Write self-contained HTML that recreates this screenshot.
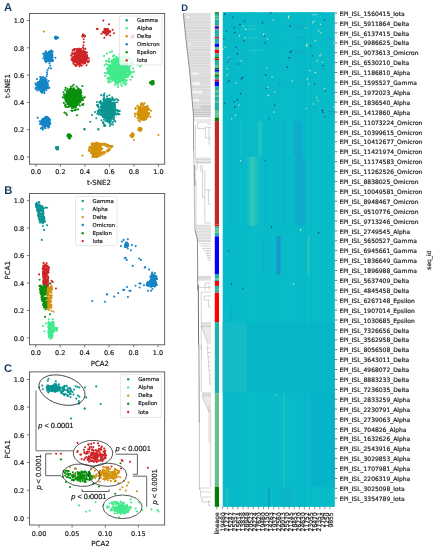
<!DOCTYPE html>
<html><head><meta charset="utf-8"><title>Figure</title>
<style>
html,body{margin:0;padding:0;background:#fff;}
text{text-rendering:geometricPrecision;}
.tk,.al,.lg,.rl,.pv{stroke:#1a1a1a;stroke-width:0.18px;}
body{width:436px;height:550px;overflow:hidden;position:relative;}
svg{position:absolute;left:0;top:0;}
.tk{font-family:"DejaVu Sans","Liberation Sans",sans-serif;font-size:6.5px;fill:#1a1a1a;}
.al{font-family:"DejaVu Sans","Liberation Sans",sans-serif;font-size:7px;fill:#1a1a1a;}
.lg{font-family:"DejaVu Sans","Liberation Sans",sans-serif;font-size:5.35px;fill:#1a1a1a;}
.rl{font-family:"DejaVu Sans","Liberation Sans",sans-serif;font-size:6px;fill:#1a1a1a;}
.pv{font-family:"Liberation Sans",Arial,sans-serif;font-size:7.4px;fill:#222;}
.pl{font-family:"Liberation Sans",Arial,sans-serif;font-size:11.2px;font-weight:bold;fill:#1c3a56;}
</style></head>
<body>
<svg width="436" height="550" viewBox="0 0 436 550">
<ellipse cx="56.4" cy="37.7" rx="1.4" ry="1.1" fill="#1585c6" transform="rotate(0.0 56.4 37.7)"/><ellipse cx="48.6" cy="56.5" rx="3.4" ry="3.9" fill="#1585c6" transform="rotate(0.0 48.6 56.5)"/><ellipse cx="42.3" cy="84.8" rx="4.5" ry="5" fill="#1585c6" transform="rotate(0.0 42.3 84.8)"/><ellipse cx="45.6" cy="122.2" rx="3.6" ry="4.1" fill="#1585c6" transform="rotate(0.0 45.6 122.2)"/><ellipse cx="80.2" cy="57.4" rx="6.2" ry="6.4" fill="#cf2527" transform="rotate(0.0 80.2 57.4)"/><ellipse cx="83.4" cy="35.6" rx="1.3" ry="0.8" fill="#cf2527" transform="rotate(0.0 83.4 35.6)"/><ellipse cx="106.5" cy="31.6" rx="2.4" ry="2.4" fill="#cf2527" transform="rotate(0.0 106.5 31.6)"/><ellipse cx="118.8" cy="70.4" rx="9.3" ry="10.2" fill="#43ea8c" transform="rotate(0.0 118.8 70.4)"/><ellipse cx="73.5" cy="97.4" rx="7.1" ry="8" fill="#0b900e" transform="rotate(0.0 73.5 97.4)"/><ellipse cx="152" cy="82.9" rx="1.9" ry="1.4" fill="#0b900e" transform="rotate(-35 152 82.9)"/><ellipse cx="69.2" cy="136.2" rx="1.5" ry="1.7" fill="#0b900e" transform="rotate(0.0 69.2 136.2)"/><ellipse cx="108" cy="109.6" rx="6.5" ry="9" fill="#0c9592" transform="rotate(0.0 108 109.6)"/><ellipse cx="57.2" cy="148.2" rx="1.3" ry="1.3" fill="#0c9592" transform="rotate(0.0 57.2 148.2)"/><ellipse cx="143" cy="113" rx="4.8" ry="5.8" fill="#d4920c" transform="rotate(0.0 143 113)"/><ellipse cx="139.9" cy="129.4" rx="1.4" ry="1.1" fill="#d4920c" transform="rotate(0.0 139.9 129.4)"/><ellipse cx="132.2" cy="135.4" rx="1.8" ry="1.5" fill="#d4920c" transform="rotate(0.0 132.2 135.4)"/><ellipse cx="96" cy="150" rx="4.6" ry="5.8" fill="#d4920c" transform="rotate(0.0 96 150)"/><g fill="#d4920c"><circle cx="43.8" cy="31.6" r="1.05"/><circle cx="148.1" cy="113.1" r="1.05"/><circle cx="137.3" cy="113.3" r="1.05"/><circle cx="143.9" cy="111.9" r="1.05"/><circle cx="140" cy="113" r="1.05"/><circle cx="141.6" cy="113.7" r="1.05"/><circle cx="140.5" cy="116.5" r="1.05"/><circle cx="147.1" cy="113.1" r="1.05"/><circle cx="144.2" cy="111.9" r="1.05"/><circle cx="146.9" cy="111.3" r="1.05"/><circle cx="144.4" cy="119.9" r="1.05"/><circle cx="139.1" cy="113.8" r="1.05"/><circle cx="139" cy="117.7" r="1.05"/><circle cx="144.9" cy="115.4" r="1.05"/><circle cx="142.7" cy="114.8" r="1.05"/><circle cx="145.3" cy="108.8" r="1.05"/><circle cx="138.5" cy="109" r="1.05"/><circle cx="139.8" cy="113.1" r="1.05"/><circle cx="138.8" cy="112" r="1.05"/><circle cx="142.1" cy="116.3" r="1.05"/><circle cx="139.8" cy="117.8" r="1.05"/><circle cx="146" cy="119.2" r="1.05"/><circle cx="143.3" cy="116.7" r="1.05"/><circle cx="145.7" cy="116.1" r="1.05"/><circle cx="139.6" cy="117.3" r="1.05"/><circle cx="145.4" cy="110.8" r="1.05"/><circle cx="144.2" cy="109.3" r="1.05"/><circle cx="141.2" cy="114.4" r="1.05"/><circle cx="145.9" cy="110.3" r="1.05"/><circle cx="142.7" cy="111.9" r="1.05"/><circle cx="142.1" cy="109.8" r="1.05"/><circle cx="138.3" cy="114.8" r="1.05"/><circle cx="145.1" cy="117.6" r="1.05"/><circle cx="144.2" cy="110.5" r="1.05"/><circle cx="140.5" cy="113.6" r="1.05"/><circle cx="145.6" cy="116.9" r="1.05"/><circle cx="138.4" cy="114.6" r="1.05"/><circle cx="146.2" cy="108.3" r="1.05"/><circle cx="140.8" cy="117.3" r="1.05"/><circle cx="140.5" cy="107.1" r="1.05"/><circle cx="141.3" cy="108.3" r="1.05"/><circle cx="146.7" cy="118" r="1.05"/><circle cx="142.3" cy="117.5" r="1.05"/><circle cx="145" cy="110.8" r="1.05"/><circle cx="145.5" cy="111.2" r="1.05"/><circle cx="146.7" cy="115.7" r="1.05"/><circle cx="144.1" cy="108.6" r="1.05"/><circle cx="145.1" cy="109.2" r="1.05"/><circle cx="143.8" cy="110.8" r="1.05"/><circle cx="142.6" cy="115.5" r="1.05"/><circle cx="142.7" cy="108.1" r="1.05"/><circle cx="141.4" cy="110.1" r="1.05"/><circle cx="142.4" cy="105.9" r="1.05"/><circle cx="146" cy="114.9" r="1.05"/><circle cx="146.8" cy="108.1" r="1.05"/><circle cx="145" cy="110.5" r="1.05"/><circle cx="141.4" cy="112.2" r="1.05"/><circle cx="138.9" cy="115.3" r="1.05"/><circle cx="142.8" cy="117.7" r="1.05"/><circle cx="141.8" cy="114.6" r="1.05"/><circle cx="147.8" cy="115.7" r="1.05"/><circle cx="149" cy="113.1" r="1.05"/><circle cx="147.8" cy="108.7" r="1.05"/><circle cx="143.1" cy="112.7" r="1.05"/><circle cx="145.5" cy="115.7" r="1.05"/><circle cx="143.6" cy="114.6" r="1.05"/><circle cx="148" cy="109.6" r="1.05"/><circle cx="143.3" cy="109.4" r="1.05"/><circle cx="146.3" cy="107.8" r="1.05"/><circle cx="142" cy="115.3" r="1.05"/><circle cx="145.5" cy="116.5" r="1.05"/><circle cx="143.8" cy="111.3" r="1.05"/><circle cx="139.8" cy="114.8" r="1.05"/><circle cx="144.8" cy="111.2" r="1.05"/><circle cx="141.1" cy="109.6" r="1.05"/><circle cx="139.7" cy="107.8" r="1.05"/><circle cx="145.5" cy="107.1" r="1.05"/><circle cx="142.2" cy="116.6" r="1.05"/><circle cx="145.2" cy="115.5" r="1.05"/><circle cx="146.9" cy="117.3" r="1.05"/><circle cx="145.5" cy="113.9" r="1.05"/><circle cx="144.3" cy="106.9" r="1.05"/><circle cx="146.7" cy="112.3" r="1.05"/><circle cx="148.2" cy="114.8" r="1.05"/><circle cx="141.8" cy="119.2" r="1.05"/><circle cx="144.1" cy="113.2" r="1.05"/><circle cx="139" cy="109.6" r="1.05"/><circle cx="139" cy="111" r="1.05"/><circle cx="141.2" cy="111.5" r="1.05"/><circle cx="146.3" cy="114.7" r="1.05"/><circle cx="140.1" cy="111.9" r="1.05"/><circle cx="144.7" cy="117.3" r="1.05"/><circle cx="140.4" cy="115" r="1.05"/><circle cx="148.2" cy="109.9" r="1.05"/><circle cx="147" cy="114.4" r="1.05"/><circle cx="143.3" cy="117.2" r="1.05"/><circle cx="144.7" cy="113.4" r="1.05"/><circle cx="145.1" cy="113.5" r="1.05"/><circle cx="142" cy="111.4" r="1.05"/><circle cx="147.1" cy="108.8" r="1.05"/><circle cx="142.4" cy="118.9" r="1.05"/><circle cx="145" cy="112.3" r="1.05"/><circle cx="139.2" cy="111.2" r="1.05"/><circle cx="141.8" cy="116.6" r="1.05"/><circle cx="147.1" cy="116" r="1.05"/><circle cx="144.3" cy="117.4" r="1.05"/><circle cx="146.2" cy="111.1" r="1.05"/><circle cx="140.7" cy="119.4" r="1.05"/><circle cx="139.1" cy="110.3" r="1.05"/><circle cx="143.8" cy="118.7" r="1.05"/><circle cx="139.8" cy="116.7" r="1.05"/><circle cx="141.6" cy="114.2" r="1.05"/><circle cx="146.6" cy="108.8" r="1.05"/><circle cx="146.2" cy="112" r="1.05"/><circle cx="142.6" cy="115.6" r="1.05"/><circle cx="141.8" cy="116.9" r="1.05"/><circle cx="144.2" cy="116.4" r="1.05"/><circle cx="141.5" cy="119.4" r="1.05"/><circle cx="137.9" cy="115.2" r="1.05"/><circle cx="145.5" cy="114" r="1.05"/><circle cx="144.3" cy="112.5" r="1.05"/><circle cx="146.9" cy="115.2" r="1.05"/><circle cx="142.3" cy="116.1" r="1.05"/><circle cx="139.4" cy="109.5" r="1.05"/><circle cx="144.7" cy="117.9" r="1.05"/><circle cx="137.7" cy="114.9" r="1.05"/><circle cx="145.6" cy="114.4" r="1.05"/><circle cx="142" cy="112.5" r="1.05"/><circle cx="146.3" cy="107.2" r="1.05"/><circle cx="140.5" cy="118.6" r="1.05"/><circle cx="143" cy="120" r="1.05"/><circle cx="143.1" cy="113.5" r="1.05"/><circle cx="146.7" cy="115" r="1.05"/><circle cx="148.8" cy="114.7" r="1.05"/><circle cx="139.9" cy="109" r="1.05"/><circle cx="140.3" cy="109.7" r="1.05"/><circle cx="146.8" cy="109" r="1.05"/><circle cx="140.1" cy="114.6" r="1.05"/><circle cx="145.1" cy="116.2" r="1.05"/><circle cx="142" cy="114.6" r="1.05"/><circle cx="145.7" cy="111.3" r="1.05"/><circle cx="141.5" cy="112.5" r="1.05"/><circle cx="138.4" cy="111.1" r="1.05"/><circle cx="148.2" cy="116.4" r="1.05"/><circle cx="144.6" cy="116.2" r="1.05"/><circle cx="142.7" cy="108.8" r="1.05"/><circle cx="145.1" cy="110.5" r="1.05"/><circle cx="141" cy="118.5" r="1.05"/><circle cx="146.6" cy="107.8" r="1.05"/><circle cx="142" cy="118.1" r="1.05"/><circle cx="138.8" cy="116.1" r="1.05"/><circle cx="143.8" cy="119.5" r="1.05"/><circle cx="142.4" cy="110.1" r="1.05"/><circle cx="141.6" cy="116.8" r="1.05"/><circle cx="146.7" cy="110.9" r="1.05"/><circle cx="138.7" cy="108.4" r="1.05"/><circle cx="138.4" cy="117.2" r="1.05"/><circle cx="142.8" cy="113.8" r="1.05"/><circle cx="147" cy="116.6" r="1.05"/><circle cx="139" cy="117.5" r="1.05"/><circle cx="138.1" cy="111.8" r="1.05"/><circle cx="138.5" cy="120.2" r="1.05"/><circle cx="140.8" cy="105.1" r="1.05"/><circle cx="134.9" cy="113.6" r="1.05"/><circle cx="149.2" cy="109.4" r="1.05"/><circle cx="150.4" cy="117" r="1.05"/><circle cx="135" cy="116.3" r="1.05"/><circle cx="143.6" cy="104.7" r="1.05"/><circle cx="147.3" cy="105.8" r="1.05"/><circle cx="141.1" cy="103.4" r="1.05"/><circle cx="135.7" cy="108.1" r="1.05"/><circle cx="137.4" cy="118" r="1.05"/><circle cx="138.5" cy="106.5" r="1.05"/><circle cx="141.1" cy="104.5" r="1.05"/><circle cx="142.6" cy="103.3" r="1.05"/><circle cx="135.4" cy="108.9" r="1.05"/><circle cx="144.6" cy="103.4" r="1.05"/><circle cx="149" cy="113.9" r="1.05"/><circle cx="138.5" cy="106.9" r="1.05"/><circle cx="147.9" cy="107" r="1.05"/><circle cx="142.7" cy="105.1" r="1.05"/><circle cx="137.3" cy="105.8" r="1.05"/><circle cx="147.5" cy="106.7" r="1.05"/><circle cx="135.7" cy="114" r="1.05"/><circle cx="139" cy="120.2" r="1.05"/><circle cx="151" cy="110.8" r="1.05"/><circle cx="140" cy="121.5" r="1.05"/><circle cx="141" cy="129.1" r="1.05"/><circle cx="140.9" cy="128.2" r="1.05"/><circle cx="140.3" cy="129.1" r="1.05"/><circle cx="141.7" cy="128.7" r="1.05"/><circle cx="140" cy="130.7" r="1.05"/><circle cx="141.2" cy="130.1" r="1.05"/><circle cx="139.5" cy="128.1" r="1.05"/><circle cx="140.6" cy="128.7" r="1.05"/><circle cx="141.2" cy="130.4" r="1.05"/><circle cx="140.9" cy="129.5" r="1.05"/><circle cx="140" cy="130.8" r="1.05"/><circle cx="138.2" cy="129.9" r="1.05"/><circle cx="139" cy="128.1" r="1.05"/><circle cx="140.3" cy="127.9" r="1.05"/><circle cx="139.7" cy="130.3" r="1.05"/><circle cx="138.8" cy="128.5" r="1.05"/><circle cx="132.6" cy="133.5" r="1.05"/><circle cx="131.9" cy="136.1" r="1.05"/><circle cx="132.1" cy="133.6" r="1.05"/><circle cx="132.1" cy="135.9" r="1.05"/><circle cx="133.4" cy="135.6" r="1.05"/><circle cx="132" cy="136.4" r="1.05"/><circle cx="133.2" cy="135.7" r="1.05"/><circle cx="131.8" cy="135.9" r="1.05"/><circle cx="132.6" cy="136.8" r="1.05"/><circle cx="133.5" cy="133.7" r="1.05"/><circle cx="131.5" cy="135.8" r="1.05"/><circle cx="132" cy="137.2" r="1.05"/><circle cx="130.6" cy="136.3" r="1.05"/><circle cx="132" cy="133.6" r="1.05"/><circle cx="132.7" cy="134.9" r="1.05"/><circle cx="132.1" cy="135.8" r="1.05"/><circle cx="130.3" cy="135.2" r="1.05"/><circle cx="132.2" cy="135.9" r="1.05"/><circle cx="131.2" cy="135.6" r="1.05"/><circle cx="132.7" cy="136.7" r="1.05"/><circle cx="133.6" cy="135" r="1.05"/><circle cx="131.8" cy="134.1" r="1.05"/><circle cx="133.9" cy="140.1" r="1.05"/><circle cx="158.5" cy="135" r="1.05"/><circle cx="82.5" cy="155.6" r="1.05"/><circle cx="94.2" cy="151.5" r="1.05"/><circle cx="98" cy="155.8" r="1.05"/><circle cx="93.2" cy="151.7" r="1.05"/><circle cx="101.4" cy="149.5" r="1.05"/><circle cx="95.7" cy="154.7" r="1.05"/><circle cx="93.8" cy="148.8" r="1.05"/><circle cx="93.2" cy="151.7" r="1.05"/><circle cx="96.7" cy="147.9" r="1.05"/><circle cx="98.8" cy="149.8" r="1.05"/><circle cx="95.2" cy="151.7" r="1.05"/><circle cx="100.5" cy="146.6" r="1.05"/><circle cx="99.8" cy="152.2" r="1.05"/><circle cx="92.5" cy="153.6" r="1.05"/><circle cx="93.1" cy="156" r="1.05"/><circle cx="97" cy="156.4" r="1.05"/><circle cx="95.5" cy="155.8" r="1.05"/><circle cx="92.2" cy="152.3" r="1.05"/><circle cx="91.5" cy="149.2" r="1.05"/><circle cx="97.3" cy="150.7" r="1.05"/><circle cx="98.9" cy="149.3" r="1.05"/><circle cx="94.2" cy="152.8" r="1.05"/><circle cx="92.5" cy="144.3" r="1.05"/><circle cx="93.3" cy="152.3" r="1.05"/><circle cx="95.4" cy="151" r="1.05"/><circle cx="97.1" cy="150.8" r="1.05"/><circle cx="93.4" cy="156.4" r="1.05"/><circle cx="98.7" cy="154.1" r="1.05"/><circle cx="96.3" cy="151.3" r="1.05"/><circle cx="97.1" cy="147.8" r="1.05"/><circle cx="99.5" cy="154.9" r="1.05"/><circle cx="96.1" cy="153.2" r="1.05"/><circle cx="98.4" cy="148.9" r="1.05"/><circle cx="97.6" cy="146.5" r="1.05"/><circle cx="93" cy="148.4" r="1.05"/><circle cx="93" cy="155.9" r="1.05"/><circle cx="98" cy="148.4" r="1.05"/><circle cx="95.7" cy="147.3" r="1.05"/><circle cx="95.5" cy="151.8" r="1.05"/><circle cx="93" cy="145.1" r="1.05"/><circle cx="95.9" cy="143.7" r="1.05"/><circle cx="94.1" cy="151.9" r="1.05"/><circle cx="99.8" cy="150.1" r="1.05"/><circle cx="99.5" cy="148" r="1.05"/><circle cx="91.9" cy="145.4" r="1.05"/><circle cx="99.2" cy="145.3" r="1.05"/><circle cx="93.7" cy="148.1" r="1.05"/><circle cx="96" cy="145.3" r="1.05"/><circle cx="95.3" cy="146.7" r="1.05"/><circle cx="98.2" cy="148.9" r="1.05"/><circle cx="97.4" cy="143.4" r="1.05"/><circle cx="99.1" cy="155.5" r="1.05"/><circle cx="93.2" cy="145.6" r="1.05"/><circle cx="95.9" cy="154.1" r="1.05"/><circle cx="96.4" cy="154.8" r="1.05"/><circle cx="93" cy="145.1" r="1.05"/><circle cx="95.1" cy="145.9" r="1.05"/><circle cx="93.4" cy="155.4" r="1.05"/><circle cx="98.7" cy="149.4" r="1.05"/><circle cx="93.4" cy="152" r="1.05"/><circle cx="96.7" cy="149.9" r="1.05"/><circle cx="100" cy="146.1" r="1.05"/><circle cx="93.6" cy="155.2" r="1.05"/><circle cx="92.8" cy="154.2" r="1.05"/><circle cx="91.1" cy="153.1" r="1.05"/><circle cx="91" cy="151.7" r="1.05"/><circle cx="92.9" cy="148" r="1.05"/><circle cx="98.5" cy="149.3" r="1.05"/><circle cx="100.8" cy="146.1" r="1.05"/><circle cx="98.6" cy="145.4" r="1.05"/><circle cx="92" cy="145.2" r="1.05"/><circle cx="91.2" cy="152.7" r="1.05"/><circle cx="96.8" cy="143.4" r="1.05"/><circle cx="91.6" cy="152.1" r="1.05"/><circle cx="97.3" cy="151.1" r="1.05"/><circle cx="99.9" cy="153.9" r="1.05"/><circle cx="92.6" cy="155.4" r="1.05"/><circle cx="98.1" cy="151.4" r="1.05"/><circle cx="97.9" cy="146" r="1.05"/><circle cx="96.9" cy="156.3" r="1.05"/><circle cx="96.6" cy="157.1" r="1.05"/><circle cx="95.2" cy="156.6" r="1.05"/><circle cx="90.4" cy="150.9" r="1.05"/><circle cx="94.4" cy="156.6" r="1.05"/><circle cx="94.7" cy="154.6" r="1.05"/><circle cx="93.1" cy="146" r="1.05"/><circle cx="93.7" cy="144.7" r="1.05"/><circle cx="95.9" cy="150.7" r="1.05"/><circle cx="95.3" cy="144.5" r="1.05"/><circle cx="92.2" cy="148" r="1.05"/><circle cx="98.8" cy="148.3" r="1.05"/><circle cx="98" cy="148.5" r="1.05"/><circle cx="94.1" cy="143.4" r="1.05"/><circle cx="98.9" cy="155.2" r="1.05"/><circle cx="95.8" cy="151.7" r="1.05"/><circle cx="91.6" cy="152.5" r="1.05"/><circle cx="94.8" cy="156.9" r="1.05"/><circle cx="99" cy="150.1" r="1.05"/><circle cx="94.1" cy="153.7" r="1.05"/><circle cx="95.7" cy="151" r="1.05"/><circle cx="96.7" cy="153.6" r="1.05"/><circle cx="94.3" cy="146.1" r="1.05"/><circle cx="95.3" cy="145.3" r="1.05"/><circle cx="94.8" cy="152.4" r="1.05"/><circle cx="96.7" cy="156.8" r="1.05"/><circle cx="92.9" cy="151.1" r="1.05"/><circle cx="97.1" cy="156.6" r="1.05"/><circle cx="94.6" cy="144.2" r="1.05"/><circle cx="97" cy="146.7" r="1.05"/><circle cx="95.8" cy="148.1" r="1.05"/><circle cx="94.3" cy="146.5" r="1.05"/><circle cx="94.5" cy="147.1" r="1.05"/><circle cx="93.1" cy="154.7" r="1.05"/><circle cx="99.1" cy="148.4" r="1.05"/><circle cx="97" cy="152.2" r="1.05"/><circle cx="93.4" cy="144" r="1.05"/><circle cx="99.4" cy="150.4" r="1.05"/><circle cx="98.8" cy="156.1" r="1.05"/><circle cx="97" cy="151.4" r="1.05"/><circle cx="96.7" cy="142.8" r="1.05"/><circle cx="96.3" cy="147.6" r="1.05"/><circle cx="92.5" cy="152.8" r="1.05"/><circle cx="100" cy="146.3" r="1.05"/><circle cx="99.6" cy="151.8" r="1.05"/><circle cx="96.8" cy="144.8" r="1.05"/><circle cx="93.2" cy="143.9" r="1.05"/><circle cx="101.3" cy="149.1" r="1.05"/><circle cx="93.1" cy="148.3" r="1.05"/><circle cx="97.3" cy="152.5" r="1.05"/><circle cx="92.8" cy="145.1" r="1.05"/><circle cx="99.5" cy="144.7" r="1.05"/><circle cx="95.2" cy="154" r="1.05"/><circle cx="97.4" cy="155" r="1.05"/><circle cx="100.8" cy="147.9" r="1.05"/><circle cx="93.9" cy="151.1" r="1.05"/><circle cx="99" cy="144.3" r="1.05"/><circle cx="96.4" cy="146.1" r="1.05"/><circle cx="92.6" cy="153.5" r="1.05"/><circle cx="98.5" cy="148.2" r="1.05"/><circle cx="94.8" cy="150.9" r="1.05"/><circle cx="98.9" cy="150.1" r="1.05"/><circle cx="97.7" cy="144.5" r="1.05"/><circle cx="92.3" cy="150.7" r="1.05"/><circle cx="95.5" cy="156.3" r="1.05"/><circle cx="94.5" cy="150.1" r="1.05"/><circle cx="92" cy="144.9" r="1.05"/><circle cx="101.2" cy="153.2" r="1.05"/><circle cx="98.6" cy="152.3" r="1.05"/><circle cx="101.7" cy="149" r="1.05"/><circle cx="98" cy="155.6" r="1.05"/><circle cx="93.2" cy="147" r="1.05"/><circle cx="97" cy="144.4" r="1.05"/><circle cx="96.6" cy="155" r="1.05"/><circle cx="94.8" cy="144.5" r="1.05"/><circle cx="91.2" cy="148.4" r="1.05"/><circle cx="96.8" cy="151.1" r="1.05"/><circle cx="100.5" cy="151.2" r="1.05"/><circle cx="91.1" cy="152.6" r="1.05"/><circle cx="97.9" cy="149.6" r="1.05"/><circle cx="93.3" cy="153.2" r="1.05"/><circle cx="90.7" cy="148" r="1.05"/><circle cx="93.4" cy="147.7" r="1.05"/><circle cx="94.3" cy="146.5" r="1.05"/><circle cx="94.3" cy="149.2" r="1.05"/><circle cx="92.3" cy="148.1" r="1.05"/><circle cx="93.3" cy="145.7" r="1.05"/><circle cx="91.5" cy="147.3" r="1.05"/><circle cx="99.4" cy="154.6" r="1.05"/><circle cx="92.6" cy="145.8" r="1.05"/><circle cx="94.6" cy="151.2" r="1.05"/><circle cx="100.7" cy="146.9" r="1.05"/><circle cx="102.3" cy="148.8" r="1.05"/><circle cx="101.1" cy="144.4" r="1.05"/><circle cx="89.5" cy="147.4" r="1.05"/><circle cx="98.3" cy="143.3" r="1.05"/><circle cx="100.2" cy="155.8" r="1.05"/><circle cx="89.6" cy="148.3" r="1.05"/><circle cx="89.7" cy="146.7" r="1.05"/><circle cx="97.9" cy="143" r="1.05"/><circle cx="92.4" cy="157.2" r="1.05"/><circle cx="96.2" cy="142.8" r="1.05"/><circle cx="91.8" cy="144.7" r="1.05"/><circle cx="89" cy="149.8" r="1.05"/><circle cx="102" cy="153.8" r="1.05"/><circle cx="89.1" cy="150.9" r="1.05"/><circle cx="99.7" cy="144.4" r="1.05"/><circle cx="91.8" cy="143.4" r="1.05"/><circle cx="102.7" cy="144.5" r="1.05"/><circle cx="102" cy="143.7" r="1.05"/><circle cx="112.4" cy="146.1" r="1.05"/><circle cx="105.6" cy="143.7" r="1.05"/><circle cx="108.1" cy="145.5" r="1.05"/><circle cx="107.8" cy="144.9" r="1.05"/><circle cx="107.2" cy="146.7" r="1.05"/><circle cx="105.4" cy="145.8" r="1.05"/><circle cx="111.2" cy="147.6" r="1.05"/><circle cx="100.9" cy="143.7" r="1.05"/><circle cx="106.7" cy="144.9" r="1.05"/><circle cx="111.1" cy="146.4" r="1.05"/><circle cx="103.6" cy="144.3" r="1.05"/><circle cx="106.7" cy="145.8" r="1.05"/><circle cx="111.7" cy="146.9" r="1.05"/><circle cx="110.5" cy="146" r="1.05"/><circle cx="99.8" cy="144" r="1.05"/><circle cx="104" cy="143.5" r="1.05"/><circle cx="105.4" cy="144.7" r="1.05"/><circle cx="107.6" cy="145.8" r="1.05"/><circle cx="109.5" cy="145.9" r="1.05"/><circle cx="111.1" cy="146.7" r="1.05"/><circle cx="103.3" cy="144.7" r="1.05"/><circle cx="103.5" cy="144" r="1.05"/><circle cx="108.2" cy="145.6" r="1.05"/><circle cx="102.1" cy="144.3" r="1.05"/><circle cx="107.3" cy="144.7" r="1.05"/><circle cx="105.4" cy="144.8" r="1.05"/><circle cx="107.7" cy="145.6" r="1.05"/><circle cx="109.3" cy="146.6" r="1.05"/><circle cx="107.4" cy="151.3" r="1.05"/><circle cx="102.2" cy="153.3" r="1.05"/><circle cx="108.7" cy="149.6" r="1.05"/><circle cx="104.7" cy="152.1" r="1.05"/><circle cx="107.3" cy="151.5" r="1.05"/><circle cx="102.4" cy="154.7" r="1.05"/><circle cx="101.9" cy="153.1" r="1.05"/><circle cx="109.8" cy="149.9" r="1.05"/><circle cx="104.3" cy="152.9" r="1.05"/><circle cx="102.2" cy="153.8" r="1.05"/><circle cx="104.8" cy="152.4" r="1.05"/><circle cx="101.9" cy="153.1" r="1.05"/><circle cx="102.3" cy="153.6" r="1.05"/><circle cx="104.4" cy="153.5" r="1.05"/><circle cx="108.3" cy="150.9" r="1.05"/><circle cx="107.5" cy="150.1" r="1.05"/><circle cx="104.2" cy="152.5" r="1.05"/><circle cx="103.9" cy="152.1" r="1.05"/><circle cx="107.1" cy="151.1" r="1.05"/><circle cx="102.8" cy="152.9" r="1.05"/><circle cx="102.5" cy="152.4" r="1.05"/><circle cx="109" cy="148.9" r="1.05"/></g><g fill="#1585c6"><circle cx="55.3" cy="36.8" r="1.05"/><circle cx="56.5" cy="37" r="1.05"/><circle cx="55.9" cy="38.9" r="1.05"/><circle cx="57.9" cy="37.7" r="1.05"/><circle cx="56.7" cy="36.8" r="1.05"/><circle cx="56.1" cy="38.4" r="1.05"/><circle cx="56.4" cy="38.6" r="1.05"/><circle cx="55.1" cy="37.7" r="1.05"/><circle cx="57.9" cy="37.7" r="1.05"/><circle cx="55.2" cy="36.7" r="1.05"/><circle cx="56.5" cy="38.2" r="1.05"/><circle cx="56.1" cy="37.5" r="1.05"/><circle cx="57.6" cy="37.9" r="1.05"/><circle cx="54.8" cy="38" r="1.05"/><circle cx="46.5" cy="54" r="1.05"/><circle cx="46.5" cy="56.5" r="1.05"/><circle cx="50.5" cy="56.7" r="1.05"/><circle cx="47.9" cy="54.4" r="1.05"/><circle cx="48.4" cy="56.7" r="1.05"/><circle cx="49.4" cy="54.8" r="1.05"/><circle cx="48.2" cy="61.1" r="1.05"/><circle cx="44.6" cy="56.2" r="1.05"/><circle cx="46.2" cy="53.3" r="1.05"/><circle cx="51.3" cy="58.5" r="1.05"/><circle cx="44.6" cy="56.3" r="1.05"/><circle cx="46.5" cy="59.4" r="1.05"/><circle cx="51.1" cy="57.6" r="1.05"/><circle cx="47.9" cy="58.2" r="1.05"/><circle cx="49.7" cy="53.7" r="1.05"/><circle cx="51.9" cy="56" r="1.05"/><circle cx="45.9" cy="54.1" r="1.05"/><circle cx="47.9" cy="54.8" r="1.05"/><circle cx="46.6" cy="57.4" r="1.05"/><circle cx="47.5" cy="57.4" r="1.05"/><circle cx="50.6" cy="56" r="1.05"/><circle cx="47.5" cy="54.1" r="1.05"/><circle cx="51.1" cy="53.7" r="1.05"/><circle cx="51.3" cy="59.8" r="1.05"/><circle cx="52.4" cy="54.9" r="1.05"/><circle cx="47.1" cy="55.7" r="1.05"/><circle cx="50.1" cy="60.9" r="1.05"/><circle cx="46.9" cy="55.8" r="1.05"/><circle cx="51.2" cy="53.9" r="1.05"/><circle cx="46.2" cy="55.2" r="1.05"/><circle cx="46.8" cy="57.8" r="1.05"/><circle cx="52.5" cy="57.6" r="1.05"/><circle cx="45.5" cy="57.2" r="1.05"/><circle cx="47" cy="60.3" r="1.05"/><circle cx="51.2" cy="57" r="1.05"/><circle cx="50.1" cy="56.8" r="1.05"/><circle cx="52" cy="55.7" r="1.05"/><circle cx="45.8" cy="58" r="1.05"/><circle cx="50.4" cy="54.4" r="1.05"/><circle cx="45.6" cy="54.3" r="1.05"/><circle cx="46.7" cy="59.3" r="1.05"/><circle cx="49" cy="51.8" r="1.05"/><circle cx="51" cy="60.3" r="1.05"/><circle cx="52.3" cy="56.6" r="1.05"/><circle cx="49.2" cy="54.8" r="1.05"/><circle cx="45.2" cy="58.7" r="1.05"/><circle cx="52" cy="56.8" r="1.05"/><circle cx="49.4" cy="53.1" r="1.05"/><circle cx="48.3" cy="54.2" r="1.05"/><circle cx="49.4" cy="59.3" r="1.05"/><circle cx="49.7" cy="59.1" r="1.05"/><circle cx="51.7" cy="55.3" r="1.05"/><circle cx="47.4" cy="58.7" r="1.05"/><circle cx="51.3" cy="55.5" r="1.05"/><circle cx="51.7" cy="56.1" r="1.05"/><circle cx="44.6" cy="55.9" r="1.05"/><circle cx="48.5" cy="52.8" r="1.05"/><circle cx="45" cy="58.5" r="1.05"/><circle cx="45.1" cy="59" r="1.05"/><circle cx="51.2" cy="57.8" r="1.05"/><circle cx="44.4" cy="55.9" r="1.05"/><circle cx="48.6" cy="60.9" r="1.05"/><circle cx="47" cy="52.8" r="1.05"/><circle cx="45.7" cy="53" r="1.05"/><circle cx="47.3" cy="59.2" r="1.05"/><circle cx="48.9" cy="57.6" r="1.05"/><circle cx="49.6" cy="61.1" r="1.05"/><circle cx="49.4" cy="55.1" r="1.05"/><circle cx="46.2" cy="54.4" r="1.05"/><circle cx="45.7" cy="54.3" r="1.05"/><circle cx="47.1" cy="61" r="1.05"/><circle cx="45.3" cy="57.3" r="1.05"/><circle cx="47.4" cy="54.9" r="1.05"/><circle cx="51.2" cy="57.7" r="1.05"/><circle cx="48.9" cy="52.1" r="1.05"/><circle cx="48.4" cy="54.9" r="1.05"/><circle cx="51.9" cy="54.2" r="1.05"/><circle cx="50.8" cy="54" r="1.05"/><circle cx="49.4" cy="56" r="1.05"/><circle cx="49.2" cy="56.6" r="1.05"/><circle cx="48.6" cy="58.9" r="1.05"/><circle cx="49.8" cy="59.9" r="1.05"/><circle cx="51.8" cy="57.4" r="1.05"/><circle cx="50.4" cy="60" r="1.05"/><circle cx="51" cy="56.9" r="1.05"/><circle cx="51.5" cy="55.1" r="1.05"/><circle cx="49.9" cy="52.8" r="1.05"/><circle cx="47.2" cy="55.1" r="1.05"/><circle cx="47.8" cy="56.1" r="1.05"/><circle cx="49.9" cy="51.9" r="1.05"/><circle cx="51.3" cy="52.5" r="1.05"/><circle cx="46" cy="61.2" r="1.05"/><circle cx="52.7" cy="60.5" r="1.05"/><circle cx="50" cy="51.2" r="1.05"/><circle cx="52.3" cy="51.5" r="1.05"/><circle cx="52.5" cy="61.2" r="1.05"/><circle cx="52" cy="52.9" r="1.05"/><circle cx="43.7" cy="53.7" r="1.05"/><circle cx="45.1" cy="53.3" r="1.05"/><circle cx="45.7" cy="51.2" r="1.05"/><circle cx="51.2" cy="50.6" r="1.05"/><circle cx="46" cy="62.1" r="1.05"/><circle cx="52.6" cy="51.5" r="1.05"/><circle cx="50.9" cy="60.7" r="1.05"/><circle cx="45.9" cy="52.2" r="1.05"/><circle cx="43.1" cy="53.8" r="1.05"/><circle cx="45.1" cy="60.2" r="1.05"/><circle cx="43.3" cy="58.2" r="1.05"/><circle cx="52.6" cy="59.9" r="1.05"/><circle cx="52.3" cy="61.2" r="1.05"/><circle cx="51" cy="51.5" r="1.05"/><circle cx="44.9" cy="60.8" r="1.05"/><circle cx="49.6" cy="61.8" r="1.05"/><circle cx="46.1" cy="61.6" r="1.05"/><circle cx="55.4" cy="57.7" r="1.05"/><circle cx="49.5" cy="63.5" r="1.05"/><circle cx="50.2" cy="65.8" r="1.05"/><circle cx="48.8" cy="68" r="1.05"/><circle cx="47.6" cy="70" r="1.05"/><circle cx="46.9" cy="72.2" r="1.05"/><circle cx="47.2" cy="74.3" r="1.05"/><circle cx="46.6" cy="76.2" r="1.05"/><circle cx="51" cy="68.5" r="1.05"/><circle cx="46.5" cy="87.5" r="1.05"/><circle cx="39.6" cy="83.2" r="1.05"/><circle cx="46.6" cy="87.4" r="1.05"/><circle cx="43.7" cy="86.5" r="1.05"/><circle cx="43.4" cy="86.1" r="1.05"/><circle cx="44.7" cy="83" r="1.05"/><circle cx="40.5" cy="90.2" r="1.05"/><circle cx="40.5" cy="82.9" r="1.05"/><circle cx="37.5" cy="87.2" r="1.05"/><circle cx="39" cy="88.5" r="1.05"/><circle cx="46.2" cy="87.9" r="1.05"/><circle cx="43.1" cy="79.2" r="1.05"/><circle cx="40.7" cy="81.4" r="1.05"/><circle cx="46" cy="86.6" r="1.05"/><circle cx="42.4" cy="82.1" r="1.05"/><circle cx="41.9" cy="89.4" r="1.05"/><circle cx="42.2" cy="78.8" r="1.05"/><circle cx="44" cy="86.7" r="1.05"/><circle cx="43.7" cy="80" r="1.05"/><circle cx="41.3" cy="78.6" r="1.05"/><circle cx="47.1" cy="82.6" r="1.05"/><circle cx="42.9" cy="80.9" r="1.05"/><circle cx="40.8" cy="82.7" r="1.05"/><circle cx="42.6" cy="79.3" r="1.05"/><circle cx="41.6" cy="80.7" r="1.05"/><circle cx="39.7" cy="87.6" r="1.05"/><circle cx="47.3" cy="86" r="1.05"/><circle cx="38.9" cy="83.8" r="1.05"/><circle cx="37.8" cy="83.2" r="1.05"/><circle cx="38.5" cy="88.7" r="1.05"/><circle cx="45.3" cy="82.9" r="1.05"/><circle cx="45.5" cy="89" r="1.05"/><circle cx="44.5" cy="84.7" r="1.05"/><circle cx="41.1" cy="79.2" r="1.05"/><circle cx="44" cy="83.7" r="1.05"/><circle cx="47" cy="88.2" r="1.05"/><circle cx="44" cy="86.6" r="1.05"/><circle cx="39" cy="82.9" r="1.05"/><circle cx="42.3" cy="82" r="1.05"/><circle cx="44.5" cy="83.3" r="1.05"/><circle cx="42.5" cy="83.2" r="1.05"/><circle cx="41.3" cy="85" r="1.05"/><circle cx="41.1" cy="88" r="1.05"/><circle cx="41.6" cy="80.6" r="1.05"/><circle cx="47.5" cy="87" r="1.05"/><circle cx="46.4" cy="80.9" r="1.05"/><circle cx="42.4" cy="88.8" r="1.05"/><circle cx="42.6" cy="87" r="1.05"/><circle cx="46.2" cy="85.7" r="1.05"/><circle cx="44" cy="86.6" r="1.05"/><circle cx="44.8" cy="81.4" r="1.05"/><circle cx="44.2" cy="89.5" r="1.05"/><circle cx="41.9" cy="89.4" r="1.05"/><circle cx="41.5" cy="89.2" r="1.05"/><circle cx="39.5" cy="81.5" r="1.05"/><circle cx="38.4" cy="88.2" r="1.05"/><circle cx="44" cy="82.9" r="1.05"/><circle cx="43.5" cy="86.4" r="1.05"/><circle cx="47.7" cy="84" r="1.05"/><circle cx="43" cy="91" r="1.05"/><circle cx="43.3" cy="89.1" r="1.05"/><circle cx="36.9" cy="84.9" r="1.05"/><circle cx="45.3" cy="85.7" r="1.05"/><circle cx="41.1" cy="83.8" r="1.05"/><circle cx="42.6" cy="89.1" r="1.05"/><circle cx="45.9" cy="81.1" r="1.05"/><circle cx="44.6" cy="80" r="1.05"/><circle cx="40.9" cy="79.2" r="1.05"/><circle cx="40.3" cy="79.9" r="1.05"/><circle cx="41.6" cy="87.2" r="1.05"/><circle cx="42.4" cy="82.2" r="1.05"/><circle cx="46.1" cy="82.4" r="1.05"/><circle cx="39.7" cy="90.2" r="1.05"/><circle cx="44.6" cy="88.5" r="1.05"/><circle cx="46.9" cy="88.2" r="1.05"/><circle cx="37.8" cy="82.2" r="1.05"/><circle cx="41.3" cy="90.3" r="1.05"/><circle cx="41" cy="80" r="1.05"/><circle cx="45.8" cy="83.5" r="1.05"/><circle cx="38.3" cy="87.5" r="1.05"/><circle cx="44" cy="81.7" r="1.05"/><circle cx="41.1" cy="82.3" r="1.05"/><circle cx="37.6" cy="83" r="1.05"/><circle cx="46.7" cy="86.9" r="1.05"/><circle cx="47.8" cy="85.4" r="1.05"/><circle cx="38.8" cy="85.6" r="1.05"/><circle cx="41.6" cy="80.3" r="1.05"/><circle cx="42.1" cy="83" r="1.05"/><circle cx="38.4" cy="83" r="1.05"/><circle cx="43.3" cy="84.3" r="1.05"/><circle cx="38" cy="86.3" r="1.05"/><circle cx="40.9" cy="84.3" r="1.05"/><circle cx="40.1" cy="83.2" r="1.05"/><circle cx="44.1" cy="90.4" r="1.05"/><circle cx="43.5" cy="88.8" r="1.05"/><circle cx="42.3" cy="79.5" r="1.05"/><circle cx="37.6" cy="82.9" r="1.05"/><circle cx="38" cy="85.9" r="1.05"/><circle cx="44.2" cy="80.1" r="1.05"/><circle cx="40.1" cy="81.7" r="1.05"/><circle cx="39" cy="83.4" r="1.05"/><circle cx="42.2" cy="80.9" r="1.05"/><circle cx="37.5" cy="85.9" r="1.05"/><circle cx="39" cy="84.7" r="1.05"/><circle cx="43.9" cy="81.4" r="1.05"/><circle cx="45.1" cy="80.2" r="1.05"/><circle cx="37.8" cy="86.5" r="1.05"/><circle cx="45.7" cy="85.6" r="1.05"/><circle cx="45" cy="81.1" r="1.05"/><circle cx="38" cy="83" r="1.05"/><circle cx="40.4" cy="80.5" r="1.05"/><circle cx="40.2" cy="86.1" r="1.05"/><circle cx="41.5" cy="88.1" r="1.05"/><circle cx="37.2" cy="87.5" r="1.05"/><circle cx="40.1" cy="88.2" r="1.05"/><circle cx="39.3" cy="88.3" r="1.05"/><circle cx="47.3" cy="82.9" r="1.05"/><circle cx="40.2" cy="87.1" r="1.05"/><circle cx="45.2" cy="81.9" r="1.05"/><circle cx="41.7" cy="83.2" r="1.05"/><circle cx="46.5" cy="79.5" r="1.05"/><circle cx="36.3" cy="85" r="1.05"/><circle cx="35.8" cy="88.8" r="1.05"/><circle cx="45.4" cy="78.2" r="1.05"/><circle cx="43" cy="77.4" r="1.05"/><circle cx="37.5" cy="90.3" r="1.05"/><circle cx="44.2" cy="91.6" r="1.05"/><circle cx="40.3" cy="76.9" r="1.05"/><circle cx="49.1" cy="87.6" r="1.05"/><circle cx="45" cy="78" r="1.05"/><circle cx="48.9" cy="87.9" r="1.05"/><circle cx="42.5" cy="92.7" r="1.05"/><circle cx="37.3" cy="90.3" r="1.05"/><circle cx="42" cy="92.3" r="1.05"/><circle cx="35.4" cy="83.6" r="1.05"/><circle cx="44.5" cy="93.1" r="1.05"/><circle cx="40.8" cy="91.7" r="1.05"/><circle cx="42.1" cy="91.3" r="1.05"/><circle cx="35.8" cy="88.6" r="1.05"/><circle cx="40.8" cy="78.2" r="1.05"/><circle cx="46.4" cy="90.2" r="1.05"/><circle cx="43.1" cy="77.3" r="1.05"/><circle cx="48.6" cy="81.1" r="1.05"/><circle cx="37" cy="79.1" r="1.05"/><circle cx="42.3" cy="77.6" r="1.05"/><circle cx="42" cy="92.2" r="1.05"/><circle cx="36.4" cy="85.2" r="1.05"/><circle cx="35.7" cy="87.7" r="1.05"/><circle cx="46.7" cy="123.7" r="1.05"/><circle cx="46.7" cy="124.7" r="1.05"/><circle cx="46.3" cy="122" r="1.05"/><circle cx="46.4" cy="124.1" r="1.05"/><circle cx="45" cy="122.3" r="1.05"/><circle cx="43.8" cy="122.7" r="1.05"/><circle cx="45.1" cy="126.8" r="1.05"/><circle cx="47.1" cy="125.9" r="1.05"/><circle cx="43.1" cy="124.1" r="1.05"/><circle cx="46.4" cy="120.3" r="1.05"/><circle cx="49.5" cy="119.9" r="1.05"/><circle cx="45.1" cy="121.2" r="1.05"/><circle cx="43.8" cy="118.8" r="1.05"/><circle cx="45.9" cy="119.8" r="1.05"/><circle cx="49.7" cy="120.8" r="1.05"/><circle cx="47.5" cy="124.1" r="1.05"/><circle cx="49.7" cy="123.2" r="1.05"/><circle cx="49.5" cy="119.6" r="1.05"/><circle cx="42.7" cy="119.5" r="1.05"/><circle cx="44.1" cy="118.7" r="1.05"/><circle cx="49" cy="121" r="1.05"/><circle cx="43.9" cy="125.4" r="1.05"/><circle cx="49.5" cy="122.7" r="1.05"/><circle cx="44.6" cy="119" r="1.05"/><circle cx="48" cy="118.6" r="1.05"/><circle cx="44.9" cy="123.4" r="1.05"/><circle cx="46.9" cy="123.8" r="1.05"/><circle cx="44.6" cy="125.5" r="1.05"/><circle cx="47.8" cy="121" r="1.05"/><circle cx="48.6" cy="119.6" r="1.05"/><circle cx="47.4" cy="119.6" r="1.05"/><circle cx="49.7" cy="122.3" r="1.05"/><circle cx="45.6" cy="124.2" r="1.05"/><circle cx="46.8" cy="118.1" r="1.05"/><circle cx="46.2" cy="124.8" r="1.05"/><circle cx="47.8" cy="121.2" r="1.05"/><circle cx="45.1" cy="120.4" r="1.05"/><circle cx="46.2" cy="120.6" r="1.05"/><circle cx="44.7" cy="122.1" r="1.05"/><circle cx="41.6" cy="120.7" r="1.05"/><circle cx="47.7" cy="123.6" r="1.05"/><circle cx="45.9" cy="118.2" r="1.05"/><circle cx="44.2" cy="126" r="1.05"/><circle cx="41.5" cy="123.6" r="1.05"/><circle cx="44.5" cy="126.6" r="1.05"/><circle cx="43" cy="118.8" r="1.05"/><circle cx="42.8" cy="125.3" r="1.05"/><circle cx="44.7" cy="119.1" r="1.05"/><circle cx="50.1" cy="123" r="1.05"/><circle cx="45.1" cy="119.9" r="1.05"/><circle cx="45.3" cy="119.5" r="1.05"/><circle cx="41.4" cy="123.1" r="1.05"/><circle cx="43.3" cy="123.1" r="1.05"/><circle cx="45.2" cy="123.6" r="1.05"/><circle cx="46.1" cy="124.9" r="1.05"/><circle cx="46.1" cy="123.4" r="1.05"/><circle cx="43.5" cy="122.7" r="1.05"/><circle cx="45.3" cy="117.2" r="1.05"/><circle cx="45.1" cy="126.1" r="1.05"/><circle cx="44.3" cy="122.1" r="1.05"/><circle cx="48.7" cy="125.7" r="1.05"/><circle cx="41.5" cy="123" r="1.05"/><circle cx="48.8" cy="123.8" r="1.05"/><circle cx="48.4" cy="118.6" r="1.05"/><circle cx="48.9" cy="122.3" r="1.05"/><circle cx="42.9" cy="125.5" r="1.05"/><circle cx="47.7" cy="123.4" r="1.05"/><circle cx="46.8" cy="118.9" r="1.05"/><circle cx="41.3" cy="123.7" r="1.05"/><circle cx="45.2" cy="123.2" r="1.05"/><circle cx="44.2" cy="123.5" r="1.05"/><circle cx="48.6" cy="124.1" r="1.05"/><circle cx="49" cy="121.1" r="1.05"/><circle cx="44" cy="119.8" r="1.05"/><circle cx="42" cy="120.3" r="1.05"/><circle cx="42.1" cy="119.7" r="1.05"/><circle cx="43.7" cy="121.5" r="1.05"/><circle cx="42.8" cy="120.4" r="1.05"/><circle cx="47.4" cy="125.7" r="1.05"/><circle cx="46.3" cy="120.5" r="1.05"/><circle cx="41.8" cy="121" r="1.05"/><circle cx="43.6" cy="123.7" r="1.05"/><circle cx="43.2" cy="125" r="1.05"/><circle cx="44.3" cy="118.6" r="1.05"/><circle cx="48.9" cy="125.1" r="1.05"/><circle cx="46.9" cy="121.4" r="1.05"/><circle cx="45.6" cy="124.4" r="1.05"/><circle cx="48.2" cy="118.2" r="1.05"/><circle cx="48.2" cy="123" r="1.05"/><circle cx="46.7" cy="125.5" r="1.05"/><circle cx="49.8" cy="119.7" r="1.05"/><circle cx="48.2" cy="127.7" r="1.05"/><circle cx="39.7" cy="121.2" r="1.05"/><circle cx="41.1" cy="124.3" r="1.05"/><circle cx="41.7" cy="128" r="1.05"/><circle cx="45.6" cy="116.8" r="1.05"/><circle cx="47.4" cy="116.7" r="1.05"/><circle cx="46.5" cy="117.1" r="1.05"/><circle cx="49" cy="118.2" r="1.05"/><circle cx="40" cy="124" r="1.05"/><circle cx="40.7" cy="121.9" r="1.05"/><circle cx="48.9" cy="126.6" r="1.05"/><circle cx="50.3" cy="124" r="1.05"/><circle cx="49.3" cy="126.7" r="1.05"/><circle cx="42.1" cy="127.2" r="1.05"/><circle cx="44.7" cy="127.4" r="1.05"/><circle cx="42.7" cy="128.1" r="1.05"/><circle cx="45.4" cy="128.2" r="1.05"/><circle cx="37.7" cy="117.7" r="1.05"/><circle cx="41" cy="128.5" r="1.05"/><circle cx="43" cy="129.6" r="1.05"/></g><g fill="#cf2527"><circle cx="80.3" cy="52.6" r="1.05"/><circle cx="85.5" cy="52.7" r="1.05"/><circle cx="77.9" cy="63.4" r="1.05"/><circle cx="80.1" cy="60.2" r="1.05"/><circle cx="75" cy="59.6" r="1.05"/><circle cx="82.8" cy="56.3" r="1.05"/><circle cx="79" cy="52.4" r="1.05"/><circle cx="85.1" cy="62.8" r="1.05"/><circle cx="79.3" cy="54.9" r="1.05"/><circle cx="82.1" cy="56.1" r="1.05"/><circle cx="83.7" cy="59.8" r="1.05"/><circle cx="81.4" cy="56.9" r="1.05"/><circle cx="85.2" cy="54.5" r="1.05"/><circle cx="85.2" cy="59.7" r="1.05"/><circle cx="74.9" cy="58.8" r="1.05"/><circle cx="79.7" cy="51.2" r="1.05"/><circle cx="83.1" cy="57.3" r="1.05"/><circle cx="82" cy="53" r="1.05"/><circle cx="81.6" cy="50.5" r="1.05"/><circle cx="84" cy="57.2" r="1.05"/><circle cx="73.4" cy="59.5" r="1.05"/><circle cx="84.4" cy="55.9" r="1.05"/><circle cx="84.5" cy="55.6" r="1.05"/><circle cx="75.7" cy="62" r="1.05"/><circle cx="75.4" cy="58.3" r="1.05"/><circle cx="76.6" cy="60.6" r="1.05"/><circle cx="81.4" cy="58.8" r="1.05"/><circle cx="80.3" cy="51.8" r="1.05"/><circle cx="77.1" cy="51.5" r="1.05"/><circle cx="80.6" cy="61" r="1.05"/><circle cx="79.5" cy="61.5" r="1.05"/><circle cx="80.5" cy="52.8" r="1.05"/><circle cx="77.6" cy="62.8" r="1.05"/><circle cx="81.1" cy="59.7" r="1.05"/><circle cx="78.1" cy="51.2" r="1.05"/><circle cx="78.5" cy="63.1" r="1.05"/><circle cx="84.7" cy="58.4" r="1.05"/><circle cx="77" cy="55.6" r="1.05"/><circle cx="76.9" cy="62.2" r="1.05"/><circle cx="77.8" cy="55.8" r="1.05"/><circle cx="79.6" cy="55.4" r="1.05"/><circle cx="83.4" cy="56.8" r="1.05"/><circle cx="80.1" cy="60.8" r="1.05"/><circle cx="84.1" cy="57.2" r="1.05"/><circle cx="74.5" cy="52.8" r="1.05"/><circle cx="81.6" cy="56.9" r="1.05"/><circle cx="74.6" cy="56.6" r="1.05"/><circle cx="79" cy="53.2" r="1.05"/><circle cx="80" cy="57.8" r="1.05"/><circle cx="85.5" cy="58.6" r="1.05"/><circle cx="83.1" cy="58.9" r="1.05"/><circle cx="79.2" cy="59.1" r="1.05"/><circle cx="87.1" cy="58.8" r="1.05"/><circle cx="77.2" cy="58.7" r="1.05"/><circle cx="80" cy="56.7" r="1.05"/><circle cx="80.4" cy="64.7" r="1.05"/><circle cx="84.9" cy="53.8" r="1.05"/><circle cx="83.6" cy="59.7" r="1.05"/><circle cx="83.6" cy="58" r="1.05"/><circle cx="82.8" cy="57.8" r="1.05"/><circle cx="78.7" cy="55.6" r="1.05"/><circle cx="84.1" cy="63.3" r="1.05"/><circle cx="78" cy="61.1" r="1.05"/><circle cx="85.8" cy="60.9" r="1.05"/><circle cx="77.8" cy="52.4" r="1.05"/><circle cx="78.5" cy="55.8" r="1.05"/><circle cx="79.8" cy="63.1" r="1.05"/><circle cx="86.5" cy="55.4" r="1.05"/><circle cx="76.9" cy="53.2" r="1.05"/><circle cx="87.1" cy="58.1" r="1.05"/><circle cx="82.6" cy="58.5" r="1.05"/><circle cx="77.9" cy="51.1" r="1.05"/><circle cx="81.3" cy="52.5" r="1.05"/><circle cx="80.8" cy="58.7" r="1.05"/><circle cx="84.5" cy="51.4" r="1.05"/><circle cx="80.5" cy="64.4" r="1.05"/><circle cx="76.9" cy="59.8" r="1.05"/><circle cx="79.5" cy="57.4" r="1.05"/><circle cx="77.1" cy="58.6" r="1.05"/><circle cx="79" cy="52.2" r="1.05"/><circle cx="84.9" cy="52.2" r="1.05"/><circle cx="78.6" cy="61" r="1.05"/><circle cx="85" cy="55.4" r="1.05"/><circle cx="81.5" cy="58.3" r="1.05"/><circle cx="85.7" cy="57.1" r="1.05"/><circle cx="85.1" cy="59.2" r="1.05"/><circle cx="75.4" cy="57.3" r="1.05"/><circle cx="87" cy="55.2" r="1.05"/><circle cx="82.2" cy="59.5" r="1.05"/><circle cx="74.6" cy="61.2" r="1.05"/><circle cx="75.8" cy="52.9" r="1.05"/><circle cx="77.2" cy="55.8" r="1.05"/><circle cx="80.6" cy="56.6" r="1.05"/><circle cx="79.2" cy="54.3" r="1.05"/><circle cx="73.1" cy="58.7" r="1.05"/><circle cx="78.5" cy="57" r="1.05"/><circle cx="74.9" cy="60" r="1.05"/><circle cx="83.6" cy="58.7" r="1.05"/><circle cx="85.5" cy="58" r="1.05"/><circle cx="76.4" cy="61" r="1.05"/><circle cx="78.5" cy="63.2" r="1.05"/><circle cx="83.4" cy="63.7" r="1.05"/><circle cx="85.2" cy="56.1" r="1.05"/><circle cx="73.6" cy="58.9" r="1.05"/><circle cx="78.6" cy="63.9" r="1.05"/><circle cx="78.8" cy="63.6" r="1.05"/><circle cx="77.3" cy="62.4" r="1.05"/><circle cx="81.7" cy="56.6" r="1.05"/><circle cx="82.1" cy="52.2" r="1.05"/><circle cx="77.1" cy="60.5" r="1.05"/><circle cx="83.6" cy="59" r="1.05"/><circle cx="78.6" cy="55.8" r="1.05"/><circle cx="76.7" cy="51" r="1.05"/><circle cx="87" cy="56.5" r="1.05"/><circle cx="81.3" cy="54.4" r="1.05"/><circle cx="83.4" cy="56.8" r="1.05"/><circle cx="84.9" cy="52.2" r="1.05"/><circle cx="76.4" cy="53.6" r="1.05"/><circle cx="81.8" cy="62.5" r="1.05"/><circle cx="79.5" cy="60" r="1.05"/><circle cx="84.7" cy="62.2" r="1.05"/><circle cx="82.6" cy="56.1" r="1.05"/><circle cx="83.9" cy="57.7" r="1.05"/><circle cx="82.3" cy="59.8" r="1.05"/><circle cx="76.1" cy="55" r="1.05"/><circle cx="77.2" cy="58.9" r="1.05"/><circle cx="78.2" cy="53.9" r="1.05"/><circle cx="76.2" cy="60.4" r="1.05"/><circle cx="83.2" cy="55.3" r="1.05"/><circle cx="79.4" cy="53.3" r="1.05"/><circle cx="83.8" cy="54.5" r="1.05"/><circle cx="73.4" cy="57.2" r="1.05"/><circle cx="79.2" cy="55.4" r="1.05"/><circle cx="84.9" cy="63.1" r="1.05"/><circle cx="84.1" cy="58.1" r="1.05"/><circle cx="81.1" cy="57.2" r="1.05"/><circle cx="82" cy="60.3" r="1.05"/><circle cx="84.5" cy="60.1" r="1.05"/><circle cx="76.8" cy="55.1" r="1.05"/><circle cx="85.3" cy="61.7" r="1.05"/><circle cx="82" cy="52.1" r="1.05"/><circle cx="83.7" cy="61.6" r="1.05"/><circle cx="76.9" cy="53.8" r="1.05"/><circle cx="83.2" cy="53.9" r="1.05"/><circle cx="77.7" cy="57.2" r="1.05"/><circle cx="74.3" cy="54.8" r="1.05"/><circle cx="79.8" cy="53.6" r="1.05"/><circle cx="86.4" cy="57.1" r="1.05"/><circle cx="76" cy="59.6" r="1.05"/><circle cx="80.8" cy="54.3" r="1.05"/><circle cx="76.2" cy="52.5" r="1.05"/><circle cx="73.4" cy="56.7" r="1.05"/><circle cx="75.3" cy="58.4" r="1.05"/><circle cx="78.7" cy="64.4" r="1.05"/><circle cx="77.7" cy="63.1" r="1.05"/><circle cx="74.3" cy="61.3" r="1.05"/><circle cx="81.4" cy="57" r="1.05"/><circle cx="85.9" cy="57.2" r="1.05"/><circle cx="84.8" cy="59.8" r="1.05"/><circle cx="85.3" cy="59.1" r="1.05"/><circle cx="81.9" cy="61.6" r="1.05"/><circle cx="78.3" cy="62.9" r="1.05"/><circle cx="83.3" cy="50.9" r="1.05"/><circle cx="77.6" cy="62.4" r="1.05"/><circle cx="84.7" cy="57.6" r="1.05"/><circle cx="82.6" cy="56.8" r="1.05"/><circle cx="84.2" cy="53" r="1.05"/><circle cx="78.4" cy="63.8" r="1.05"/><circle cx="78.5" cy="64.3" r="1.05"/><circle cx="82.4" cy="58.7" r="1.05"/><circle cx="80.2" cy="52.4" r="1.05"/><circle cx="83.3" cy="61.7" r="1.05"/><circle cx="78.6" cy="62.7" r="1.05"/><circle cx="79.9" cy="50.5" r="1.05"/><circle cx="85.4" cy="59.5" r="1.05"/><circle cx="85.1" cy="56.9" r="1.05"/><circle cx="80.5" cy="55.1" r="1.05"/><circle cx="84.1" cy="53.3" r="1.05"/><circle cx="85.1" cy="53.1" r="1.05"/><circle cx="81.4" cy="56.1" r="1.05"/><circle cx="79.5" cy="54.1" r="1.05"/><circle cx="79.8" cy="61.7" r="1.05"/><circle cx="75.3" cy="54.2" r="1.05"/><circle cx="80.9" cy="57" r="1.05"/><circle cx="81.7" cy="61.6" r="1.05"/><circle cx="82.4" cy="52.3" r="1.05"/><circle cx="73.9" cy="56.9" r="1.05"/><circle cx="78" cy="54.1" r="1.05"/><circle cx="84.4" cy="60.1" r="1.05"/><circle cx="84.3" cy="53.4" r="1.05"/><circle cx="84.8" cy="59" r="1.05"/><circle cx="76" cy="61.2" r="1.05"/><circle cx="74.1" cy="53.6" r="1.05"/><circle cx="77.7" cy="61.5" r="1.05"/><circle cx="75" cy="52.8" r="1.05"/><circle cx="78.8" cy="52.4" r="1.05"/><circle cx="82.2" cy="52.6" r="1.05"/><circle cx="84" cy="56.5" r="1.05"/><circle cx="84.8" cy="62.3" r="1.05"/><circle cx="78.2" cy="64" r="1.05"/><circle cx="76.2" cy="54" r="1.05"/><circle cx="85.7" cy="60.9" r="1.05"/><circle cx="86.8" cy="60.4" r="1.05"/><circle cx="83.1" cy="54.5" r="1.05"/><circle cx="85" cy="62.5" r="1.05"/><circle cx="77.6" cy="57.7" r="1.05"/><circle cx="76.6" cy="57.4" r="1.05"/><circle cx="75.3" cy="60.7" r="1.05"/><circle cx="85.8" cy="54" r="1.05"/><circle cx="82.9" cy="61.8" r="1.05"/><circle cx="72.9" cy="57.8" r="1.05"/><circle cx="84.7" cy="60.2" r="1.05"/><circle cx="84.2" cy="55" r="1.05"/><circle cx="79.8" cy="63" r="1.05"/><circle cx="77.2" cy="63.9" r="1.05"/><circle cx="83.1" cy="59.1" r="1.05"/><circle cx="85.5" cy="60.6" r="1.05"/><circle cx="78.3" cy="64.3" r="1.05"/><circle cx="85.7" cy="52.9" r="1.05"/><circle cx="80.2" cy="57.6" r="1.05"/><circle cx="74.8" cy="62.2" r="1.05"/><circle cx="80.4" cy="55.6" r="1.05"/><circle cx="78.1" cy="50.5" r="1.05"/><circle cx="86.3" cy="56.1" r="1.05"/><circle cx="84.6" cy="52.2" r="1.05"/><circle cx="78.8" cy="59.2" r="1.05"/><circle cx="79.8" cy="54.7" r="1.05"/><circle cx="74.8" cy="62.4" r="1.05"/><circle cx="75.3" cy="55.4" r="1.05"/><circle cx="83.9" cy="56.1" r="1.05"/><circle cx="87.2" cy="57.4" r="1.05"/><circle cx="77.5" cy="60.6" r="1.05"/><circle cx="85.1" cy="62.5" r="1.05"/><circle cx="80.5" cy="58.1" r="1.05"/><circle cx="84.6" cy="53.7" r="1.05"/><circle cx="77.3" cy="51.7" r="1.05"/><circle cx="82.3" cy="58" r="1.05"/><circle cx="78.6" cy="57.4" r="1.05"/><circle cx="73.9" cy="57.2" r="1.05"/><circle cx="77.1" cy="52.5" r="1.05"/><circle cx="83.6" cy="58.4" r="1.05"/><circle cx="82.2" cy="55.8" r="1.05"/><circle cx="78.6" cy="57.1" r="1.05"/><circle cx="83" cy="56.2" r="1.05"/><circle cx="75.6" cy="60.4" r="1.05"/><circle cx="78.8" cy="50.3" r="1.05"/><circle cx="79.8" cy="53" r="1.05"/><circle cx="85.7" cy="60.3" r="1.05"/><circle cx="81.1" cy="57.2" r="1.05"/><circle cx="80.7" cy="54.3" r="1.05"/><circle cx="71.7" cy="59.6" r="1.05"/><circle cx="72.6" cy="50.6" r="1.05"/><circle cx="77" cy="49.4" r="1.05"/><circle cx="78.3" cy="48.8" r="1.05"/><circle cx="73.1" cy="61.8" r="1.05"/><circle cx="72.1" cy="57.7" r="1.05"/><circle cx="80.6" cy="65.3" r="1.05"/><circle cx="72.7" cy="60.5" r="1.05"/><circle cx="85.2" cy="48.9" r="1.05"/><circle cx="75.2" cy="65.1" r="1.05"/><circle cx="87" cy="52.5" r="1.05"/><circle cx="72.2" cy="54.4" r="1.05"/><circle cx="74.4" cy="49.1" r="1.05"/><circle cx="86.6" cy="65.2" r="1.05"/><circle cx="75.4" cy="49" r="1.05"/><circle cx="73.8" cy="49.9" r="1.05"/><circle cx="75.9" cy="65.8" r="1.05"/><circle cx="79.4" cy="66.3" r="1.05"/><circle cx="76.9" cy="50.1" r="1.05"/><circle cx="89" cy="61.1" r="1.05"/><circle cx="83.5" cy="48.6" r="1.05"/><circle cx="76.2" cy="65.8" r="1.05"/><circle cx="88.1" cy="62.1" r="1.05"/><circle cx="72.2" cy="53.1" r="1.05"/><circle cx="72.7" cy="60.1" r="1.05"/><circle cx="78.9" cy="48.7" r="1.05"/><circle cx="80" cy="48.9" r="1.05"/><circle cx="87.7" cy="62.1" r="1.05"/><circle cx="73.1" cy="50.3" r="1.05"/><circle cx="85.9" cy="52.4" r="1.05"/><circle cx="81.3" cy="49.2" r="1.05"/><circle cx="77.5" cy="49.3" r="1.05"/><circle cx="76.4" cy="65.4" r="1.05"/><circle cx="71.1" cy="55.6" r="1.05"/><circle cx="74.3" cy="50.2" r="1.05"/><circle cx="73.4" cy="63.7" r="1.05"/><circle cx="75.1" cy="65" r="1.05"/><circle cx="71.6" cy="59.7" r="1.05"/><circle cx="88.8" cy="58.4" r="1.05"/><circle cx="81.8" cy="65.8" r="1.05"/><circle cx="84.8" cy="36" r="1.05"/><circle cx="84.3" cy="35.2" r="1.05"/><circle cx="84.6" cy="36.2" r="1.05"/><circle cx="84.7" cy="36.4" r="1.05"/><circle cx="84.2" cy="36.1" r="1.05"/><circle cx="82.7" cy="35.6" r="1.05"/><circle cx="83" cy="36.2" r="1.05"/><circle cx="83" cy="34.4" r="1.05"/><circle cx="82.3" cy="36.4" r="1.05"/><circle cx="84.3" cy="36.3" r="1.05"/><circle cx="83.6" cy="39.2" r="1.05"/><circle cx="83.8" cy="42.2" r="1.05"/><circle cx="83.5" cy="45.2" r="1.05"/><circle cx="83" cy="47.6" r="1.05"/><circle cx="105.1" cy="32.2" r="1.05"/><circle cx="107.6" cy="29.4" r="1.05"/><circle cx="107.5" cy="32.7" r="1.05"/><circle cx="107.7" cy="29.1" r="1.05"/><circle cx="104.5" cy="29.9" r="1.05"/><circle cx="108.9" cy="31.4" r="1.05"/><circle cx="105.7" cy="30.6" r="1.05"/><circle cx="105" cy="33.2" r="1.05"/><circle cx="107.9" cy="30.9" r="1.05"/><circle cx="106.2" cy="31.9" r="1.05"/><circle cx="105.9" cy="29.8" r="1.05"/><circle cx="106.9" cy="30.3" r="1.05"/><circle cx="105.3" cy="29.7" r="1.05"/><circle cx="105.3" cy="31.9" r="1.05"/><circle cx="104.5" cy="33" r="1.05"/><circle cx="106.8" cy="32.4" r="1.05"/><circle cx="105.2" cy="31.9" r="1.05"/><circle cx="107.3" cy="29.2" r="1.05"/><circle cx="108.9" cy="30.7" r="1.05"/><circle cx="105.8" cy="30.6" r="1.05"/><circle cx="107.6" cy="29.5" r="1.05"/><circle cx="106.5" cy="29.3" r="1.05"/><circle cx="107.2" cy="30.3" r="1.05"/><circle cx="105.6" cy="29.8" r="1.05"/><circle cx="105.7" cy="33" r="1.05"/><circle cx="107.6" cy="33.2" r="1.05"/><circle cx="105.3" cy="32.9" r="1.05"/><circle cx="107.9" cy="29.7" r="1.05"/><circle cx="105.3" cy="29.1" r="1.05"/><circle cx="106.9" cy="33.6" r="1.05"/><circle cx="108" cy="32.6" r="1.05"/><circle cx="107.3" cy="31.3" r="1.05"/><circle cx="106.6" cy="29" r="1.05"/><circle cx="104" cy="31.5" r="1.05"/><circle cx="104.9" cy="32.2" r="1.05"/><circle cx="105.3" cy="31.6" r="1.05"/><circle cx="106" cy="33" r="1.05"/><circle cx="108.1" cy="31.5" r="1.05"/><circle cx="106.9" cy="34.3" r="1.05"/><circle cx="108.3" cy="33.7" r="1.05"/><circle cx="107.9" cy="29.8" r="1.05"/><circle cx="105.4" cy="32.1" r="1.05"/><circle cx="107.2" cy="32.2" r="1.05"/><circle cx="105.5" cy="33.1" r="1.05"/><circle cx="108.3" cy="30.7" r="1.05"/><circle cx="108.9" cy="31.5" r="1.05"/><circle cx="107.8" cy="33.3" r="1.05"/><circle cx="106.8" cy="32.1" r="1.05"/><circle cx="108" cy="31" r="1.05"/><circle cx="106.8" cy="32.4" r="1.05"/><circle cx="104.6" cy="28.9" r="1.05"/><circle cx="110.1" cy="31.9" r="1.05"/><circle cx="106.3" cy="35.3" r="1.05"/><circle cx="103.1" cy="31.8" r="1.05"/><circle cx="103.1" cy="32.5" r="1.05"/><circle cx="110.2" cy="31.4" r="1.05"/><circle cx="103.3" cy="20.6" r="1.05"/><circle cx="96.9" cy="28.9" r="1.05"/><circle cx="97.8" cy="29" r="1.05"/><circle cx="109" cy="24.3" r="1.05"/><circle cx="112.7" cy="29.8" r="1.05"/><circle cx="114" cy="33.3" r="1.05"/><circle cx="104.4" cy="37.7" r="1.05"/><circle cx="110.2" cy="35.5" r="1.05"/><circle cx="101.5" cy="33.8" r="1.05"/><circle cx="132" cy="35.6" r="1.05"/><circle cx="133.2" cy="37" r="1.05"/><circle cx="131.6" cy="37.4" r="1.05"/><circle cx="133.6" cy="35.4" r="1.05"/></g><g fill="#43ea8c"><circle cx="125.8" cy="74" r="1.05"/><circle cx="119.1" cy="74.2" r="1.05"/><circle cx="120.7" cy="76" r="1.05"/><circle cx="128" cy="67.8" r="1.05"/><circle cx="124.3" cy="62.4" r="1.05"/><circle cx="116" cy="77.3" r="1.05"/><circle cx="113.3" cy="72.8" r="1.05"/><circle cx="110.3" cy="75.4" r="1.05"/><circle cx="123.9" cy="73.3" r="1.05"/><circle cx="109.8" cy="71.7" r="1.05"/><circle cx="113.1" cy="62.3" r="1.05"/><circle cx="122.5" cy="73.5" r="1.05"/><circle cx="116.7" cy="76.3" r="1.05"/><circle cx="119.2" cy="58.4" r="1.05"/><circle cx="118" cy="68.4" r="1.05"/><circle cx="115.9" cy="80.7" r="1.05"/><circle cx="126.3" cy="66.2" r="1.05"/><circle cx="115" cy="76.2" r="1.05"/><circle cx="112" cy="62.1" r="1.05"/><circle cx="116.2" cy="74.8" r="1.05"/><circle cx="122.9" cy="70.5" r="1.05"/><circle cx="124" cy="62.8" r="1.05"/><circle cx="121.7" cy="70.2" r="1.05"/><circle cx="112.3" cy="78.4" r="1.05"/><circle cx="117.3" cy="67.8" r="1.05"/><circle cx="111.6" cy="76" r="1.05"/><circle cx="116" cy="62.9" r="1.05"/><circle cx="122.9" cy="81.3" r="1.05"/><circle cx="109.7" cy="72.5" r="1.05"/><circle cx="115.7" cy="69.7" r="1.05"/><circle cx="119" cy="73.4" r="1.05"/><circle cx="120.6" cy="75.4" r="1.05"/><circle cx="113.4" cy="73.9" r="1.05"/><circle cx="112.3" cy="78.6" r="1.05"/><circle cx="122.3" cy="70.9" r="1.05"/><circle cx="121.7" cy="62.2" r="1.05"/><circle cx="113.5" cy="72.7" r="1.05"/><circle cx="113.8" cy="68.9" r="1.05"/><circle cx="125.1" cy="61.9" r="1.05"/><circle cx="118" cy="72.1" r="1.05"/><circle cx="123.4" cy="66.1" r="1.05"/><circle cx="113.2" cy="61.1" r="1.05"/><circle cx="121.9" cy="59.8" r="1.05"/><circle cx="108.7" cy="71.2" r="1.05"/><circle cx="113.3" cy="71.9" r="1.05"/><circle cx="112.5" cy="71.2" r="1.05"/><circle cx="119.9" cy="59.5" r="1.05"/><circle cx="121.6" cy="74.2" r="1.05"/><circle cx="113.2" cy="75.9" r="1.05"/><circle cx="129.1" cy="67.2" r="1.05"/><circle cx="128" cy="68.3" r="1.05"/><circle cx="116.3" cy="64.8" r="1.05"/><circle cx="118.4" cy="70.8" r="1.05"/><circle cx="121.7" cy="64.9" r="1.05"/><circle cx="124.2" cy="73.6" r="1.05"/><circle cx="114.6" cy="79.6" r="1.05"/><circle cx="124.1" cy="70.6" r="1.05"/><circle cx="126.9" cy="63.7" r="1.05"/><circle cx="113.1" cy="63.9" r="1.05"/><circle cx="120.6" cy="81.5" r="1.05"/><circle cx="119.3" cy="61.8" r="1.05"/><circle cx="121.5" cy="75.1" r="1.05"/><circle cx="114.2" cy="75.1" r="1.05"/><circle cx="125.3" cy="73.3" r="1.05"/><circle cx="113.2" cy="72.4" r="1.05"/><circle cx="114.1" cy="75" r="1.05"/><circle cx="112.6" cy="77" r="1.05"/><circle cx="113.9" cy="70.5" r="1.05"/><circle cx="121" cy="62.1" r="1.05"/><circle cx="109.8" cy="73" r="1.05"/><circle cx="118.9" cy="59.3" r="1.05"/><circle cx="122.2" cy="61.3" r="1.05"/><circle cx="118" cy="65.7" r="1.05"/><circle cx="117.1" cy="64.7" r="1.05"/><circle cx="118.6" cy="74.6" r="1.05"/><circle cx="117.6" cy="71.4" r="1.05"/><circle cx="113.6" cy="61.7" r="1.05"/><circle cx="119.4" cy="66.1" r="1.05"/><circle cx="112.4" cy="61.9" r="1.05"/><circle cx="123.5" cy="71.6" r="1.05"/><circle cx="118" cy="78.5" r="1.05"/><circle cx="122.6" cy="78.2" r="1.05"/><circle cx="113.8" cy="78.5" r="1.05"/><circle cx="109.9" cy="68.5" r="1.05"/><circle cx="119" cy="80.5" r="1.05"/><circle cx="117.9" cy="60.3" r="1.05"/><circle cx="128.5" cy="75.3" r="1.05"/><circle cx="113.7" cy="67.5" r="1.05"/><circle cx="111.6" cy="73.9" r="1.05"/><circle cx="113.4" cy="69.7" r="1.05"/><circle cx="118.2" cy="77.6" r="1.05"/><circle cx="120.2" cy="62.6" r="1.05"/><circle cx="126" cy="72.3" r="1.05"/><circle cx="119.2" cy="71.7" r="1.05"/><circle cx="124.7" cy="69.5" r="1.05"/><circle cx="112.4" cy="68.7" r="1.05"/><circle cx="128.7" cy="74.2" r="1.05"/><circle cx="123.2" cy="68.4" r="1.05"/><circle cx="112.9" cy="74" r="1.05"/><circle cx="123.2" cy="78.9" r="1.05"/><circle cx="120.7" cy="60.2" r="1.05"/><circle cx="118.1" cy="69" r="1.05"/><circle cx="119.8" cy="78.9" r="1.05"/><circle cx="116.8" cy="63.3" r="1.05"/><circle cx="109.2" cy="73.8" r="1.05"/><circle cx="124.4" cy="71.3" r="1.05"/><circle cx="116.1" cy="82" r="1.05"/><circle cx="119.1" cy="73" r="1.05"/><circle cx="111.1" cy="75.2" r="1.05"/><circle cx="124.5" cy="79.4" r="1.05"/><circle cx="121.8" cy="79.9" r="1.05"/><circle cx="124.2" cy="80" r="1.05"/><circle cx="121.6" cy="80.2" r="1.05"/><circle cx="121.7" cy="65.3" r="1.05"/><circle cx="125.8" cy="75.5" r="1.05"/><circle cx="111.2" cy="70.5" r="1.05"/><circle cx="120.3" cy="62.4" r="1.05"/><circle cx="111.1" cy="70.6" r="1.05"/><circle cx="112.1" cy="72.6" r="1.05"/><circle cx="122" cy="75.9" r="1.05"/><circle cx="118.3" cy="76.4" r="1.05"/><circle cx="119.6" cy="66.4" r="1.05"/><circle cx="121" cy="78.8" r="1.05"/><circle cx="116.7" cy="75.8" r="1.05"/><circle cx="113.3" cy="76.5" r="1.05"/><circle cx="113.8" cy="59.9" r="1.05"/><circle cx="123.1" cy="64.1" r="1.05"/><circle cx="112" cy="72.7" r="1.05"/><circle cx="119.5" cy="82.1" r="1.05"/><circle cx="123.3" cy="72.7" r="1.05"/><circle cx="114.4" cy="62.6" r="1.05"/><circle cx="116.9" cy="81.8" r="1.05"/><circle cx="111.6" cy="75.4" r="1.05"/><circle cx="127.5" cy="76.5" r="1.05"/><circle cx="124.3" cy="74.9" r="1.05"/><circle cx="126.8" cy="62.7" r="1.05"/><circle cx="127" cy="64.2" r="1.05"/><circle cx="119" cy="72.5" r="1.05"/><circle cx="116.2" cy="71.3" r="1.05"/><circle cx="119.8" cy="70.1" r="1.05"/><circle cx="116.5" cy="75.2" r="1.05"/><circle cx="126.5" cy="71.1" r="1.05"/><circle cx="128.1" cy="75.6" r="1.05"/><circle cx="116.2" cy="63.7" r="1.05"/><circle cx="124.1" cy="61.4" r="1.05"/><circle cx="114.1" cy="80.2" r="1.05"/><circle cx="126.6" cy="66.3" r="1.05"/><circle cx="112.6" cy="79.5" r="1.05"/><circle cx="124.9" cy="67.9" r="1.05"/><circle cx="127.6" cy="76.2" r="1.05"/><circle cx="116.1" cy="65.4" r="1.05"/><circle cx="113.2" cy="67.7" r="1.05"/><circle cx="124.4" cy="67" r="1.05"/><circle cx="119.6" cy="72.8" r="1.05"/><circle cx="112.8" cy="80.4" r="1.05"/><circle cx="120.3" cy="78.4" r="1.05"/><circle cx="119.7" cy="70.2" r="1.05"/><circle cx="116" cy="80.8" r="1.05"/><circle cx="127.5" cy="76.9" r="1.05"/><circle cx="120.9" cy="66.5" r="1.05"/><circle cx="111.9" cy="65.5" r="1.05"/><circle cx="116.7" cy="64.2" r="1.05"/><circle cx="114.8" cy="74.3" r="1.05"/><circle cx="117.6" cy="75.3" r="1.05"/><circle cx="127.3" cy="64" r="1.05"/><circle cx="113" cy="78.1" r="1.05"/><circle cx="113" cy="70.8" r="1.05"/><circle cx="112.5" cy="80" r="1.05"/><circle cx="114.3" cy="78.1" r="1.05"/><circle cx="124.4" cy="68.2" r="1.05"/><circle cx="120.1" cy="66.6" r="1.05"/><circle cx="117.8" cy="59.7" r="1.05"/><circle cx="124.5" cy="60.3" r="1.05"/><circle cx="116.2" cy="58.9" r="1.05"/><circle cx="117.4" cy="78.9" r="1.05"/><circle cx="119.5" cy="73.8" r="1.05"/><circle cx="110.1" cy="74.2" r="1.05"/><circle cx="119.1" cy="68.9" r="1.05"/><circle cx="123.9" cy="68.3" r="1.05"/><circle cx="116.2" cy="81" r="1.05"/><circle cx="126.2" cy="64" r="1.05"/><circle cx="115.1" cy="77.5" r="1.05"/><circle cx="122.1" cy="64.2" r="1.05"/><circle cx="122.1" cy="60.4" r="1.05"/><circle cx="108.6" cy="72.6" r="1.05"/><circle cx="111.7" cy="77.3" r="1.05"/><circle cx="114.8" cy="65.1" r="1.05"/><circle cx="110.4" cy="68.5" r="1.05"/><circle cx="115.2" cy="69.5" r="1.05"/><circle cx="129.6" cy="69.8" r="1.05"/><circle cx="129.2" cy="73.1" r="1.05"/><circle cx="115" cy="69.6" r="1.05"/><circle cx="121.9" cy="63.3" r="1.05"/><circle cx="116.5" cy="59.8" r="1.05"/><circle cx="116.4" cy="69.8" r="1.05"/><circle cx="122.8" cy="61.4" r="1.05"/><circle cx="123.6" cy="67.1" r="1.05"/><circle cx="121.1" cy="59.5" r="1.05"/><circle cx="114.5" cy="76.5" r="1.05"/><circle cx="118.4" cy="71.2" r="1.05"/><circle cx="119.5" cy="77.3" r="1.05"/><circle cx="126.3" cy="77" r="1.05"/><circle cx="111.4" cy="74.4" r="1.05"/><circle cx="117.4" cy="77.4" r="1.05"/><circle cx="119" cy="62.2" r="1.05"/><circle cx="112.9" cy="66" r="1.05"/><circle cx="109" cy="66.4" r="1.05"/><circle cx="117.9" cy="79" r="1.05"/><circle cx="117.6" cy="67.1" r="1.05"/><circle cx="126.3" cy="68.4" r="1.05"/><circle cx="119.1" cy="80.9" r="1.05"/><circle cx="122.3" cy="61.7" r="1.05"/><circle cx="121.6" cy="68.6" r="1.05"/><circle cx="109.5" cy="68.6" r="1.05"/><circle cx="126.4" cy="65.6" r="1.05"/><circle cx="113.3" cy="65.9" r="1.05"/><circle cx="111.4" cy="66.5" r="1.05"/><circle cx="127.1" cy="64.3" r="1.05"/><circle cx="118" cy="58.9" r="1.05"/><circle cx="127.6" cy="74.7" r="1.05"/><circle cx="109.5" cy="72.8" r="1.05"/><circle cx="116.6" cy="78.3" r="1.05"/><circle cx="119.7" cy="68.4" r="1.05"/><circle cx="116.8" cy="78.5" r="1.05"/><circle cx="122.2" cy="65.4" r="1.05"/><circle cx="121.2" cy="65.1" r="1.05"/><circle cx="116.1" cy="78.8" r="1.05"/><circle cx="112.9" cy="61.1" r="1.05"/><circle cx="122.8" cy="66.3" r="1.05"/><circle cx="118.6" cy="60.8" r="1.05"/><circle cx="111.5" cy="77.3" r="1.05"/><circle cx="124.9" cy="65.4" r="1.05"/><circle cx="122.2" cy="68.2" r="1.05"/><circle cx="123.6" cy="79.5" r="1.05"/><circle cx="115.9" cy="79" r="1.05"/><circle cx="114.6" cy="70.5" r="1.05"/><circle cx="119.1" cy="60.1" r="1.05"/><circle cx="122.2" cy="75.2" r="1.05"/><circle cx="122.1" cy="59.5" r="1.05"/><circle cx="124.1" cy="64.2" r="1.05"/><circle cx="113.9" cy="76.3" r="1.05"/><circle cx="122.3" cy="78" r="1.05"/><circle cx="119.3" cy="75.2" r="1.05"/><circle cx="116.8" cy="72.5" r="1.05"/><circle cx="109.8" cy="72.3" r="1.05"/><circle cx="112.5" cy="60.8" r="1.05"/><circle cx="125.4" cy="64.1" r="1.05"/><circle cx="124.7" cy="65.6" r="1.05"/><circle cx="120.6" cy="64.3" r="1.05"/><circle cx="108.1" cy="68.4" r="1.05"/><circle cx="112.4" cy="65.4" r="1.05"/><circle cx="120.2" cy="63.9" r="1.05"/><circle cx="119.5" cy="69" r="1.05"/><circle cx="119.1" cy="75.4" r="1.05"/><circle cx="118.3" cy="82.1" r="1.05"/><circle cx="124.7" cy="71.4" r="1.05"/><circle cx="110.6" cy="65.9" r="1.05"/><circle cx="119.8" cy="63.1" r="1.05"/><circle cx="120.7" cy="81.3" r="1.05"/><circle cx="120.8" cy="72.5" r="1.05"/><circle cx="119.7" cy="78.8" r="1.05"/><circle cx="127.6" cy="66.8" r="1.05"/><circle cx="111.5" cy="67" r="1.05"/><circle cx="115.8" cy="61.5" r="1.05"/><circle cx="117.1" cy="73.5" r="1.05"/><circle cx="121.8" cy="80.5" r="1.05"/><circle cx="112.3" cy="62.4" r="1.05"/><circle cx="128.8" cy="73.5" r="1.05"/><circle cx="111" cy="78.2" r="1.05"/><circle cx="112.1" cy="65.4" r="1.05"/><circle cx="122.4" cy="61.8" r="1.05"/><circle cx="116.8" cy="66.2" r="1.05"/><circle cx="113.6" cy="66" r="1.05"/><circle cx="122.4" cy="72.4" r="1.05"/><circle cx="113.2" cy="71.2" r="1.05"/><circle cx="119.2" cy="66.2" r="1.05"/><circle cx="129.7" cy="71.4" r="1.05"/><circle cx="115.8" cy="78.3" r="1.05"/><circle cx="120" cy="75.7" r="1.05"/><circle cx="110.8" cy="76.5" r="1.05"/><circle cx="128.6" cy="73.1" r="1.05"/><circle cx="127" cy="69.9" r="1.05"/><circle cx="115.4" cy="74.9" r="1.05"/><circle cx="121.4" cy="76.6" r="1.05"/><circle cx="119.2" cy="69.9" r="1.05"/><circle cx="120.8" cy="60.8" r="1.05"/><circle cx="121.7" cy="70.8" r="1.05"/><circle cx="118" cy="60.6" r="1.05"/><circle cx="114.8" cy="80.7" r="1.05"/><circle cx="120.6" cy="78" r="1.05"/><circle cx="125.4" cy="76.8" r="1.05"/><circle cx="122.8" cy="73" r="1.05"/><circle cx="119.6" cy="62" r="1.05"/><circle cx="113.8" cy="61.7" r="1.05"/><circle cx="115" cy="67.1" r="1.05"/><circle cx="117.6" cy="66.5" r="1.05"/><circle cx="117.9" cy="78.4" r="1.05"/><circle cx="121.5" cy="73" r="1.05"/><circle cx="113.3" cy="62" r="1.05"/><circle cx="114.1" cy="75.8" r="1.05"/><circle cx="120.9" cy="78.8" r="1.05"/><circle cx="109.5" cy="64.8" r="1.05"/><circle cx="128.9" cy="73.3" r="1.05"/><circle cx="125.3" cy="70" r="1.05"/><circle cx="117.3" cy="59.6" r="1.05"/><circle cx="115.4" cy="65.2" r="1.05"/><circle cx="111.4" cy="62.6" r="1.05"/><circle cx="124.8" cy="75.6" r="1.05"/><circle cx="128.8" cy="72" r="1.05"/><circle cx="119.2" cy="67.9" r="1.05"/><circle cx="118.6" cy="60.4" r="1.05"/><circle cx="124.4" cy="76.6" r="1.05"/><circle cx="116.4" cy="63.9" r="1.05"/><circle cx="107.9" cy="70.1" r="1.05"/><circle cx="113.7" cy="64" r="1.05"/><circle cx="122.3" cy="72.1" r="1.05"/><circle cx="124.4" cy="62.1" r="1.05"/><circle cx="123.1" cy="62.5" r="1.05"/><circle cx="111.7" cy="66.4" r="1.05"/><circle cx="118.2" cy="63.5" r="1.05"/><circle cx="111.3" cy="70.6" r="1.05"/><circle cx="116.1" cy="65.7" r="1.05"/><circle cx="122" cy="71" r="1.05"/><circle cx="123.2" cy="80.4" r="1.05"/><circle cx="116.8" cy="60.2" r="1.05"/><circle cx="115.5" cy="71.7" r="1.05"/><circle cx="108.8" cy="72.8" r="1.05"/><circle cx="110.1" cy="69.9" r="1.05"/><circle cx="115.8" cy="73.7" r="1.05"/><circle cx="113.4" cy="64.4" r="1.05"/><circle cx="115.6" cy="75.4" r="1.05"/><circle cx="116.7" cy="64" r="1.05"/><circle cx="113.8" cy="67.6" r="1.05"/><circle cx="118.9" cy="63.1" r="1.05"/><circle cx="108.3" cy="72" r="1.05"/><circle cx="116.9" cy="60.3" r="1.05"/><circle cx="113.4" cy="79.7" r="1.05"/><circle cx="110.6" cy="78.2" r="1.05"/><circle cx="125.9" cy="64.5" r="1.05"/><circle cx="122.8" cy="62.7" r="1.05"/><circle cx="118.4" cy="66.2" r="1.05"/><circle cx="128.6" cy="69.6" r="1.05"/><circle cx="122.2" cy="75" r="1.05"/><circle cx="110.2" cy="65.6" r="1.05"/><circle cx="125.2" cy="79.9" r="1.05"/><circle cx="112.6" cy="80.3" r="1.05"/><circle cx="118.9" cy="62" r="1.05"/><circle cx="116.6" cy="73.2" r="1.05"/><circle cx="126.2" cy="75.4" r="1.05"/><circle cx="120.3" cy="59.1" r="1.05"/><circle cx="111.8" cy="79.1" r="1.05"/><circle cx="115.7" cy="81.5" r="1.05"/><circle cx="122.6" cy="68.1" r="1.05"/><circle cx="124.7" cy="62.7" r="1.05"/><circle cx="115.8" cy="59.9" r="1.05"/><circle cx="111.2" cy="68.4" r="1.05"/><circle cx="111.9" cy="78.7" r="1.05"/><circle cx="122.4" cy="67.6" r="1.05"/><circle cx="119.6" cy="64.2" r="1.05"/><circle cx="120.8" cy="75.3" r="1.05"/><circle cx="113.6" cy="67.6" r="1.05"/><circle cx="119" cy="74.2" r="1.05"/><circle cx="114.4" cy="79.8" r="1.05"/><circle cx="126.4" cy="71.5" r="1.05"/><circle cx="116.8" cy="68.8" r="1.05"/><circle cx="115.9" cy="81.4" r="1.05"/><circle cx="128.9" cy="70" r="1.05"/><circle cx="123.4" cy="79.6" r="1.05"/><circle cx="114.5" cy="71.9" r="1.05"/><circle cx="108.3" cy="71.8" r="1.05"/><circle cx="123.7" cy="65.2" r="1.05"/><circle cx="128.4" cy="74.8" r="1.05"/><circle cx="126.6" cy="69.7" r="1.05"/><circle cx="120.1" cy="79.1" r="1.05"/><circle cx="116.3" cy="62.5" r="1.05"/><circle cx="115.5" cy="75.2" r="1.05"/><circle cx="118.1" cy="73" r="1.05"/><circle cx="118.5" cy="82.1" r="1.05"/><circle cx="128.2" cy="70.9" r="1.05"/><circle cx="120.5" cy="63" r="1.05"/><circle cx="114.5" cy="67.2" r="1.05"/><circle cx="114.2" cy="61.6" r="1.05"/><circle cx="118.1" cy="62" r="1.05"/><circle cx="128.9" cy="68.3" r="1.05"/><circle cx="110.6" cy="66" r="1.05"/><circle cx="117.1" cy="81.9" r="1.05"/><circle cx="112.4" cy="61.4" r="1.05"/><circle cx="116.2" cy="81.9" r="1.05"/><circle cx="125.1" cy="75.8" r="1.05"/><circle cx="122.5" cy="73.7" r="1.05"/><circle cx="119.1" cy="67.3" r="1.05"/><circle cx="115.2" cy="73.9" r="1.05"/><circle cx="120.7" cy="67.6" r="1.05"/><circle cx="113.5" cy="79.9" r="1.05"/><circle cx="115.2" cy="61.1" r="1.05"/><circle cx="120.5" cy="70.3" r="1.05"/><circle cx="114" cy="61.5" r="1.05"/><circle cx="118.7" cy="60.3" r="1.05"/><circle cx="121.7" cy="71.9" r="1.05"/><circle cx="120" cy="61.1" r="1.05"/><circle cx="118.7" cy="71.6" r="1.05"/><circle cx="115.6" cy="69.6" r="1.05"/><circle cx="118.7" cy="63.4" r="1.05"/><circle cx="120" cy="66.9" r="1.05"/><circle cx="115.3" cy="70.5" r="1.05"/><circle cx="120.4" cy="61.6" r="1.05"/><circle cx="119.8" cy="82.1" r="1.05"/><circle cx="116.2" cy="64.1" r="1.05"/><circle cx="123" cy="64.6" r="1.05"/><circle cx="124.4" cy="68.1" r="1.05"/><circle cx="121.5" cy="70.1" r="1.05"/><circle cx="118.2" cy="64" r="1.05"/><circle cx="111" cy="74.8" r="1.05"/><circle cx="123.8" cy="72" r="1.05"/><circle cx="126.3" cy="76.7" r="1.05"/><circle cx="120.2" cy="78.7" r="1.05"/><circle cx="116.3" cy="75.5" r="1.05"/><circle cx="126" cy="67" r="1.05"/><circle cx="113.4" cy="62.2" r="1.05"/><circle cx="121.2" cy="64.8" r="1.05"/><circle cx="125.4" cy="74.3" r="1.05"/><circle cx="119.6" cy="71.9" r="1.05"/><circle cx="126.4" cy="65.8" r="1.05"/><circle cx="115.3" cy="72.7" r="1.05"/><circle cx="119.4" cy="61.7" r="1.05"/><circle cx="123.8" cy="81" r="1.05"/><circle cx="128.9" cy="66.9" r="1.05"/><circle cx="122.5" cy="62.6" r="1.05"/><circle cx="116" cy="79.6" r="1.05"/><circle cx="123.8" cy="78.1" r="1.05"/><circle cx="128.9" cy="75.3" r="1.05"/><circle cx="116.1" cy="57.1" r="1.05"/><circle cx="114.1" cy="55.5" r="1.05"/><circle cx="125.8" cy="57.5" r="1.05"/><circle cx="126.7" cy="58" r="1.05"/><circle cx="132.2" cy="63.2" r="1.05"/><circle cx="130.5" cy="74" r="1.05"/><circle cx="109.5" cy="78.9" r="1.05"/><circle cx="125.4" cy="84.9" r="1.05"/><circle cx="130.5" cy="72.4" r="1.05"/><circle cx="119.6" cy="57.4" r="1.05"/><circle cx="118" cy="87" r="1.05"/><circle cx="119.8" cy="56.3" r="1.05"/><circle cx="126.8" cy="80.4" r="1.05"/><circle cx="133.2" cy="68.5" r="1.05"/><circle cx="131.6" cy="76.9" r="1.05"/><circle cx="108.7" cy="81.3" r="1.05"/><circle cx="115.5" cy="82.5" r="1.05"/><circle cx="131" cy="72.1" r="1.05"/><circle cx="128.3" cy="57.9" r="1.05"/><circle cx="113" cy="56.2" r="1.05"/><circle cx="123.1" cy="83.3" r="1.05"/><circle cx="131.2" cy="60.5" r="1.05"/><circle cx="105.3" cy="75.9" r="1.05"/><circle cx="132.9" cy="63.6" r="1.05"/><circle cx="114.9" cy="84.9" r="1.05"/><circle cx="108.7" cy="79.5" r="1.05"/><circle cx="106.9" cy="73.6" r="1.05"/><circle cx="133.1" cy="72.3" r="1.05"/><circle cx="113.9" cy="55.3" r="1.05"/><circle cx="125.7" cy="81.2" r="1.05"/><circle cx="106.4" cy="61" r="1.05"/><circle cx="107.1" cy="72.7" r="1.05"/><circle cx="106.2" cy="61.1" r="1.05"/><circle cx="128.9" cy="58.4" r="1.05"/><circle cx="108.5" cy="77.5" r="1.05"/><circle cx="128.7" cy="58.9" r="1.05"/><circle cx="126.4" cy="59.2" r="1.05"/><circle cx="116.1" cy="83.2" r="1.05"/><circle cx="129.1" cy="58.5" r="1.05"/><circle cx="108.8" cy="82.4" r="1.05"/><circle cx="109.3" cy="80" r="1.05"/><circle cx="107.9" cy="65.1" r="1.05"/><circle cx="117.5" cy="83.6" r="1.05"/><circle cx="118" cy="84.8" r="1.05"/><circle cx="130.5" cy="79.7" r="1.05"/><circle cx="124.7" cy="83" r="1.05"/><circle cx="111.5" cy="60.6" r="1.05"/><circle cx="107.5" cy="78.3" r="1.05"/><circle cx="104.6" cy="65.3" r="1.05"/><circle cx="121.3" cy="58.1" r="1.05"/><circle cx="125.5" cy="57.7" r="1.05"/><circle cx="113.7" cy="58.9" r="1.05"/><circle cx="104.9" cy="73.1" r="1.05"/><circle cx="123.1" cy="55.2" r="1.05"/><circle cx="121.8" cy="86.1" r="1.05"/><circle cx="106.1" cy="64.1" r="1.05"/><circle cx="126.4" cy="59.2" r="1.05"/><circle cx="131.8" cy="62.5" r="1.05"/><circle cx="123.3" cy="57.5" r="1.05"/><circle cx="107.2" cy="68.1" r="1.05"/><circle cx="119.7" cy="54.2" r="1.05"/><circle cx="126.4" cy="83.6" r="1.05"/><circle cx="115" cy="59" r="1.05"/><circle cx="130.2" cy="63.3" r="1.05"/><circle cx="117.5" cy="82.5" r="1.05"/><circle cx="121.3" cy="57.1" r="1.05"/><circle cx="107" cy="69.3" r="1.05"/><circle cx="108.8" cy="61.7" r="1.05"/><circle cx="123.7" cy="56.2" r="1.05"/><circle cx="116.7" cy="57.4" r="1.05"/><circle cx="132.5" cy="76.7" r="1.05"/><circle cx="131.5" cy="64.5" r="1.05"/><circle cx="131.2" cy="63.1" r="1.05"/><circle cx="108.7" cy="61.8" r="1.05"/><circle cx="110.7" cy="81.7" r="1.05"/><circle cx="121" cy="84.2" r="1.05"/><circle cx="107.7" cy="69.8" r="1.05"/><circle cx="109.2" cy="78.7" r="1.05"/><circle cx="109.1" cy="58.5" r="1.05"/><circle cx="108.3" cy="60.4" r="1.05"/><circle cx="109.6" cy="61.7" r="1.05"/><circle cx="108.3" cy="81.7" r="1.05"/><circle cx="129.9" cy="66.1" r="1.05"/><circle cx="134" cy="71.5" r="1.05"/><circle cx="139.9" cy="66.5" r="1.05"/><circle cx="137.5" cy="64.8" r="1.05"/><circle cx="141" cy="65.3" r="1.05"/><circle cx="104" cy="56" r="1.05"/><circle cx="107" cy="53.5" r="1.05"/><circle cx="110" cy="52.2" r="1.05"/><circle cx="112" cy="51.5" r="1.05"/></g><g fill="#0b900e"><circle cx="77.7" cy="91.7" r="1.05"/><circle cx="76.1" cy="90.8" r="1.05"/><circle cx="76.9" cy="94.8" r="1.05"/><circle cx="67" cy="100" r="1.05"/><circle cx="75" cy="105.2" r="1.05"/><circle cx="73" cy="105.3" r="1.05"/><circle cx="75.3" cy="91.6" r="1.05"/><circle cx="80.2" cy="96.9" r="1.05"/><circle cx="73.5" cy="96.1" r="1.05"/><circle cx="78.9" cy="102.6" r="1.05"/><circle cx="79.7" cy="94.8" r="1.05"/><circle cx="75.2" cy="96.2" r="1.05"/><circle cx="79.6" cy="91.9" r="1.05"/><circle cx="69.7" cy="92.9" r="1.05"/><circle cx="72.3" cy="92.9" r="1.05"/><circle cx="70" cy="90.6" r="1.05"/><circle cx="69.4" cy="96.2" r="1.05"/><circle cx="77.2" cy="97.5" r="1.05"/><circle cx="75.4" cy="93.7" r="1.05"/><circle cx="77.2" cy="99.5" r="1.05"/><circle cx="67.1" cy="96.5" r="1.05"/><circle cx="79.1" cy="91.3" r="1.05"/><circle cx="81.2" cy="95.7" r="1.05"/><circle cx="70.5" cy="98.5" r="1.05"/><circle cx="77.4" cy="96.2" r="1.05"/><circle cx="70.4" cy="94" r="1.05"/><circle cx="75" cy="93.6" r="1.05"/><circle cx="70" cy="99.5" r="1.05"/><circle cx="77.7" cy="91.7" r="1.05"/><circle cx="70.3" cy="93.5" r="1.05"/><circle cx="77" cy="105.2" r="1.05"/><circle cx="74.2" cy="89.4" r="1.05"/><circle cx="79.8" cy="97.3" r="1.05"/><circle cx="76.3" cy="104" r="1.05"/><circle cx="72.1" cy="103.9" r="1.05"/><circle cx="67.4" cy="99.2" r="1.05"/><circle cx="80.2" cy="93.4" r="1.05"/><circle cx="67" cy="101.7" r="1.05"/><circle cx="78.2" cy="91" r="1.05"/><circle cx="65.9" cy="94.6" r="1.05"/><circle cx="70.8" cy="97.6" r="1.05"/><circle cx="72.6" cy="104.9" r="1.05"/><circle cx="69.5" cy="101.6" r="1.05"/><circle cx="70.5" cy="99.8" r="1.05"/><circle cx="75" cy="98.6" r="1.05"/><circle cx="71.3" cy="92.7" r="1.05"/><circle cx="65.7" cy="99.8" r="1.05"/><circle cx="68.2" cy="91.4" r="1.05"/><circle cx="74.1" cy="88.2" r="1.05"/><circle cx="78.3" cy="99.8" r="1.05"/><circle cx="78.9" cy="95.4" r="1.05"/><circle cx="76.9" cy="96.1" r="1.05"/><circle cx="80.9" cy="100.7" r="1.05"/><circle cx="68.4" cy="100.9" r="1.05"/><circle cx="77.1" cy="95.7" r="1.05"/><circle cx="78.7" cy="96.2" r="1.05"/><circle cx="73.6" cy="101.9" r="1.05"/><circle cx="67.8" cy="96.7" r="1.05"/><circle cx="74.9" cy="96" r="1.05"/><circle cx="76.7" cy="98.4" r="1.05"/><circle cx="67.7" cy="92.3" r="1.05"/><circle cx="67" cy="98.3" r="1.05"/><circle cx="72.8" cy="96.4" r="1.05"/><circle cx="73.7" cy="106.8" r="1.05"/><circle cx="69.5" cy="105.4" r="1.05"/><circle cx="69.5" cy="97.6" r="1.05"/><circle cx="77.4" cy="97.5" r="1.05"/><circle cx="71.1" cy="103" r="1.05"/><circle cx="67.6" cy="99.7" r="1.05"/><circle cx="72" cy="97.7" r="1.05"/><circle cx="72.6" cy="106.6" r="1.05"/><circle cx="80.6" cy="98.8" r="1.05"/><circle cx="66.5" cy="98.6" r="1.05"/><circle cx="71" cy="102.4" r="1.05"/><circle cx="65.5" cy="96.5" r="1.05"/><circle cx="72.3" cy="99.8" r="1.05"/><circle cx="81.2" cy="99.5" r="1.05"/><circle cx="72.4" cy="100.4" r="1.05"/><circle cx="67.2" cy="92.5" r="1.05"/><circle cx="70.8" cy="95.3" r="1.05"/><circle cx="69.9" cy="100.1" r="1.05"/><circle cx="81.7" cy="98.4" r="1.05"/><circle cx="70.5" cy="98.3" r="1.05"/><circle cx="79.8" cy="91.2" r="1.05"/><circle cx="75.2" cy="93.1" r="1.05"/><circle cx="75.7" cy="103.7" r="1.05"/><circle cx="66.7" cy="93" r="1.05"/><circle cx="81.3" cy="95.6" r="1.05"/><circle cx="70" cy="103.4" r="1.05"/><circle cx="77.8" cy="102.2" r="1.05"/><circle cx="76" cy="98.7" r="1.05"/><circle cx="76.8" cy="101" r="1.05"/><circle cx="70.9" cy="104.7" r="1.05"/><circle cx="76" cy="98.8" r="1.05"/><circle cx="69.7" cy="91" r="1.05"/><circle cx="71.7" cy="89.7" r="1.05"/><circle cx="70.3" cy="91.4" r="1.05"/><circle cx="73.4" cy="94.7" r="1.05"/><circle cx="75.2" cy="105.3" r="1.05"/><circle cx="75.7" cy="103.8" r="1.05"/><circle cx="73.1" cy="103.6" r="1.05"/><circle cx="76.9" cy="90.8" r="1.05"/><circle cx="69.4" cy="99.1" r="1.05"/><circle cx="75.8" cy="90.2" r="1.05"/><circle cx="66.2" cy="100.6" r="1.05"/><circle cx="70.6" cy="88.7" r="1.05"/><circle cx="69.4" cy="89.7" r="1.05"/><circle cx="66.8" cy="94.9" r="1.05"/><circle cx="74.9" cy="95" r="1.05"/><circle cx="67" cy="98.6" r="1.05"/><circle cx="80.5" cy="100.4" r="1.05"/><circle cx="71.8" cy="88.5" r="1.05"/><circle cx="69.5" cy="102" r="1.05"/><circle cx="78.1" cy="94.2" r="1.05"/><circle cx="76.3" cy="92.1" r="1.05"/><circle cx="71.2" cy="101.6" r="1.05"/><circle cx="74.8" cy="103.4" r="1.05"/><circle cx="77.5" cy="104.7" r="1.05"/><circle cx="76.1" cy="96.9" r="1.05"/><circle cx="74" cy="97.6" r="1.05"/><circle cx="75.6" cy="96.3" r="1.05"/><circle cx="71.5" cy="92.7" r="1.05"/><circle cx="74.8" cy="101.8" r="1.05"/><circle cx="73.1" cy="96.2" r="1.05"/><circle cx="77.7" cy="92.1" r="1.05"/><circle cx="73.8" cy="101.7" r="1.05"/><circle cx="69.7" cy="91.2" r="1.05"/><circle cx="71.5" cy="102.3" r="1.05"/><circle cx="65.7" cy="99.4" r="1.05"/><circle cx="66" cy="95.3" r="1.05"/><circle cx="69.5" cy="91.9" r="1.05"/><circle cx="66.6" cy="97.9" r="1.05"/><circle cx="66.4" cy="97.8" r="1.05"/><circle cx="75.5" cy="102.3" r="1.05"/><circle cx="77.2" cy="93.2" r="1.05"/><circle cx="78" cy="89.8" r="1.05"/><circle cx="71.1" cy="96" r="1.05"/><circle cx="73.8" cy="89.7" r="1.05"/><circle cx="71.5" cy="105.8" r="1.05"/><circle cx="71.5" cy="97.6" r="1.05"/><circle cx="77.2" cy="99.3" r="1.05"/><circle cx="67.7" cy="92" r="1.05"/><circle cx="74.5" cy="98.2" r="1.05"/><circle cx="69.6" cy="93.2" r="1.05"/><circle cx="66.4" cy="100.5" r="1.05"/><circle cx="80.7" cy="92.9" r="1.05"/><circle cx="73.6" cy="96.9" r="1.05"/><circle cx="77.3" cy="103.2" r="1.05"/><circle cx="75.8" cy="96.7" r="1.05"/><circle cx="68.2" cy="96.8" r="1.05"/><circle cx="69.9" cy="100.1" r="1.05"/><circle cx="73" cy="102" r="1.05"/><circle cx="78.5" cy="101.6" r="1.05"/><circle cx="66.8" cy="100" r="1.05"/><circle cx="68.3" cy="90.3" r="1.05"/><circle cx="69.3" cy="104.9" r="1.05"/><circle cx="68.4" cy="102.5" r="1.05"/><circle cx="75.3" cy="91.8" r="1.05"/><circle cx="67.2" cy="99.9" r="1.05"/><circle cx="78.2" cy="101.8" r="1.05"/><circle cx="76.8" cy="99.9" r="1.05"/><circle cx="67.6" cy="90.9" r="1.05"/><circle cx="77.8" cy="97.4" r="1.05"/><circle cx="77.2" cy="102.8" r="1.05"/><circle cx="68.7" cy="99.5" r="1.05"/><circle cx="74.3" cy="89.5" r="1.05"/><circle cx="67.4" cy="94.6" r="1.05"/><circle cx="67.5" cy="93.6" r="1.05"/><circle cx="80.8" cy="93.4" r="1.05"/><circle cx="81.2" cy="96.3" r="1.05"/><circle cx="78" cy="101.3" r="1.05"/><circle cx="74.4" cy="92.4" r="1.05"/><circle cx="72" cy="96" r="1.05"/><circle cx="75" cy="103.1" r="1.05"/><circle cx="78.4" cy="100" r="1.05"/><circle cx="74.5" cy="106.1" r="1.05"/><circle cx="71.3" cy="102.7" r="1.05"/><circle cx="75.5" cy="90.7" r="1.05"/><circle cx="77.2" cy="98.8" r="1.05"/><circle cx="70.6" cy="94.7" r="1.05"/><circle cx="73.6" cy="104.8" r="1.05"/><circle cx="69.1" cy="97.6" r="1.05"/><circle cx="67.3" cy="94.7" r="1.05"/><circle cx="77.8" cy="98.6" r="1.05"/><circle cx="70.7" cy="105.6" r="1.05"/><circle cx="78.2" cy="99.2" r="1.05"/><circle cx="75.9" cy="104.8" r="1.05"/><circle cx="74.3" cy="95.3" r="1.05"/><circle cx="78.1" cy="91.5" r="1.05"/><circle cx="75.2" cy="106.2" r="1.05"/><circle cx="71.5" cy="105.4" r="1.05"/><circle cx="78.6" cy="100.3" r="1.05"/><circle cx="65.6" cy="97.1" r="1.05"/><circle cx="76.7" cy="91.5" r="1.05"/><circle cx="78.7" cy="99.4" r="1.05"/><circle cx="67.6" cy="104" r="1.05"/><circle cx="71.2" cy="92" r="1.05"/><circle cx="68.6" cy="103.6" r="1.05"/><circle cx="79.8" cy="102.2" r="1.05"/><circle cx="70.9" cy="91.9" r="1.05"/><circle cx="72.2" cy="91.7" r="1.05"/><circle cx="76.9" cy="102.2" r="1.05"/><circle cx="75.9" cy="98.3" r="1.05"/><circle cx="66.4" cy="100.6" r="1.05"/><circle cx="75.2" cy="103.8" r="1.05"/><circle cx="81.1" cy="96.3" r="1.05"/><circle cx="79.1" cy="92.9" r="1.05"/><circle cx="68.1" cy="93.6" r="1.05"/><circle cx="68.9" cy="93.6" r="1.05"/><circle cx="70.9" cy="100.9" r="1.05"/><circle cx="78.2" cy="99.7" r="1.05"/><circle cx="74.3" cy="90.5" r="1.05"/><circle cx="77.4" cy="104.7" r="1.05"/><circle cx="81.3" cy="99.7" r="1.05"/><circle cx="69.9" cy="91.7" r="1.05"/><circle cx="67" cy="101.9" r="1.05"/><circle cx="74.6" cy="97.5" r="1.05"/><circle cx="69" cy="96.7" r="1.05"/><circle cx="68.5" cy="101.4" r="1.05"/><circle cx="81.5" cy="99.9" r="1.05"/><circle cx="72.3" cy="94.7" r="1.05"/><circle cx="73.1" cy="90.6" r="1.05"/><circle cx="70.7" cy="90" r="1.05"/><circle cx="76.4" cy="97.2" r="1.05"/><circle cx="79.3" cy="97.2" r="1.05"/><circle cx="75.1" cy="102.9" r="1.05"/><circle cx="68.3" cy="104.1" r="1.05"/><circle cx="71.4" cy="97" r="1.05"/><circle cx="72.2" cy="90.9" r="1.05"/><circle cx="74.2" cy="95.5" r="1.05"/><circle cx="78.7" cy="90.7" r="1.05"/><circle cx="79.3" cy="97.7" r="1.05"/><circle cx="77.9" cy="102.1" r="1.05"/><circle cx="80.2" cy="102.1" r="1.05"/><circle cx="76.3" cy="104.4" r="1.05"/><circle cx="70.8" cy="93" r="1.05"/><circle cx="75.3" cy="106.2" r="1.05"/><circle cx="77.6" cy="98.6" r="1.05"/><circle cx="70.5" cy="103.8" r="1.05"/><circle cx="71.6" cy="99.7" r="1.05"/><circle cx="67" cy="94" r="1.05"/><circle cx="71.9" cy="91.1" r="1.05"/><circle cx="73.2" cy="98.3" r="1.05"/><circle cx="67" cy="95.9" r="1.05"/><circle cx="65.8" cy="100.7" r="1.05"/><circle cx="75.7" cy="105.5" r="1.05"/><circle cx="71.9" cy="88.7" r="1.05"/><circle cx="77.1" cy="95.3" r="1.05"/><circle cx="78.2" cy="94.6" r="1.05"/><circle cx="70" cy="89.1" r="1.05"/><circle cx="68.2" cy="93.4" r="1.05"/><circle cx="79.4" cy="100.5" r="1.05"/><circle cx="73.8" cy="103.2" r="1.05"/><circle cx="67.5" cy="103.8" r="1.05"/><circle cx="68.9" cy="91.3" r="1.05"/><circle cx="75.7" cy="102" r="1.05"/><circle cx="75.6" cy="95.1" r="1.05"/><circle cx="78.8" cy="95.6" r="1.05"/><circle cx="68.9" cy="101.7" r="1.05"/><circle cx="68.1" cy="99.7" r="1.05"/><circle cx="67.3" cy="101" r="1.05"/><circle cx="72.9" cy="101.2" r="1.05"/><circle cx="71.2" cy="98.5" r="1.05"/><circle cx="67.9" cy="99.5" r="1.05"/><circle cx="74.1" cy="94.4" r="1.05"/><circle cx="67.6" cy="102.4" r="1.05"/><circle cx="69.5" cy="104.7" r="1.05"/><circle cx="73.2" cy="95.5" r="1.05"/><circle cx="68" cy="102.8" r="1.05"/><circle cx="66.7" cy="96.1" r="1.05"/><circle cx="80.4" cy="96.9" r="1.05"/><circle cx="66.1" cy="94.9" r="1.05"/><circle cx="72.7" cy="97.8" r="1.05"/><circle cx="72.6" cy="104.6" r="1.05"/><circle cx="79.7" cy="95.1" r="1.05"/><circle cx="71.7" cy="106.6" r="1.05"/><circle cx="70.3" cy="100" r="1.05"/><circle cx="68.8" cy="95.6" r="1.05"/><circle cx="78.9" cy="102.5" r="1.05"/><circle cx="70.5" cy="88.8" r="1.05"/><circle cx="78.7" cy="104.2" r="1.05"/><circle cx="74.7" cy="92.9" r="1.05"/><circle cx="66.9" cy="98.4" r="1.05"/><circle cx="72.4" cy="100.2" r="1.05"/><circle cx="75.3" cy="94.1" r="1.05"/><circle cx="68" cy="97.8" r="1.05"/><circle cx="78.6" cy="93.4" r="1.05"/><circle cx="66.1" cy="101.6" r="1.05"/><circle cx="69.2" cy="103.8" r="1.05"/><circle cx="74.2" cy="105.5" r="1.05"/><circle cx="73.6" cy="84.7" r="1.05"/><circle cx="64.4" cy="98.4" r="1.05"/><circle cx="65.7" cy="87.8" r="1.05"/><circle cx="70.4" cy="106.2" r="1.05"/><circle cx="78.1" cy="109.4" r="1.05"/><circle cx="82.1" cy="97.8" r="1.05"/><circle cx="82.9" cy="104.9" r="1.05"/><circle cx="65.4" cy="105.5" r="1.05"/><circle cx="70.8" cy="86.7" r="1.05"/><circle cx="72.4" cy="86.2" r="1.05"/><circle cx="64.3" cy="94.6" r="1.05"/><circle cx="84" cy="97.5" r="1.05"/><circle cx="72.6" cy="107.8" r="1.05"/><circle cx="80.5" cy="89.9" r="1.05"/><circle cx="82" cy="104.5" r="1.05"/><circle cx="65.1" cy="95.1" r="1.05"/><circle cx="67.4" cy="107" r="1.05"/><circle cx="71.3" cy="110.5" r="1.05"/><circle cx="76.6" cy="86.5" r="1.05"/><circle cx="80.9" cy="92.6" r="1.05"/><circle cx="75.4" cy="110.2" r="1.05"/><circle cx="64.5" cy="96.8" r="1.05"/><circle cx="63.6" cy="92.2" r="1.05"/><circle cx="66.7" cy="91.6" r="1.05"/><circle cx="83.1" cy="99.9" r="1.05"/><circle cx="82.2" cy="98.4" r="1.05"/><circle cx="67.3" cy="88.7" r="1.05"/><circle cx="83.4" cy="104" r="1.05"/><circle cx="65.7" cy="106.9" r="1.05"/><circle cx="65.3" cy="89.9" r="1.05"/><circle cx="63.9" cy="102.9" r="1.05"/><circle cx="73.9" cy="107.8" r="1.05"/><circle cx="79.9" cy="90.2" r="1.05"/><circle cx="65.2" cy="105.5" r="1.05"/><circle cx="68.8" cy="106.9" r="1.05"/><circle cx="81.2" cy="91.9" r="1.05"/><circle cx="74.1" cy="110.3" r="1.05"/><circle cx="72" cy="108" r="1.05"/><circle cx="80.5" cy="90.2" r="1.05"/><circle cx="84.8" cy="97.2" r="1.05"/><circle cx="78.7" cy="88.9" r="1.05"/><circle cx="75.8" cy="109.5" r="1.05"/><circle cx="77.8" cy="88.3" r="1.05"/><circle cx="76" cy="107.4" r="1.05"/><circle cx="79.9" cy="105.8" r="1.05"/><circle cx="62.9" cy="97.2" r="1.05"/><circle cx="66" cy="113.4" r="1.05"/><circle cx="64.4" cy="112.6" r="1.05"/><circle cx="67" cy="115" r="1.05"/><circle cx="72.2" cy="110.9" r="1.05"/><circle cx="77" cy="115.2" r="1.05"/><circle cx="65.5" cy="104.5" r="1.05"/><circle cx="63.8" cy="94.8" r="1.05"/><circle cx="82.5" cy="86" r="1.05"/><circle cx="153" cy="82.6" r="1.05"/><circle cx="153.1" cy="82.9" r="1.05"/><circle cx="153.7" cy="83.7" r="1.05"/><circle cx="151.8" cy="83.7" r="1.05"/><circle cx="150.1" cy="82.3" r="1.05"/><circle cx="151.6" cy="81.5" r="1.05"/><circle cx="151.6" cy="84.2" r="1.05"/><circle cx="152.3" cy="84.6" r="1.05"/><circle cx="151.8" cy="81.6" r="1.05"/><circle cx="152.4" cy="81.3" r="1.05"/><circle cx="151.1" cy="82.5" r="1.05"/><circle cx="152.5" cy="83.6" r="1.05"/><circle cx="153" cy="81.2" r="1.05"/><circle cx="152.9" cy="81.1" r="1.05"/><circle cx="151.8" cy="81.7" r="1.05"/><circle cx="151.7" cy="82.2" r="1.05"/><circle cx="151.6" cy="82.8" r="1.05"/><circle cx="153.6" cy="81.3" r="1.05"/><circle cx="153.7" cy="83.4" r="1.05"/><circle cx="152" cy="82.5" r="1.05"/><circle cx="150.6" cy="83.3" r="1.05"/><circle cx="150" cy="82.9" r="1.05"/><circle cx="69" cy="135.1" r="1.05"/><circle cx="67.6" cy="135.6" r="1.05"/><circle cx="70" cy="136.3" r="1.05"/><circle cx="68.6" cy="137" r="1.05"/><circle cx="69.3" cy="138.2" r="1.05"/><circle cx="70.6" cy="135.8" r="1.05"/><circle cx="68" cy="134.5" r="1.05"/><circle cx="68.4" cy="134.5" r="1.05"/><circle cx="71.3" cy="136.2" r="1.05"/><circle cx="69.7" cy="137.1" r="1.05"/><circle cx="67.5" cy="136.1" r="1.05"/><circle cx="69.2" cy="134.9" r="1.05"/><circle cx="70.8" cy="135.6" r="1.05"/><circle cx="70" cy="134.8" r="1.05"/><circle cx="69.4" cy="136.3" r="1.05"/><circle cx="68.3" cy="135" r="1.05"/><circle cx="68" cy="136.7" r="1.05"/><circle cx="69.9" cy="137.7" r="1.05"/><circle cx="69.1" cy="138.5" r="1.05"/><circle cx="70.1" cy="138.3" r="1.05"/><circle cx="70.1" cy="135.1" r="1.05"/><circle cx="69.4" cy="134.4" r="1.05"/></g><g fill="#0c9592"><circle cx="101.3" cy="111.6" r="1.05"/><circle cx="109.7" cy="105.4" r="1.05"/><circle cx="109.1" cy="108.5" r="1.05"/><circle cx="113.3" cy="109.9" r="1.05"/><circle cx="106.4" cy="116.1" r="1.05"/><circle cx="102.8" cy="110.6" r="1.05"/><circle cx="114.1" cy="104" r="1.05"/><circle cx="105.7" cy="114.3" r="1.05"/><circle cx="106.1" cy="105.7" r="1.05"/><circle cx="102.8" cy="114.9" r="1.05"/><circle cx="114.7" cy="109.9" r="1.05"/><circle cx="107.5" cy="103" r="1.05"/><circle cx="108.1" cy="117.4" r="1.05"/><circle cx="106.1" cy="118.8" r="1.05"/><circle cx="104.5" cy="106.4" r="1.05"/><circle cx="110.1" cy="101.9" r="1.05"/><circle cx="111.3" cy="114.6" r="1.05"/><circle cx="100.6" cy="110.3" r="1.05"/><circle cx="105.8" cy="116" r="1.05"/><circle cx="112.9" cy="108.6" r="1.05"/><circle cx="109.1" cy="106.7" r="1.05"/><circle cx="105.4" cy="112.4" r="1.05"/><circle cx="112.2" cy="104.4" r="1.05"/><circle cx="108.5" cy="112.8" r="1.05"/><circle cx="105.9" cy="111.2" r="1.05"/><circle cx="101.5" cy="110.4" r="1.05"/><circle cx="106.8" cy="113.6" r="1.05"/><circle cx="106" cy="112.9" r="1.05"/><circle cx="109.3" cy="106.9" r="1.05"/><circle cx="107.8" cy="103.5" r="1.05"/><circle cx="107.1" cy="100.4" r="1.05"/><circle cx="112.4" cy="116.5" r="1.05"/><circle cx="113.4" cy="106.9" r="1.05"/><circle cx="105.4" cy="104.8" r="1.05"/><circle cx="111" cy="117.7" r="1.05"/><circle cx="109.5" cy="105.3" r="1.05"/><circle cx="111.4" cy="113.7" r="1.05"/><circle cx="104.8" cy="105" r="1.05"/><circle cx="114.6" cy="107.5" r="1.05"/><circle cx="113.1" cy="105.5" r="1.05"/><circle cx="108.3" cy="99.3" r="1.05"/><circle cx="113.6" cy="111.4" r="1.05"/><circle cx="110.6" cy="118.3" r="1.05"/><circle cx="108.7" cy="118.7" r="1.05"/><circle cx="105" cy="117" r="1.05"/><circle cx="104.9" cy="100.5" r="1.05"/><circle cx="111.5" cy="104.6" r="1.05"/><circle cx="106.8" cy="105.4" r="1.05"/><circle cx="113.2" cy="114.8" r="1.05"/><circle cx="113.5" cy="104.5" r="1.05"/><circle cx="102" cy="108.7" r="1.05"/><circle cx="107.3" cy="101.7" r="1.05"/><circle cx="103.4" cy="117" r="1.05"/><circle cx="103.1" cy="117" r="1.05"/><circle cx="110.1" cy="100.6" r="1.05"/><circle cx="111.8" cy="100.5" r="1.05"/><circle cx="113.4" cy="109.1" r="1.05"/><circle cx="103.3" cy="115.9" r="1.05"/><circle cx="113.9" cy="107.9" r="1.05"/><circle cx="109.5" cy="109.9" r="1.05"/><circle cx="101.4" cy="111.7" r="1.05"/><circle cx="111.5" cy="105.4" r="1.05"/><circle cx="102.6" cy="108.8" r="1.05"/><circle cx="108.2" cy="109.8" r="1.05"/><circle cx="102.7" cy="108.5" r="1.05"/><circle cx="110.1" cy="106.2" r="1.05"/><circle cx="110.4" cy="105.2" r="1.05"/><circle cx="101.8" cy="107.4" r="1.05"/><circle cx="112.5" cy="117.8" r="1.05"/><circle cx="115.2" cy="106.9" r="1.05"/><circle cx="114.1" cy="109.7" r="1.05"/><circle cx="104.6" cy="100.9" r="1.05"/><circle cx="108.8" cy="113.2" r="1.05"/><circle cx="109.4" cy="104.6" r="1.05"/><circle cx="110.1" cy="110.9" r="1.05"/><circle cx="104.6" cy="103.5" r="1.05"/><circle cx="107.9" cy="100.1" r="1.05"/><circle cx="115.3" cy="109.8" r="1.05"/><circle cx="113.3" cy="102.6" r="1.05"/><circle cx="108.6" cy="103.1" r="1.05"/><circle cx="108.1" cy="119.7" r="1.05"/><circle cx="103.3" cy="113.2" r="1.05"/><circle cx="106" cy="101.3" r="1.05"/><circle cx="105.9" cy="101.8" r="1.05"/><circle cx="101.4" cy="109.1" r="1.05"/><circle cx="104.9" cy="112.9" r="1.05"/><circle cx="113.9" cy="104.3" r="1.05"/><circle cx="107.4" cy="105.3" r="1.05"/><circle cx="115" cy="112.5" r="1.05"/><circle cx="111.7" cy="107.7" r="1.05"/><circle cx="107.3" cy="108.6" r="1.05"/><circle cx="103" cy="115.1" r="1.05"/><circle cx="103.6" cy="116.9" r="1.05"/><circle cx="110.4" cy="107.6" r="1.05"/><circle cx="106.2" cy="103.6" r="1.05"/><circle cx="110.1" cy="115.2" r="1.05"/><circle cx="100.9" cy="110.7" r="1.05"/><circle cx="108.1" cy="108.8" r="1.05"/><circle cx="115.1" cy="113.3" r="1.05"/><circle cx="102.4" cy="106.7" r="1.05"/><circle cx="103.8" cy="117.3" r="1.05"/><circle cx="102.5" cy="106.7" r="1.05"/><circle cx="108" cy="118.9" r="1.05"/><circle cx="108.6" cy="113.4" r="1.05"/><circle cx="102.3" cy="104" r="1.05"/><circle cx="106.9" cy="115.2" r="1.05"/><circle cx="111.5" cy="116.2" r="1.05"/><circle cx="108.4" cy="105.9" r="1.05"/><circle cx="102.6" cy="107.9" r="1.05"/><circle cx="112.3" cy="114.4" r="1.05"/><circle cx="107.5" cy="114.3" r="1.05"/><circle cx="110.3" cy="109.3" r="1.05"/><circle cx="104.7" cy="116.5" r="1.05"/><circle cx="107.2" cy="110.4" r="1.05"/><circle cx="110.5" cy="105.7" r="1.05"/><circle cx="101.8" cy="114.9" r="1.05"/><circle cx="115.1" cy="107.7" r="1.05"/><circle cx="102.4" cy="114.5" r="1.05"/><circle cx="110" cy="105.8" r="1.05"/><circle cx="110.4" cy="109" r="1.05"/><circle cx="106" cy="105.3" r="1.05"/><circle cx="108.6" cy="113.4" r="1.05"/><circle cx="110.5" cy="108.2" r="1.05"/><circle cx="110.6" cy="107.3" r="1.05"/><circle cx="106.3" cy="113.9" r="1.05"/><circle cx="110.3" cy="109.4" r="1.05"/><circle cx="110.7" cy="105.2" r="1.05"/><circle cx="114.3" cy="106.9" r="1.05"/><circle cx="107.5" cy="117.1" r="1.05"/><circle cx="110.6" cy="115.3" r="1.05"/><circle cx="114.2" cy="111" r="1.05"/><circle cx="104.7" cy="106.5" r="1.05"/><circle cx="115.3" cy="110.5" r="1.05"/><circle cx="111.1" cy="113.9" r="1.05"/><circle cx="112.6" cy="110.6" r="1.05"/><circle cx="103.5" cy="114.1" r="1.05"/><circle cx="106.3" cy="114.3" r="1.05"/><circle cx="108.9" cy="104.1" r="1.05"/><circle cx="105.4" cy="116.1" r="1.05"/><circle cx="107" cy="118.5" r="1.05"/><circle cx="111.7" cy="112.6" r="1.05"/><circle cx="104.6" cy="112.2" r="1.05"/><circle cx="110.4" cy="104.3" r="1.05"/><circle cx="103.4" cy="113.1" r="1.05"/><circle cx="109.7" cy="105.3" r="1.05"/><circle cx="111.5" cy="100.5" r="1.05"/><circle cx="107.7" cy="113.9" r="1.05"/><circle cx="109" cy="103.8" r="1.05"/><circle cx="108.3" cy="112.5" r="1.05"/><circle cx="102.4" cy="102.9" r="1.05"/><circle cx="112.3" cy="104.1" r="1.05"/><circle cx="101" cy="113.5" r="1.05"/><circle cx="104" cy="100.8" r="1.05"/><circle cx="105.6" cy="101.4" r="1.05"/><circle cx="107.2" cy="106" r="1.05"/><circle cx="108" cy="112.3" r="1.05"/><circle cx="114.9" cy="105.3" r="1.05"/><circle cx="105.6" cy="107" r="1.05"/><circle cx="111.6" cy="114.6" r="1.05"/><circle cx="105.4" cy="112.6" r="1.05"/><circle cx="113.2" cy="114.1" r="1.05"/><circle cx="108.5" cy="107" r="1.05"/><circle cx="106.5" cy="115" r="1.05"/><circle cx="102.3" cy="107.4" r="1.05"/><circle cx="102" cy="114.9" r="1.05"/><circle cx="104.8" cy="113.3" r="1.05"/><circle cx="108.7" cy="99.9" r="1.05"/><circle cx="110.2" cy="106.6" r="1.05"/><circle cx="109.7" cy="116.4" r="1.05"/><circle cx="113.9" cy="107.9" r="1.05"/><circle cx="104.9" cy="105.4" r="1.05"/><circle cx="111.2" cy="109.3" r="1.05"/><circle cx="102.2" cy="106.4" r="1.05"/><circle cx="110.5" cy="100.7" r="1.05"/><circle cx="105" cy="113.2" r="1.05"/><circle cx="113.6" cy="108.6" r="1.05"/><circle cx="107.4" cy="113.5" r="1.05"/><circle cx="110.3" cy="100.4" r="1.05"/><circle cx="103.7" cy="106.8" r="1.05"/><circle cx="104" cy="100.7" r="1.05"/><circle cx="102.1" cy="105.2" r="1.05"/><circle cx="112.9" cy="103.4" r="1.05"/><circle cx="104.8" cy="110" r="1.05"/><circle cx="105.7" cy="100.5" r="1.05"/><circle cx="110.9" cy="108.6" r="1.05"/><circle cx="112.6" cy="115.1" r="1.05"/><circle cx="109" cy="107" r="1.05"/><circle cx="105" cy="106" r="1.05"/><circle cx="112.6" cy="109.6" r="1.05"/><circle cx="113.9" cy="114.2" r="1.05"/><circle cx="106.5" cy="116.1" r="1.05"/><circle cx="111" cy="114.1" r="1.05"/><circle cx="110.6" cy="113.6" r="1.05"/><circle cx="104.3" cy="106.8" r="1.05"/><circle cx="104.4" cy="100.9" r="1.05"/><circle cx="106.9" cy="108.8" r="1.05"/><circle cx="111.3" cy="108.4" r="1.05"/><circle cx="104.9" cy="115.9" r="1.05"/><circle cx="104.7" cy="105.4" r="1.05"/><circle cx="102.4" cy="112.7" r="1.05"/><circle cx="104.1" cy="111.1" r="1.05"/><circle cx="104" cy="113.1" r="1.05"/><circle cx="106.5" cy="117.5" r="1.05"/><circle cx="103.1" cy="109.1" r="1.05"/><circle cx="106.3" cy="100.4" r="1.05"/><circle cx="105.4" cy="104.6" r="1.05"/><circle cx="110.3" cy="108.3" r="1.05"/><circle cx="109.7" cy="103.1" r="1.05"/><circle cx="102.4" cy="115.5" r="1.05"/><circle cx="103.8" cy="100.9" r="1.05"/><circle cx="109.9" cy="107.1" r="1.05"/><circle cx="101.3" cy="109.4" r="1.05"/><circle cx="112.9" cy="113.5" r="1.05"/><circle cx="111.7" cy="109.4" r="1.05"/><circle cx="111" cy="113.4" r="1.05"/><circle cx="105.7" cy="114.3" r="1.05"/><circle cx="101.7" cy="113.6" r="1.05"/><circle cx="102.2" cy="108.7" r="1.05"/><circle cx="109.5" cy="111.3" r="1.05"/><circle cx="112.3" cy="107.7" r="1.05"/><circle cx="112.2" cy="107.6" r="1.05"/><circle cx="104" cy="103" r="1.05"/><circle cx="109.7" cy="111.1" r="1.05"/><circle cx="105.5" cy="111" r="1.05"/><circle cx="107" cy="114.1" r="1.05"/><circle cx="106" cy="116.2" r="1.05"/><circle cx="106.3" cy="115.3" r="1.05"/><circle cx="101.7" cy="110.4" r="1.05"/><circle cx="115.3" cy="112.4" r="1.05"/><circle cx="101.4" cy="113.9" r="1.05"/><circle cx="109.8" cy="109.7" r="1.05"/><circle cx="113.9" cy="115.5" r="1.05"/><circle cx="102" cy="114.7" r="1.05"/><circle cx="107.2" cy="106.6" r="1.05"/><circle cx="105.2" cy="114.3" r="1.05"/><circle cx="101.7" cy="112.3" r="1.05"/><circle cx="114.3" cy="114.7" r="1.05"/><circle cx="103.5" cy="110.5" r="1.05"/><circle cx="106.7" cy="104.3" r="1.05"/><circle cx="106.9" cy="103" r="1.05"/><circle cx="104.7" cy="110.2" r="1.05"/><circle cx="110" cy="119" r="1.05"/><circle cx="103.6" cy="106.4" r="1.05"/><circle cx="109.1" cy="99.6" r="1.05"/><circle cx="112.1" cy="118.5" r="1.05"/><circle cx="113.9" cy="110.3" r="1.05"/><circle cx="107.7" cy="114.9" r="1.05"/><circle cx="102.1" cy="109.9" r="1.05"/><circle cx="102.1" cy="113.1" r="1.05"/><circle cx="111" cy="108.3" r="1.05"/><circle cx="108.5" cy="117.9" r="1.05"/><circle cx="104.4" cy="112.8" r="1.05"/><circle cx="101.7" cy="109.3" r="1.05"/><circle cx="114.2" cy="104" r="1.05"/><circle cx="109.9" cy="103.9" r="1.05"/><circle cx="112.8" cy="103.6" r="1.05"/><circle cx="111.4" cy="118.8" r="1.05"/><circle cx="108.1" cy="118.4" r="1.05"/><circle cx="105.5" cy="100.1" r="1.05"/><circle cx="104.2" cy="100.5" r="1.05"/><circle cx="109.4" cy="110.4" r="1.05"/><circle cx="109.9" cy="117.2" r="1.05"/><circle cx="106.1" cy="111" r="1.05"/><circle cx="109.7" cy="117.3" r="1.05"/><circle cx="102.6" cy="114.9" r="1.05"/><circle cx="101" cy="111.6" r="1.05"/><circle cx="108.3" cy="102.2" r="1.05"/><circle cx="105.8" cy="113.4" r="1.05"/><circle cx="106.8" cy="115.7" r="1.05"/><circle cx="105.9" cy="113" r="1.05"/><circle cx="105.5" cy="110.2" r="1.05"/><circle cx="111.8" cy="103.8" r="1.05"/><circle cx="111.6" cy="113" r="1.05"/><circle cx="107.9" cy="113.8" r="1.05"/><circle cx="104.8" cy="110.2" r="1.05"/><circle cx="111.7" cy="116.8" r="1.05"/><circle cx="102.4" cy="113.3" r="1.05"/><circle cx="102.7" cy="111" r="1.05"/><circle cx="106.2" cy="116" r="1.05"/><circle cx="103.6" cy="110.3" r="1.05"/><circle cx="109.7" cy="104.9" r="1.05"/><circle cx="108.8" cy="115.7" r="1.05"/><circle cx="109.5" cy="100.1" r="1.05"/><circle cx="103.8" cy="107.1" r="1.05"/><circle cx="103.9" cy="101.8" r="1.05"/><circle cx="108.3" cy="118.3" r="1.05"/><circle cx="106.8" cy="103.2" r="1.05"/><circle cx="111.6" cy="116.1" r="1.05"/><circle cx="109.1" cy="115.8" r="1.05"/><circle cx="100.8" cy="106.7" r="1.05"/><circle cx="109.2" cy="111.9" r="1.05"/><circle cx="100.8" cy="107.1" r="1.05"/><circle cx="113.8" cy="112" r="1.05"/><circle cx="113.6" cy="110.9" r="1.05"/><circle cx="112.5" cy="115.5" r="1.05"/><circle cx="104.1" cy="116.2" r="1.05"/><circle cx="107.9" cy="112.5" r="1.05"/><circle cx="109.7" cy="114.6" r="1.05"/><circle cx="109.7" cy="113.7" r="1.05"/><circle cx="103.2" cy="107.7" r="1.05"/><circle cx="110.4" cy="102.9" r="1.05"/><circle cx="101.8" cy="107.4" r="1.05"/><circle cx="111.5" cy="103.1" r="1.05"/><circle cx="113" cy="111.2" r="1.05"/><circle cx="113.8" cy="111.3" r="1.05"/><circle cx="113.1" cy="112.7" r="1.05"/><circle cx="112.1" cy="117.5" r="1.05"/><circle cx="113.1" cy="114.4" r="1.05"/><circle cx="106.9" cy="104.3" r="1.05"/><circle cx="104.4" cy="106.2" r="1.05"/><circle cx="107.8" cy="115" r="1.05"/><circle cx="114.2" cy="110.5" r="1.05"/><circle cx="111" cy="111.7" r="1.05"/><circle cx="113.8" cy="114.5" r="1.05"/><circle cx="102.9" cy="108.3" r="1.05"/><circle cx="102.1" cy="104.8" r="1.05"/><circle cx="104.1" cy="104.3" r="1.05"/><circle cx="105.9" cy="116.6" r="1.05"/><circle cx="113.7" cy="109" r="1.05"/><circle cx="100.9" cy="111" r="1.05"/><circle cx="109.8" cy="110.5" r="1.05"/><circle cx="109.8" cy="99.6" r="1.05"/><circle cx="109.1" cy="110.1" r="1.05"/><circle cx="113.8" cy="110.1" r="1.05"/><circle cx="111.7" cy="115.6" r="1.05"/><circle cx="107.5" cy="108.5" r="1.05"/><circle cx="110.6" cy="105.7" r="1.05"/><circle cx="103.7" cy="107.5" r="1.05"/><circle cx="105.3" cy="115.2" r="1.05"/><circle cx="113" cy="109.8" r="1.05"/><circle cx="107.6" cy="115.9" r="1.05"/><circle cx="110.3" cy="114.8" r="1.05"/><circle cx="105.6" cy="99.6" r="1.05"/><circle cx="110.3" cy="118.9" r="1.05"/><circle cx="106.2" cy="107.4" r="1.05"/><circle cx="115.1" cy="110.5" r="1.05"/><circle cx="108.2" cy="113" r="1.05"/><circle cx="104.4" cy="102.2" r="1.05"/><circle cx="112.2" cy="105" r="1.05"/><circle cx="106.4" cy="115.1" r="1.05"/><circle cx="109.7" cy="117.7" r="1.05"/><circle cx="110.1" cy="108.5" r="1.05"/><circle cx="104.6" cy="113.7" r="1.05"/><circle cx="113.1" cy="113.5" r="1.05"/><circle cx="112" cy="109" r="1.05"/><circle cx="107" cy="99.6" r="1.05"/><circle cx="107.1" cy="119.7" r="1.05"/><circle cx="107.9" cy="101.1" r="1.05"/><circle cx="109.4" cy="114.8" r="1.05"/><circle cx="113.8" cy="115.6" r="1.05"/><circle cx="108.8" cy="106.7" r="1.05"/><circle cx="104.6" cy="108.7" r="1.05"/><circle cx="108.6" cy="101.6" r="1.05"/><circle cx="114.1" cy="106.6" r="1.05"/><circle cx="111.7" cy="113.4" r="1.05"/><circle cx="101.6" cy="104.9" r="1.05"/><circle cx="105.7" cy="112.9" r="1.05"/><circle cx="107.2" cy="114.8" r="1.05"/><circle cx="110.5" cy="114.7" r="1.05"/><circle cx="108" cy="117.2" r="1.05"/><circle cx="113.8" cy="103.2" r="1.05"/><circle cx="111.1" cy="116.3" r="1.05"/><circle cx="106.6" cy="105.9" r="1.05"/><circle cx="104.7" cy="108.7" r="1.05"/><circle cx="105.2" cy="114.1" r="1.05"/><circle cx="109.5" cy="104.9" r="1.05"/><circle cx="102.4" cy="107.6" r="1.05"/><circle cx="104.5" cy="118.6" r="1.05"/><circle cx="105.9" cy="114.9" r="1.05"/><circle cx="106.1" cy="102.7" r="1.05"/><circle cx="107.5" cy="105.5" r="1.05"/><circle cx="111.9" cy="116.9" r="1.05"/><circle cx="102.6" cy="115.9" r="1.05"/><circle cx="108.4" cy="114.8" r="1.05"/><circle cx="111" cy="104.8" r="1.05"/><circle cx="110.8" cy="112.8" r="1.05"/><circle cx="108.5" cy="104.2" r="1.05"/><circle cx="101.5" cy="106.3" r="1.05"/><circle cx="102.9" cy="103.7" r="1.05"/><circle cx="112.1" cy="108.8" r="1.05"/><circle cx="115.4" cy="99.5" r="1.05"/><circle cx="110.5" cy="120.6" r="1.05"/><circle cx="104.1" cy="119.8" r="1.05"/><circle cx="109.4" cy="95.3" r="1.05"/><circle cx="119.5" cy="114.2" r="1.05"/><circle cx="99.9" cy="101.9" r="1.05"/><circle cx="114.3" cy="120.3" r="1.05"/><circle cx="117.1" cy="102.3" r="1.05"/><circle cx="97.7" cy="113.3" r="1.05"/><circle cx="97.9" cy="104.9" r="1.05"/><circle cx="110.6" cy="120.6" r="1.05"/><circle cx="119.7" cy="110.9" r="1.05"/><circle cx="116.9" cy="109.9" r="1.05"/><circle cx="99.3" cy="102.4" r="1.05"/><circle cx="115" cy="102.6" r="1.05"/><circle cx="114.3" cy="117.3" r="1.05"/><circle cx="99" cy="109.8" r="1.05"/><circle cx="97.4" cy="113.8" r="1.05"/><circle cx="103.3" cy="123.3" r="1.05"/><circle cx="118.2" cy="111.4" r="1.05"/><circle cx="118.2" cy="100.2" r="1.05"/><circle cx="96.8" cy="102" r="1.05"/><circle cx="108.8" cy="122.2" r="1.05"/><circle cx="98.4" cy="114.1" r="1.05"/><circle cx="112.1" cy="97.2" r="1.05"/><circle cx="118.6" cy="114.2" r="1.05"/><circle cx="110" cy="126" r="1.05"/><circle cx="110.1" cy="121.9" r="1.05"/><circle cx="113.9" cy="119.2" r="1.05"/><circle cx="100.8" cy="102.2" r="1.05"/><circle cx="118" cy="114" r="1.05"/><circle cx="107.2" cy="98.3" r="1.05"/><circle cx="100.9" cy="114.7" r="1.05"/><circle cx="117.4" cy="111" r="1.05"/><circle cx="105.3" cy="125.8" r="1.05"/><circle cx="118.8" cy="110.9" r="1.05"/><circle cx="107" cy="96.2" r="1.05"/><circle cx="99.2" cy="109.5" r="1.05"/><circle cx="107.9" cy="120.6" r="1.05"/><circle cx="114.4" cy="103.6" r="1.05"/><circle cx="115.3" cy="121.4" r="1.05"/><circle cx="98.2" cy="113.3" r="1.05"/><circle cx="105.7" cy="120.9" r="1.05"/><circle cx="110.5" cy="98.7" r="1.05"/><circle cx="104.8" cy="124.7" r="1.05"/><circle cx="104.3" cy="126" r="1.05"/><circle cx="112.6" cy="122.3" r="1.05"/><circle cx="98.2" cy="106.3" r="1.05"/><circle cx="109.2" cy="98.8" r="1.05"/><circle cx="97" cy="105" r="1.05"/><circle cx="117.8" cy="114.1" r="1.05"/><circle cx="99.1" cy="114.5" r="1.05"/><circle cx="97.6" cy="106.1" r="1.05"/><circle cx="104.5" cy="93.5" r="1.05"/><circle cx="101.1" cy="95" r="1.05"/><circle cx="103.4" cy="98.9" r="1.05"/><circle cx="112.8" cy="118.5" r="1.05"/><circle cx="107.1" cy="120.9" r="1.05"/><circle cx="103.5" cy="95.6" r="1.05"/><circle cx="100.8" cy="101" r="1.05"/><circle cx="99.3" cy="112.4" r="1.05"/><circle cx="114.7" cy="104.4" r="1.05"/><circle cx="103.5" cy="122.7" r="1.05"/><circle cx="113" cy="124.5" r="1.05"/><circle cx="98.6" cy="111.2" r="1.05"/><circle cx="116.3" cy="114.4" r="1.05"/><circle cx="100.4" cy="102.9" r="1.05"/><circle cx="118" cy="113.7" r="1.05"/><circle cx="104.1" cy="125.1" r="1.05"/><circle cx="104" cy="95.1" r="1.05"/><circle cx="116.9" cy="99.3" r="1.05"/><circle cx="103" cy="122.4" r="1.05"/><circle cx="107.5" cy="121.6" r="1.05"/><circle cx="110.2" cy="120.5" r="1.05"/><circle cx="108.6" cy="121.7" r="1.05"/><circle cx="103.9" cy="98.7" r="1.05"/><circle cx="117.3" cy="113.5" r="1.05"/><circle cx="111.3" cy="124.2" r="1.05"/><circle cx="109.8" cy="123.8" r="1.05"/><circle cx="112.5" cy="122" r="1.05"/><circle cx="114.1" cy="100.2" r="1.05"/><circle cx="98.4" cy="107.3" r="1.05"/><circle cx="115" cy="114.2" r="1.05"/><circle cx="113.1" cy="98.8" r="1.05"/><circle cx="104.2" cy="97.2" r="1.05"/><circle cx="112.5" cy="99.4" r="1.05"/><circle cx="97.7" cy="111.1" r="1.05"/><circle cx="110.1" cy="99.2" r="1.05"/><circle cx="101.5" cy="120.2" r="1.05"/><circle cx="101" cy="103.5" r="1.05"/><circle cx="90.2" cy="121.7" r="1.05"/><circle cx="84.2" cy="128.9" r="1.05"/><circle cx="98.5" cy="129.3" r="1.05"/><circle cx="95" cy="112" r="1.05"/><circle cx="96.3" cy="118.3" r="1.05"/><circle cx="98.3" cy="129.4" r="1.05"/><circle cx="84.7" cy="129.6" r="1.05"/><circle cx="92" cy="115" r="1.05"/><circle cx="55.9" cy="147.8" r="1.05"/><circle cx="57.1" cy="147.4" r="1.05"/><circle cx="56.4" cy="148.5" r="1.05"/><circle cx="56.5" cy="148.8" r="1.05"/><circle cx="57.4" cy="148.1" r="1.05"/><circle cx="57.5" cy="148.1" r="1.05"/><circle cx="57.8" cy="148.5" r="1.05"/><circle cx="56.9" cy="149.6" r="1.05"/><circle cx="58" cy="146.9" r="1.05"/><circle cx="57" cy="148.3" r="1.05"/><circle cx="56.1" cy="147.1" r="1.05"/><circle cx="58.3" cy="149.1" r="1.05"/></g>
<line x1="26.9" y1="157" x2="29.5" y2="157" stroke="#444" stroke-width="0.7"/><text x="24.2" y="159.7" class="tk" text-anchor="end">0.0</text><line x1="26.9" y1="129.7" x2="29.5" y2="129.7" stroke="#444" stroke-width="0.7"/><text x="24.2" y="132.4" class="tk" text-anchor="end">0.2</text><line x1="26.9" y1="102.4" x2="29.5" y2="102.4" stroke="#444" stroke-width="0.7"/><text x="24.2" y="105.1" class="tk" text-anchor="end">0.4</text><line x1="26.9" y1="75.1" x2="29.5" y2="75.1" stroke="#444" stroke-width="0.7"/><text x="24.2" y="77.8" class="tk" text-anchor="end">0.6</text><line x1="26.9" y1="47.8" x2="29.5" y2="47.8" stroke="#444" stroke-width="0.7"/><text x="24.2" y="50.5" class="tk" text-anchor="end">0.8</text><line x1="26.9" y1="20.5" x2="29.5" y2="20.5" stroke="#444" stroke-width="0.7"/><text x="24.2" y="23.2" class="tk" text-anchor="end">1.0</text><line x1="35.9" y1="164.2" x2="35.9" y2="166.8" stroke="#444" stroke-width="0.7"/><text x="35.9" y="174.3" class="tk" text-anchor="middle">0.0</text><line x1="60.4" y1="164.2" x2="60.4" y2="166.8" stroke="#444" stroke-width="0.7"/><text x="60.4" y="174.3" class="tk" text-anchor="middle">0.2</text><line x1="84.9" y1="164.2" x2="84.9" y2="166.8" stroke="#444" stroke-width="0.7"/><text x="84.9" y="174.3" class="tk" text-anchor="middle">0.4</text><line x1="109.4" y1="164.2" x2="109.4" y2="166.8" stroke="#444" stroke-width="0.7"/><text x="109.4" y="174.3" class="tk" text-anchor="middle">0.6</text><line x1="133.9" y1="164.2" x2="133.9" y2="166.8" stroke="#444" stroke-width="0.7"/><text x="133.9" y="174.3" class="tk" text-anchor="middle">0.8</text><line x1="158.4" y1="164.2" x2="158.4" y2="166.8" stroke="#444" stroke-width="0.7"/><text x="158.4" y="174.3" class="tk" text-anchor="middle">1.0</text><rect x="29.5" y="13.5" width="135.2" height="150.7" fill="none" stroke="#4a4a4a" stroke-width="0.85"/><text x="9.6" y="86" class="al" text-anchor="middle" transform="rotate(-90 9.6 86)">t-SNE1</text><text x="99" y="184.8" class="al" text-anchor="middle">t-SNE2</text>
<rect x="119.5" y="16" width="42.5" height="49" rx="1.5" fill="#fff" fill-opacity="0.8" stroke="#d8d8d8" stroke-width="0.6"/><circle cx="126.7" cy="20.2" r="1.2" fill="#0c9592"/><text x="137" y="21.7" class="lg">Gamma</text><circle cx="126.7" cy="28.3" r="1.2" fill="#43ea8c"/><text x="137" y="29.8" class="lg">Alpha</text><circle cx="126.7" cy="36.3" r="1.2" fill="#d4920c"/><text x="137" y="37.8" class="lg">Delta</text><circle cx="126.7" cy="44.3" r="1.2" fill="#1585c6"/><text x="137" y="45.8" class="lg">Omicron</text><circle cx="126.7" cy="52.3" r="1.2" fill="#0b900e"/><text x="137" y="53.8" class="lg">Epsilon</text><circle cx="126.7" cy="60.4" r="1.2" fill="#cf2527"/><text x="137" y="61.9" class="lg">Iota</text>
<ellipse cx="126.4" cy="245.1" rx="1.2" ry="1.6" fill="#1585c6" transform="rotate(0.0 126.4 245.1)"/><ellipse cx="153.3" cy="277.6" rx="2.5" ry="2.7" fill="#1585c6" transform="rotate(0.0 153.3 277.6)"/><ellipse cx="151.7" cy="284" rx="4.1" ry="2.5" fill="#1585c6" transform="rotate(0.0 151.7 284)"/><g fill="#0c9592"><circle cx="40.7" cy="217.3" r="1.05"/><circle cx="40.1" cy="206.1" r="1.05"/><circle cx="41.3" cy="206.3" r="1.05"/><circle cx="36.3" cy="207.3" r="1.05"/><circle cx="40.6" cy="222.5" r="1.05"/><circle cx="38.4" cy="215.2" r="1.05"/><circle cx="39.7" cy="222.2" r="1.05"/><circle cx="43.4" cy="217" r="1.05"/><circle cx="36.9" cy="210.2" r="1.05"/><circle cx="36.2" cy="205.6" r="1.05"/><circle cx="41.8" cy="218.2" r="1.05"/><circle cx="42.8" cy="220.7" r="1.05"/><circle cx="39.3" cy="215.4" r="1.05"/><circle cx="42.9" cy="208.9" r="1.05"/><circle cx="41.9" cy="221.7" r="1.05"/><circle cx="43" cy="218.9" r="1.05"/><circle cx="38" cy="209.9" r="1.05"/><circle cx="44.3" cy="218.1" r="1.05"/><circle cx="41.6" cy="222.2" r="1.05"/><circle cx="38" cy="206.1" r="1.05"/><circle cx="42.5" cy="206.2" r="1.05"/><circle cx="42.3" cy="210.4" r="1.05"/><circle cx="42.8" cy="209.3" r="1.05"/><circle cx="42.7" cy="213.6" r="1.05"/><circle cx="42.7" cy="215.5" r="1.05"/><circle cx="36.5" cy="206.3" r="1.05"/><circle cx="42.6" cy="211.3" r="1.05"/><circle cx="43.3" cy="220.9" r="1.05"/><circle cx="38.4" cy="215.5" r="1.05"/><circle cx="43.1" cy="221.2" r="1.05"/><circle cx="43.2" cy="215.8" r="1.05"/><circle cx="40.6" cy="209.1" r="1.05"/><circle cx="42.9" cy="217" r="1.05"/><circle cx="40.9" cy="206.7" r="1.05"/><circle cx="42.8" cy="220.8" r="1.05"/><circle cx="42.3" cy="208" r="1.05"/><circle cx="37.6" cy="206.8" r="1.05"/><circle cx="42.5" cy="220" r="1.05"/><circle cx="42.1" cy="210.9" r="1.05"/><circle cx="39" cy="216.3" r="1.05"/><circle cx="41.8" cy="209.1" r="1.05"/><circle cx="39.4" cy="219.2" r="1.05"/><circle cx="42.1" cy="214.1" r="1.05"/><circle cx="37.3" cy="210.7" r="1.05"/><circle cx="43.2" cy="212.3" r="1.05"/><circle cx="39.8" cy="217.8" r="1.05"/><circle cx="42.9" cy="219.8" r="1.05"/><circle cx="38.5" cy="210.1" r="1.05"/><circle cx="39" cy="208.1" r="1.05"/><circle cx="38.9" cy="211.3" r="1.05"/><circle cx="43.5" cy="220.3" r="1.05"/><circle cx="43.6" cy="213.6" r="1.05"/><circle cx="44" cy="216.8" r="1.05"/><circle cx="42.6" cy="219.4" r="1.05"/><circle cx="43" cy="217.1" r="1.05"/><circle cx="43.8" cy="218.3" r="1.05"/><circle cx="39.3" cy="210.9" r="1.05"/><circle cx="42.6" cy="209.3" r="1.05"/><circle cx="41.8" cy="220.8" r="1.05"/><circle cx="38.1" cy="212" r="1.05"/><circle cx="43.3" cy="222.1" r="1.05"/><circle cx="43.1" cy="221.9" r="1.05"/><circle cx="42.3" cy="214" r="1.05"/><circle cx="44" cy="220.5" r="1.05"/><circle cx="40.2" cy="211.1" r="1.05"/><circle cx="42.3" cy="221.5" r="1.05"/><circle cx="41.9" cy="219" r="1.05"/><circle cx="39.4" cy="219.6" r="1.05"/><circle cx="36.2" cy="205" r="1.05"/><circle cx="39.7" cy="212.6" r="1.05"/><circle cx="45.1" cy="221.8" r="1.05"/><circle cx="41.7" cy="207.4" r="1.05"/><circle cx="42.9" cy="213.9" r="1.05"/><circle cx="42" cy="211.5" r="1.05"/><circle cx="38.8" cy="205.1" r="1.05"/><circle cx="38.6" cy="210.8" r="1.05"/><circle cx="39.5" cy="210.3" r="1.05"/><circle cx="40.9" cy="213.7" r="1.05"/><circle cx="43.4" cy="217.9" r="1.05"/><circle cx="43.3" cy="221.8" r="1.05"/><circle cx="40.4" cy="209.5" r="1.05"/><circle cx="38.9" cy="212.7" r="1.05"/><circle cx="38.4" cy="210.8" r="1.05"/><circle cx="38.2" cy="214.4" r="1.05"/><circle cx="40.3" cy="214.5" r="1.05"/><circle cx="37.5" cy="205.1" r="1.05"/><circle cx="42.8" cy="222" r="1.05"/><circle cx="39.7" cy="206.1" r="1.05"/><circle cx="39.3" cy="217.3" r="1.05"/><circle cx="38.6" cy="212" r="1.05"/><circle cx="42.8" cy="214.5" r="1.05"/><circle cx="37.5" cy="209.2" r="1.05"/><circle cx="40.2" cy="207.4" r="1.05"/><circle cx="39.4" cy="206.2" r="1.05"/><circle cx="43.3" cy="219.2" r="1.05"/><circle cx="38.4" cy="216.7" r="1.05"/><circle cx="38.9" cy="212.6" r="1.05"/><circle cx="38.6" cy="214" r="1.05"/><circle cx="42.5" cy="207.4" r="1.05"/><circle cx="39.8" cy="220.4" r="1.05"/><circle cx="39.4" cy="219.5" r="1.05"/><circle cx="43.3" cy="210.9" r="1.05"/><circle cx="42.1" cy="221.5" r="1.05"/><circle cx="40.7" cy="217.3" r="1.05"/><circle cx="40.9" cy="219.9" r="1.05"/><circle cx="37.4" cy="208.6" r="1.05"/><circle cx="41.5" cy="216" r="1.05"/><circle cx="40.1" cy="220.8" r="1.05"/><circle cx="44.3" cy="219.1" r="1.05"/><circle cx="39.3" cy="218.1" r="1.05"/><circle cx="36.8" cy="207.7" r="1.05"/><circle cx="41.8" cy="210.8" r="1.05"/><circle cx="39.2" cy="207.5" r="1.05"/><circle cx="40.4" cy="205.8" r="1.05"/><circle cx="41.3" cy="206.7" r="1.05"/><circle cx="39.3" cy="215.7" r="1.05"/><circle cx="40.5" cy="217.2" r="1.05"/><circle cx="41.2" cy="214.2" r="1.05"/><circle cx="39.4" cy="209.8" r="1.05"/><circle cx="43.8" cy="218.8" r="1.05"/><circle cx="38.6" cy="204.7" r="1.05"/><circle cx="36.6" cy="204.9" r="1.05"/><circle cx="36" cy="205.4" r="1.05"/><circle cx="39.7" cy="205" r="1.05"/><circle cx="38.9" cy="202.5" r="1.05"/><circle cx="36.7" cy="205.3" r="1.05"/><circle cx="36.1" cy="203.7" r="1.05"/><circle cx="36.3" cy="203.8" r="1.05"/><circle cx="36.2" cy="203.8" r="1.05"/><circle cx="39.1" cy="202.5" r="1.05"/><circle cx="39.2" cy="202" r="1.05"/><circle cx="36.9" cy="202.9" r="1.05"/><circle cx="47" cy="207.8" r="1.05"/><circle cx="45.6" cy="207.6" r="1.05"/><circle cx="44" cy="208.2" r="1.05"/><circle cx="42.9" cy="223.3" r="1.05"/><circle cx="42.9" cy="226" r="1.05"/><circle cx="47" cy="225.3" r="1.05"/><circle cx="44.1" cy="229.9" r="1.05"/><circle cx="41.8" cy="239.9" r="1.05"/><circle cx="44.5" cy="221" r="1.05"/></g><g fill="#cf2527"><circle cx="44.1" cy="286.6" r="1.05"/><circle cx="48" cy="278.9" r="1.05"/><circle cx="45.9" cy="286.7" r="1.05"/><circle cx="45.8" cy="270.3" r="1.05"/><circle cx="44.7" cy="272.1" r="1.05"/><circle cx="44" cy="272.6" r="1.05"/><circle cx="47.4" cy="266.4" r="1.05"/><circle cx="46.3" cy="265.8" r="1.05"/><circle cx="46.6" cy="273.8" r="1.05"/><circle cx="45.6" cy="278.6" r="1.05"/><circle cx="46" cy="283" r="1.05"/><circle cx="46" cy="285.7" r="1.05"/><circle cx="47.3" cy="285.2" r="1.05"/><circle cx="44.8" cy="281.4" r="1.05"/><circle cx="43.4" cy="276.4" r="1.05"/><circle cx="46.4" cy="281.8" r="1.05"/><circle cx="43.7" cy="283.9" r="1.05"/><circle cx="46.7" cy="268.4" r="1.05"/><circle cx="43.5" cy="282" r="1.05"/><circle cx="44.7" cy="266.2" r="1.05"/><circle cx="43.2" cy="273.1" r="1.05"/><circle cx="43.9" cy="267.7" r="1.05"/><circle cx="43.6" cy="265.8" r="1.05"/><circle cx="45" cy="266.1" r="1.05"/><circle cx="46.4" cy="282.3" r="1.05"/><circle cx="45.5" cy="279.1" r="1.05"/><circle cx="43" cy="269.7" r="1.05"/><circle cx="48.5" cy="269.7" r="1.05"/><circle cx="46" cy="283.8" r="1.05"/><circle cx="46.9" cy="279.3" r="1.05"/><circle cx="44.4" cy="284" r="1.05"/><circle cx="46.4" cy="283.6" r="1.05"/><circle cx="44.5" cy="271.8" r="1.05"/><circle cx="46.1" cy="269.4" r="1.05"/><circle cx="46.9" cy="287.3" r="1.05"/><circle cx="43.5" cy="269.2" r="1.05"/><circle cx="43.8" cy="271.8" r="1.05"/><circle cx="47.2" cy="268.7" r="1.05"/><circle cx="46.1" cy="272.6" r="1.05"/><circle cx="48.5" cy="272.6" r="1.05"/><circle cx="43.8" cy="278.8" r="1.05"/><circle cx="44.6" cy="283" r="1.05"/><circle cx="44.5" cy="275.7" r="1.05"/><circle cx="44.7" cy="276.5" r="1.05"/><circle cx="43.8" cy="272.7" r="1.05"/><circle cx="44.3" cy="287.1" r="1.05"/><circle cx="45.2" cy="271.9" r="1.05"/><circle cx="44.1" cy="268.2" r="1.05"/><circle cx="46.2" cy="274.7" r="1.05"/><circle cx="45" cy="277.6" r="1.05"/><circle cx="46.9" cy="280.7" r="1.05"/><circle cx="44.2" cy="271.5" r="1.05"/><circle cx="45.2" cy="279.6" r="1.05"/><circle cx="43.3" cy="284.2" r="1.05"/><circle cx="44.9" cy="277.7" r="1.05"/><circle cx="48" cy="270.3" r="1.05"/><circle cx="47.5" cy="270.4" r="1.05"/><circle cx="47.8" cy="284.7" r="1.05"/><circle cx="43.7" cy="268.1" r="1.05"/><circle cx="44.7" cy="267.4" r="1.05"/><circle cx="46.3" cy="285.9" r="1.05"/><circle cx="43.4" cy="269" r="1.05"/><circle cx="46.3" cy="282.4" r="1.05"/><circle cx="46.4" cy="265.6" r="1.05"/><circle cx="44.5" cy="269.8" r="1.05"/><circle cx="48.8" cy="267.8" r="1.05"/><circle cx="46.3" cy="275.8" r="1.05"/><circle cx="45" cy="270.1" r="1.05"/><circle cx="46.9" cy="280.1" r="1.05"/><circle cx="44.5" cy="285.9" r="1.05"/><circle cx="45.2" cy="270.9" r="1.05"/><circle cx="47.6" cy="272.4" r="1.05"/><circle cx="45" cy="273.9" r="1.05"/><circle cx="46" cy="276.8" r="1.05"/><circle cx="42.9" cy="273.4" r="1.05"/><circle cx="43.8" cy="282" r="1.05"/><circle cx="44.4" cy="284.7" r="1.05"/><circle cx="46" cy="271.3" r="1.05"/><circle cx="45.1" cy="285.9" r="1.05"/><circle cx="45.2" cy="276.3" r="1.05"/><circle cx="44.5" cy="268" r="1.05"/><circle cx="47.6" cy="286.1" r="1.05"/><circle cx="48.2" cy="271.2" r="1.05"/><circle cx="47.2" cy="265.9" r="1.05"/><circle cx="45.3" cy="266.1" r="1.05"/><circle cx="45.4" cy="274.8" r="1.05"/><circle cx="44.9" cy="286.7" r="1.05"/><circle cx="43.3" cy="265.9" r="1.05"/><circle cx="43.8" cy="282.4" r="1.05"/><circle cx="43.9" cy="266.8" r="1.05"/><circle cx="45.4" cy="287.5" r="1.05"/><circle cx="46.7" cy="268.8" r="1.05"/><circle cx="46" cy="274" r="1.05"/><circle cx="46.5" cy="287.9" r="1.05"/><circle cx="48.3" cy="277.5" r="1.05"/><circle cx="45.4" cy="276.9" r="1.05"/><circle cx="47.8" cy="284.6" r="1.05"/><circle cx="45" cy="281.7" r="1.05"/><circle cx="43" cy="274.6" r="1.05"/><circle cx="47.4" cy="270.9" r="1.05"/><circle cx="47.6" cy="276.5" r="1.05"/><circle cx="46" cy="280.6" r="1.05"/><circle cx="45.6" cy="283.6" r="1.05"/><circle cx="45.6" cy="280.5" r="1.05"/><circle cx="47.2" cy="273.4" r="1.05"/><circle cx="48.8" cy="267.1" r="1.05"/><circle cx="47.1" cy="287.1" r="1.05"/><circle cx="45.4" cy="276" r="1.05"/><circle cx="45.5" cy="274.6" r="1.05"/><circle cx="47.5" cy="270.5" r="1.05"/><circle cx="45.6" cy="285.3" r="1.05"/><circle cx="44.7" cy="284.7" r="1.05"/><circle cx="47.8" cy="284.8" r="1.05"/><circle cx="48" cy="280.6" r="1.05"/><circle cx="46.6" cy="281.8" r="1.05"/><circle cx="43.3" cy="276.1" r="1.05"/><circle cx="47.8" cy="268.3" r="1.05"/><circle cx="46.9" cy="269.6" r="1.05"/><circle cx="47.3" cy="269.1" r="1.05"/><circle cx="46.1" cy="287" r="1.05"/><circle cx="47.3" cy="266.4" r="1.05"/><circle cx="47.7" cy="276.2" r="1.05"/><circle cx="44.4" cy="268.9" r="1.05"/><circle cx="47.2" cy="286.2" r="1.05"/><circle cx="45.7" cy="286" r="1.05"/><circle cx="47.9" cy="280.7" r="1.05"/><circle cx="43.6" cy="280.3" r="1.05"/><circle cx="42.7" cy="269" r="1.05"/><circle cx="42.9" cy="268" r="1.05"/><circle cx="46.4" cy="274.2" r="1.05"/><circle cx="45.2" cy="284.9" r="1.05"/><circle cx="48.3" cy="269.1" r="1.05"/><circle cx="47.8" cy="286.1" r="1.05"/><circle cx="46.4" cy="266" r="1.05"/><circle cx="45.9" cy="279.7" r="1.05"/><circle cx="48.3" cy="269.7" r="1.05"/><circle cx="43.2" cy="277.6" r="1.05"/><circle cx="47" cy="273.3" r="1.05"/><circle cx="47.4" cy="270.1" r="1.05"/><circle cx="45.4" cy="270.2" r="1.05"/><circle cx="43.6" cy="272.1" r="1.05"/><circle cx="44.9" cy="285.4" r="1.05"/><circle cx="47.6" cy="282.4" r="1.05"/><circle cx="42.9" cy="271.9" r="1.05"/><circle cx="44.3" cy="277.3" r="1.05"/><circle cx="44.1" cy="285.2" r="1.05"/><circle cx="43.3" cy="281.7" r="1.05"/><circle cx="44" cy="271.6" r="1.05"/><circle cx="46.1" cy="284.7" r="1.05"/><circle cx="43.5" cy="280.3" r="1.05"/><circle cx="43.5" cy="262.9" r="1.05"/><circle cx="46.6" cy="263.4" r="1.05"/><circle cx="45" cy="264.5" r="1.05"/><circle cx="39.1" cy="274.4" r="1.05"/><circle cx="51.6" cy="280.9" r="1.05"/><circle cx="52.7" cy="282" r="1.05"/><circle cx="56" cy="288.5" r="1.05"/><circle cx="50.5" cy="289.6" r="1.05"/><circle cx="43.5" cy="291.3" r="1.05"/><circle cx="49.2" cy="283.2" r="1.05"/><circle cx="48.7" cy="287.8" r="1.05"/><circle cx="47.9" cy="289" r="1.05"/></g><g fill="#0b900e"><circle cx="46.9" cy="288.6" r="1.05"/><circle cx="46" cy="291.9" r="1.05"/><circle cx="41.7" cy="290.7" r="1.05"/><circle cx="42.7" cy="295.1" r="1.05"/><circle cx="44.9" cy="287.1" r="1.05"/><circle cx="45.8" cy="286.2" r="1.05"/><circle cx="43.3" cy="292.9" r="1.05"/><circle cx="43.9" cy="290.8" r="1.05"/><circle cx="40" cy="286.1" r="1.05"/><circle cx="39.9" cy="289.1" r="1.05"/><circle cx="42.6" cy="287.3" r="1.05"/><circle cx="44.2" cy="292" r="1.05"/><circle cx="45.8" cy="287.2" r="1.05"/><circle cx="45.4" cy="293.8" r="1.05"/><circle cx="42.3" cy="292.7" r="1.05"/><circle cx="44.9" cy="294.3" r="1.05"/><circle cx="45.2" cy="287.2" r="1.05"/><circle cx="44.6" cy="292" r="1.05"/><circle cx="46" cy="290.3" r="1.05"/><circle cx="44.8" cy="293.1" r="1.05"/><circle cx="41.3" cy="286" r="1.05"/><circle cx="43.7" cy="295.8" r="1.05"/><circle cx="41.3" cy="292.1" r="1.05"/><circle cx="44.8" cy="291.4" r="1.05"/><circle cx="47.6" cy="293.5" r="1.05"/><circle cx="42.5" cy="290.2" r="1.05"/><circle cx="42.3" cy="287" r="1.05"/><circle cx="47.5" cy="290" r="1.05"/><circle cx="45.3" cy="290.8" r="1.05"/><circle cx="40.6" cy="293.1" r="1.05"/><circle cx="44" cy="287.8" r="1.05"/><circle cx="40.6" cy="285.9" r="1.05"/><circle cx="45.4" cy="293.4" r="1.05"/><circle cx="40.4" cy="286.8" r="1.05"/><circle cx="44.1" cy="294.3" r="1.05"/><circle cx="45.5" cy="288.7" r="1.05"/><circle cx="47.8" cy="292.5" r="1.05"/><circle cx="45.9" cy="286.4" r="1.05"/><circle cx="42" cy="290.2" r="1.05"/><circle cx="40.3" cy="290.6" r="1.05"/><circle cx="40.3" cy="286.6" r="1.05"/><circle cx="45.7" cy="292.7" r="1.05"/><circle cx="42.1" cy="287.9" r="1.05"/><circle cx="43.4" cy="293.6" r="1.05"/><circle cx="47.4" cy="289" r="1.05"/><circle cx="44.3" cy="291.1" r="1.05"/><circle cx="40.6" cy="291.8" r="1.05"/><circle cx="46.1" cy="289.6" r="1.05"/><circle cx="47" cy="292.3" r="1.05"/><circle cx="43.6" cy="288.6" r="1.05"/><circle cx="41.1" cy="287.8" r="1.05"/><circle cx="41" cy="286.3" r="1.05"/><circle cx="43.1" cy="287.1" r="1.05"/><circle cx="45.9" cy="289.7" r="1.05"/><circle cx="44.5" cy="293.6" r="1.05"/><circle cx="43.9" cy="292.3" r="1.05"/><circle cx="43.8" cy="288.6" r="1.05"/><circle cx="47.5" cy="292.1" r="1.05"/><circle cx="41.1" cy="294" r="1.05"/><circle cx="41" cy="292.1" r="1.05"/><circle cx="46.7" cy="292" r="1.05"/><circle cx="41.3" cy="292.8" r="1.05"/><circle cx="41.5" cy="289.8" r="1.05"/><circle cx="45.7" cy="292.4" r="1.05"/><circle cx="43.1" cy="293.2" r="1.05"/><circle cx="41.8" cy="291.7" r="1.05"/><circle cx="47.4" cy="295.2" r="1.05"/><circle cx="44.1" cy="285.6" r="1.05"/><circle cx="42.2" cy="293" r="1.05"/><circle cx="39.3" cy="285.7" r="1.05"/><circle cx="40.6" cy="292.9" r="1.05"/><circle cx="46.2" cy="289.4" r="1.05"/><circle cx="45.3" cy="285.9" r="1.05"/><circle cx="43" cy="289.9" r="1.05"/><circle cx="42.8" cy="290.5" r="1.05"/><circle cx="45.5" cy="294.5" r="1.05"/><circle cx="40.8" cy="289.4" r="1.05"/><circle cx="47.8" cy="290.7" r="1.05"/><circle cx="41.3" cy="294.8" r="1.05"/><circle cx="43.6" cy="289.1" r="1.05"/><circle cx="42.6" cy="300.9" r="1.05"/><circle cx="44.8" cy="298.3" r="1.05"/><circle cx="45.9" cy="304.8" r="1.05"/><circle cx="45.7" cy="304.2" r="1.05"/><circle cx="42.5" cy="296.1" r="1.05"/><circle cx="43.3" cy="300.1" r="1.05"/><circle cx="44.1" cy="300.7" r="1.05"/><circle cx="41.9" cy="300.1" r="1.05"/><circle cx="46.8" cy="306.6" r="1.05"/><circle cx="43.8" cy="303.5" r="1.05"/><circle cx="46.9" cy="301.5" r="1.05"/><circle cx="45.8" cy="303.3" r="1.05"/><circle cx="47" cy="304.5" r="1.05"/><circle cx="43.1" cy="304" r="1.05"/><circle cx="46.9" cy="302.2" r="1.05"/><circle cx="41.6" cy="297.6" r="1.05"/><circle cx="41.6" cy="296.6" r="1.05"/><circle cx="46.2" cy="298" r="1.05"/><circle cx="45.9" cy="303.3" r="1.05"/><circle cx="44.1" cy="302.8" r="1.05"/><circle cx="43.7" cy="305.6" r="1.05"/><circle cx="44.2" cy="300.4" r="1.05"/><circle cx="46.1" cy="304.3" r="1.05"/><circle cx="45.3" cy="302.9" r="1.05"/><circle cx="45.2" cy="299.4" r="1.05"/><circle cx="44.8" cy="306.3" r="1.05"/><circle cx="45" cy="305.2" r="1.05"/><circle cx="45.3" cy="302.3" r="1.05"/><circle cx="42.7" cy="297.7" r="1.05"/><circle cx="44.7" cy="298.1" r="1.05"/><circle cx="45.8" cy="304.2" r="1.05"/><circle cx="43.5" cy="298.5" r="1.05"/><circle cx="45.5" cy="297.8" r="1.05"/><circle cx="43.5" cy="301.1" r="1.05"/><circle cx="47.3" cy="298.7" r="1.05"/><circle cx="47.3" cy="301.9" r="1.05"/><circle cx="43" cy="299.9" r="1.05"/><circle cx="46.7" cy="304.7" r="1.05"/><circle cx="46.8" cy="298" r="1.05"/><circle cx="46.8" cy="303.2" r="1.05"/><circle cx="44.9" cy="307.5" r="1.05"/><circle cx="44" cy="307.5" r="1.05"/><circle cx="44.4" cy="301.4" r="1.05"/><circle cx="44.5" cy="299" r="1.05"/><circle cx="43.3" cy="305.2" r="1.05"/><circle cx="44.9" cy="301.9" r="1.05"/><circle cx="45.4" cy="298.4" r="1.05"/><circle cx="45" cy="299.1" r="1.05"/><circle cx="46" cy="303" r="1.05"/><circle cx="46.6" cy="307.4" r="1.05"/><circle cx="43.6" cy="302.1" r="1.05"/><circle cx="46.3" cy="299" r="1.05"/><circle cx="46.2" cy="305.3" r="1.05"/><circle cx="45.3" cy="306.2" r="1.05"/><circle cx="45.6" cy="306.9" r="1.05"/><circle cx="46.4" cy="303.7" r="1.05"/><circle cx="46.1" cy="304" r="1.05"/><circle cx="44.7" cy="307.3" r="1.05"/><circle cx="44.1" cy="305.2" r="1.05"/><circle cx="46.7" cy="301.9" r="1.05"/><circle cx="46.6" cy="307.9" r="1.05"/><circle cx="46.4" cy="305.2" r="1.05"/><circle cx="45.5" cy="306.8" r="1.05"/><circle cx="41.7" cy="299" r="1.05"/><circle cx="46" cy="305.3" r="1.05"/><circle cx="45.3" cy="304.9" r="1.05"/><circle cx="45.9" cy="304" r="1.05"/><circle cx="45.6" cy="302.5" r="1.05"/><circle cx="44.8" cy="298.7" r="1.05"/><circle cx="45.2" cy="303.7" r="1.05"/><circle cx="39.6" cy="279.8" r="1.05"/><circle cx="50.5" cy="283.6" r="1.05"/><circle cx="50" cy="314.2" r="1.05"/><circle cx="45.1" cy="316.9" r="1.05"/><circle cx="45.6" cy="309.5" r="1.05"/></g><g fill="#d4920c"><circle cx="48" cy="291.6" r="1.05"/><circle cx="48.1" cy="300.7" r="1.05"/><circle cx="48.4" cy="303.8" r="1.05"/><circle cx="49.1" cy="303.3" r="1.05"/><circle cx="48.6" cy="306.3" r="1.05"/><circle cx="50.5" cy="289.4" r="1.05"/><circle cx="49" cy="303.4" r="1.05"/><circle cx="50.4" cy="296.5" r="1.05"/><circle cx="49.2" cy="292.5" r="1.05"/><circle cx="48.8" cy="298.7" r="1.05"/><circle cx="51.7" cy="289.1" r="1.05"/><circle cx="52" cy="288.6" r="1.05"/><circle cx="49.4" cy="305" r="1.05"/><circle cx="48" cy="305.3" r="1.05"/><circle cx="49.1" cy="298.6" r="1.05"/><circle cx="51.5" cy="292.6" r="1.05"/><circle cx="51.5" cy="286.7" r="1.05"/><circle cx="50.6" cy="287.6" r="1.05"/><circle cx="49.8" cy="292.3" r="1.05"/><circle cx="50.7" cy="306.8" r="1.05"/><circle cx="48.8" cy="288.1" r="1.05"/><circle cx="50.6" cy="296.9" r="1.05"/><circle cx="51.5" cy="285.9" r="1.05"/><circle cx="51.4" cy="304.9" r="1.05"/><circle cx="48.4" cy="290.4" r="1.05"/><circle cx="49.7" cy="304.7" r="1.05"/><circle cx="47.5" cy="291.4" r="1.05"/><circle cx="50.5" cy="290.7" r="1.05"/><circle cx="49.1" cy="302.4" r="1.05"/><circle cx="49.6" cy="306.6" r="1.05"/><circle cx="49.2" cy="297.5" r="1.05"/><circle cx="49.1" cy="295" r="1.05"/><circle cx="49.4" cy="304.5" r="1.05"/><circle cx="49.4" cy="291.1" r="1.05"/><circle cx="50.1" cy="306.8" r="1.05"/><circle cx="49.3" cy="288.2" r="1.05"/><circle cx="47.6" cy="296.4" r="1.05"/><circle cx="51.1" cy="307.6" r="1.05"/><circle cx="50" cy="288.1" r="1.05"/><circle cx="48.4" cy="292.9" r="1.05"/><circle cx="47.7" cy="292" r="1.05"/><circle cx="49.1" cy="301.4" r="1.05"/><circle cx="50.9" cy="301.7" r="1.05"/><circle cx="49" cy="298.8" r="1.05"/><circle cx="50.4" cy="289" r="1.05"/><circle cx="50.8" cy="301.1" r="1.05"/><circle cx="47.6" cy="288.9" r="1.05"/><circle cx="50" cy="305.8" r="1.05"/><circle cx="50.7" cy="287.9" r="1.05"/><circle cx="50.4" cy="287.1" r="1.05"/><circle cx="50.6" cy="298.4" r="1.05"/><circle cx="51.7" cy="287.9" r="1.05"/><circle cx="51.4" cy="307.1" r="1.05"/><circle cx="48.9" cy="303.2" r="1.05"/><circle cx="50" cy="308" r="1.05"/><circle cx="50.3" cy="302.1" r="1.05"/><circle cx="51.4" cy="290.5" r="1.05"/><circle cx="48.5" cy="300.5" r="1.05"/><circle cx="48.1" cy="294.4" r="1.05"/><circle cx="51.8" cy="295.6" r="1.05"/><circle cx="49.2" cy="294.5" r="1.05"/><circle cx="48" cy="304" r="1.05"/><circle cx="50.9" cy="288.5" r="1.05"/><circle cx="50.3" cy="288.8" r="1.05"/><circle cx="49.9" cy="304.3" r="1.05"/><circle cx="48.3" cy="287.6" r="1.05"/><circle cx="51.6" cy="298.1" r="1.05"/><circle cx="50.4" cy="300.6" r="1.05"/><circle cx="48.9" cy="299.3" r="1.05"/><circle cx="47.6" cy="299.6" r="1.05"/><circle cx="51" cy="295.2" r="1.05"/><circle cx="50.4" cy="290.4" r="1.05"/><circle cx="48.3" cy="302.2" r="1.05"/><circle cx="48.7" cy="305.3" r="1.05"/><circle cx="49" cy="307.7" r="1.05"/><circle cx="47.3" cy="309" r="1.05"/><circle cx="49" cy="310" r="1.05"/><circle cx="51.6" cy="311" r="1.05"/><circle cx="53.6" cy="311.8" r="1.05"/><circle cx="49.5" cy="288" r="1.05"/></g><g fill="#43ea8c"><circle cx="52.8" cy="331.6" r="1.05"/><circle cx="50.7" cy="335" r="1.05"/><circle cx="51.4" cy="324.7" r="1.05"/><circle cx="48.7" cy="331.2" r="1.05"/><circle cx="53" cy="327.8" r="1.05"/><circle cx="49.2" cy="330.2" r="1.05"/><circle cx="50.5" cy="332.1" r="1.05"/><circle cx="50.7" cy="336.6" r="1.05"/><circle cx="48.6" cy="321.9" r="1.05"/><circle cx="53.4" cy="324.4" r="1.05"/><circle cx="49.9" cy="327.4" r="1.05"/><circle cx="49.7" cy="337.6" r="1.05"/><circle cx="52.8" cy="331.8" r="1.05"/><circle cx="49.5" cy="336.5" r="1.05"/><circle cx="49.5" cy="329.3" r="1.05"/><circle cx="49.6" cy="333" r="1.05"/><circle cx="49.4" cy="324.4" r="1.05"/><circle cx="52.1" cy="323.7" r="1.05"/><circle cx="50.2" cy="326.1" r="1.05"/><circle cx="50.1" cy="326" r="1.05"/><circle cx="49.9" cy="326.5" r="1.05"/><circle cx="49.3" cy="333.2" r="1.05"/><circle cx="50.1" cy="332.8" r="1.05"/><circle cx="48.4" cy="323" r="1.05"/><circle cx="49" cy="336.4" r="1.05"/><circle cx="52.8" cy="326.1" r="1.05"/><circle cx="48.9" cy="322.8" r="1.05"/><circle cx="52.7" cy="325.9" r="1.05"/><circle cx="53.5" cy="323.4" r="1.05"/><circle cx="51.2" cy="323.5" r="1.05"/><circle cx="51" cy="334.3" r="1.05"/><circle cx="50.4" cy="329.9" r="1.05"/><circle cx="53.6" cy="325.7" r="1.05"/><circle cx="51.5" cy="328.2" r="1.05"/><circle cx="52.9" cy="331.1" r="1.05"/><circle cx="48.8" cy="325.5" r="1.05"/><circle cx="50.8" cy="336.3" r="1.05"/><circle cx="51.3" cy="332.1" r="1.05"/><circle cx="52.2" cy="334.4" r="1.05"/><circle cx="48.6" cy="333.1" r="1.05"/><circle cx="48.9" cy="335.3" r="1.05"/><circle cx="48.8" cy="335.7" r="1.05"/><circle cx="51.3" cy="334.3" r="1.05"/><circle cx="52.4" cy="321.9" r="1.05"/><circle cx="48.9" cy="331.1" r="1.05"/><circle cx="51.1" cy="336" r="1.05"/><circle cx="53" cy="329.1" r="1.05"/><circle cx="48.8" cy="324.9" r="1.05"/><circle cx="49.5" cy="336.2" r="1.05"/><circle cx="49.6" cy="335" r="1.05"/><circle cx="50.4" cy="334.9" r="1.05"/><circle cx="51.2" cy="331.7" r="1.05"/><circle cx="50.8" cy="328" r="1.05"/><circle cx="49.1" cy="332.2" r="1.05"/><circle cx="52" cy="336.6" r="1.05"/><circle cx="49.1" cy="324.9" r="1.05"/><circle cx="52.2" cy="328" r="1.05"/><circle cx="49.8" cy="330" r="1.05"/><circle cx="49.5" cy="334.2" r="1.05"/><circle cx="51.9" cy="333.2" r="1.05"/><circle cx="51.2" cy="323.2" r="1.05"/><circle cx="53" cy="331.3" r="1.05"/><circle cx="50.5" cy="326.4" r="1.05"/><circle cx="49.4" cy="336.9" r="1.05"/><circle cx="50.2" cy="336.3" r="1.05"/><circle cx="53.5" cy="327.2" r="1.05"/><circle cx="49.4" cy="327.9" r="1.05"/><circle cx="51.9" cy="324.9" r="1.05"/><circle cx="49.6" cy="332" r="1.05"/><circle cx="49.7" cy="329.7" r="1.05"/><circle cx="50.2" cy="335.3" r="1.05"/><circle cx="52.7" cy="331.7" r="1.05"/><circle cx="53.4" cy="325.4" r="1.05"/><circle cx="51.5" cy="329.5" r="1.05"/><circle cx="51.9" cy="326" r="1.05"/><circle cx="51.1" cy="333.4" r="1.05"/><circle cx="50.6" cy="335.7" r="1.05"/><circle cx="53.4" cy="321.7" r="1.05"/><circle cx="51.3" cy="330.9" r="1.05"/><circle cx="48.6" cy="331.4" r="1.05"/><circle cx="48.4" cy="326.2" r="1.05"/><circle cx="52.4" cy="332.2" r="1.05"/><circle cx="52.2" cy="332.4" r="1.05"/><circle cx="48.2" cy="327" r="1.05"/><circle cx="49" cy="328.3" r="1.05"/><circle cx="49.3" cy="326.5" r="1.05"/><circle cx="51.9" cy="324.5" r="1.05"/><circle cx="52.3" cy="331.4" r="1.05"/><circle cx="49.8" cy="337.7" r="1.05"/><circle cx="51.7" cy="337" r="1.05"/><circle cx="53" cy="330.8" r="1.05"/><circle cx="48.4" cy="330" r="1.05"/><circle cx="49.6" cy="323.6" r="1.05"/><circle cx="51" cy="333" r="1.05"/><circle cx="48.6" cy="332.8" r="1.05"/><circle cx="51.1" cy="325.6" r="1.05"/><circle cx="50.4" cy="332.3" r="1.05"/><circle cx="49.6" cy="325.1" r="1.05"/><circle cx="51.7" cy="334.1" r="1.05"/><circle cx="53.3" cy="325.6" r="1.05"/><circle cx="49.1" cy="322.2" r="1.05"/><circle cx="52.3" cy="328.7" r="1.05"/><circle cx="51.6" cy="330.8" r="1.05"/><circle cx="50.3" cy="337.2" r="1.05"/><circle cx="50.2" cy="324.5" r="1.05"/><circle cx="49" cy="330.8" r="1.05"/><circle cx="52.2" cy="322.1" r="1.05"/><circle cx="52.3" cy="337.8" r="1.05"/><circle cx="50.5" cy="327.7" r="1.05"/><circle cx="52.7" cy="335.2" r="1.05"/><circle cx="56.9" cy="329.5" r="1.05"/><circle cx="51" cy="331.3" r="1.05"/><circle cx="50" cy="330" r="1.05"/><circle cx="53.7" cy="329.7" r="1.05"/><circle cx="52.2" cy="331.9" r="1.05"/><circle cx="54.6" cy="331.1" r="1.05"/><circle cx="54.3" cy="330.4" r="1.05"/><circle cx="54.3" cy="330" r="1.05"/><circle cx="56.5" cy="330" r="1.05"/><circle cx="56.5" cy="328.1" r="1.05"/><circle cx="50.1" cy="331.6" r="1.05"/><circle cx="52.5" cy="331.5" r="1.05"/><circle cx="53.6" cy="330.3" r="1.05"/><circle cx="53.3" cy="331.5" r="1.05"/><circle cx="51.5" cy="331" r="1.05"/><circle cx="55" cy="327.9" r="1.05"/><circle cx="50.5" cy="332.9" r="1.05"/><circle cx="52.5" cy="332.5" r="1.05"/><circle cx="51.8" cy="331.1" r="1.05"/><circle cx="53" cy="331.3" r="1.05"/><circle cx="51.9" cy="331.9" r="1.05"/><circle cx="54.5" cy="329.3" r="1.05"/><circle cx="57.3" cy="328.1" r="1.05"/><circle cx="56.7" cy="330.8" r="1.05"/><circle cx="55.2" cy="328.5" r="1.05"/><circle cx="43.1" cy="326" r="1.05"/><circle cx="44.5" cy="331.3" r="1.05"/><circle cx="48.6" cy="319.3" r="1.05"/><circle cx="52.8" cy="319.3" r="1.05"/><circle cx="50.5" cy="338.6" r="1.05"/><circle cx="46" cy="323.5" r="1.05"/></g><g fill="#1585c6"><circle cx="126.6" cy="245.8" r="1.05"/><circle cx="125.1" cy="245.7" r="1.05"/><circle cx="125.1" cy="244.5" r="1.05"/><circle cx="127" cy="247.1" r="1.05"/><circle cx="126.3" cy="246.5" r="1.05"/><circle cx="126.7" cy="243" r="1.05"/><circle cx="126.1" cy="242.6" r="1.05"/><circle cx="127" cy="244.1" r="1.05"/><circle cx="127.8" cy="244.8" r="1.05"/><circle cx="125.4" cy="244.6" r="1.05"/><circle cx="125.3" cy="246.4" r="1.05"/><circle cx="128.1" cy="245.6" r="1.05"/><circle cx="125.4" cy="246.9" r="1.05"/><circle cx="126.2" cy="243.1" r="1.05"/><circle cx="127.7" cy="246" r="1.05"/><circle cx="125.4" cy="246.8" r="1.05"/><circle cx="126.1" cy="243.3" r="1.05"/><circle cx="126.3" cy="244.1" r="1.05"/><circle cx="127.2" cy="242.8" r="1.05"/><circle cx="127.9" cy="243.7" r="1.05"/><circle cx="120.9" cy="246.1" r="1.05"/><circle cx="121.9" cy="241.6" r="1.05"/><circle cx="123.6" cy="239.9" r="1.05"/><circle cx="127.8" cy="239.2" r="1.05"/><circle cx="131.9" cy="245.1" r="1.05"/><circle cx="135.7" cy="246.1" r="1.05"/><circle cx="130.9" cy="250.2" r="1.05"/><circle cx="127.8" cy="248.5" r="1.05"/><circle cx="124.7" cy="258.3" r="1.05"/><circle cx="126.7" cy="259.9" r="1.05"/><circle cx="125.7" cy="257.8" r="1.05"/><circle cx="139.2" cy="258.5" r="1.05"/><circle cx="140.9" cy="259.9" r="1.05"/><circle cx="132.8" cy="265.9" r="1.05"/><circle cx="144.7" cy="267.5" r="1.05"/><circle cx="145.3" cy="267.2" r="1.05"/><circle cx="149.1" cy="269.6" r="1.05"/><circle cx="152.2" cy="272.6" r="1.05"/><circle cx="154.9" cy="273.1" r="1.05"/><circle cx="157.1" cy="279.1" r="1.05"/><circle cx="150.6" cy="279.6" r="1.05"/><circle cx="151.8" cy="277" r="1.05"/><circle cx="150.3" cy="276.7" r="1.05"/><circle cx="151.9" cy="274.6" r="1.05"/><circle cx="156.6" cy="278.4" r="1.05"/><circle cx="155.4" cy="276.4" r="1.05"/><circle cx="154.6" cy="276.9" r="1.05"/><circle cx="152.4" cy="278.7" r="1.05"/><circle cx="151.7" cy="274.6" r="1.05"/><circle cx="154.2" cy="277.2" r="1.05"/><circle cx="153.6" cy="274.9" r="1.05"/><circle cx="153.9" cy="280.9" r="1.05"/><circle cx="152.6" cy="277.5" r="1.05"/><circle cx="151.3" cy="279.7" r="1.05"/><circle cx="154.2" cy="276.3" r="1.05"/><circle cx="152.5" cy="277" r="1.05"/><circle cx="153.6" cy="277.4" r="1.05"/><circle cx="155.8" cy="277.1" r="1.05"/><circle cx="153.3" cy="274.7" r="1.05"/><circle cx="151.1" cy="277.5" r="1.05"/><circle cx="153.8" cy="279.5" r="1.05"/><circle cx="154.8" cy="278.6" r="1.05"/><circle cx="151.9" cy="275.4" r="1.05"/><circle cx="151" cy="276.5" r="1.05"/><circle cx="156.3" cy="276.5" r="1.05"/><circle cx="153.1" cy="280.3" r="1.05"/><circle cx="155" cy="277.2" r="1.05"/><circle cx="152.5" cy="274.8" r="1.05"/><circle cx="152.1" cy="275.3" r="1.05"/><circle cx="153.2" cy="275.4" r="1.05"/><circle cx="155.7" cy="276.6" r="1.05"/><circle cx="151.9" cy="280" r="1.05"/><circle cx="152" cy="274.4" r="1.05"/><circle cx="151.7" cy="275.6" r="1.05"/><circle cx="152" cy="279.5" r="1.05"/><circle cx="152.7" cy="280.4" r="1.05"/><circle cx="155" cy="275.5" r="1.05"/><circle cx="153.5" cy="278.3" r="1.05"/><circle cx="154.6" cy="276.2" r="1.05"/><circle cx="152.1" cy="274.4" r="1.05"/><circle cx="155.7" cy="276.6" r="1.05"/><circle cx="155.1" cy="276.4" r="1.05"/><circle cx="155.9" cy="276.5" r="1.05"/><circle cx="156" cy="279.2" r="1.05"/><circle cx="155.1" cy="280.6" r="1.05"/><circle cx="156.1" cy="278.6" r="1.05"/><circle cx="154.7" cy="279.8" r="1.05"/><circle cx="151.1" cy="280" r="1.05"/><circle cx="152.9" cy="280.6" r="1.05"/><circle cx="154.1" cy="277.3" r="1.05"/><circle cx="151.3" cy="283.1" r="1.05"/><circle cx="152.6" cy="281" r="1.05"/><circle cx="155" cy="286.4" r="1.05"/><circle cx="148.9" cy="284.7" r="1.05"/><circle cx="155" cy="283.6" r="1.05"/><circle cx="152.5" cy="285.8" r="1.05"/><circle cx="156.1" cy="282.2" r="1.05"/><circle cx="148.1" cy="284.6" r="1.05"/><circle cx="147.7" cy="282.3" r="1.05"/><circle cx="156.5" cy="284.2" r="1.05"/><circle cx="155.1" cy="283.6" r="1.05"/><circle cx="146.8" cy="285.2" r="1.05"/><circle cx="148.9" cy="285.1" r="1.05"/><circle cx="154.1" cy="282.2" r="1.05"/><circle cx="150" cy="282.6" r="1.05"/><circle cx="150.3" cy="282.2" r="1.05"/><circle cx="152.5" cy="281.7" r="1.05"/><circle cx="155.2" cy="282.8" r="1.05"/><circle cx="153.9" cy="282.3" r="1.05"/><circle cx="150.3" cy="282.5" r="1.05"/><circle cx="147.9" cy="282.6" r="1.05"/><circle cx="153.1" cy="286.3" r="1.05"/><circle cx="153.8" cy="283.3" r="1.05"/><circle cx="146.8" cy="284.2" r="1.05"/><circle cx="150.9" cy="284.3" r="1.05"/><circle cx="148.1" cy="283.6" r="1.05"/><circle cx="155.7" cy="282.8" r="1.05"/><circle cx="152.2" cy="282" r="1.05"/><circle cx="155.6" cy="282.2" r="1.05"/><circle cx="155.4" cy="285.5" r="1.05"/><circle cx="155.3" cy="282.5" r="1.05"/><circle cx="154.4" cy="283.7" r="1.05"/><circle cx="148.3" cy="282.7" r="1.05"/><circle cx="150.4" cy="286.8" r="1.05"/><circle cx="147.7" cy="285.1" r="1.05"/><circle cx="152.6" cy="281.2" r="1.05"/><circle cx="152.7" cy="284.5" r="1.05"/><circle cx="153.6" cy="281.6" r="1.05"/><circle cx="152.9" cy="285" r="1.05"/><circle cx="149.4" cy="284" r="1.05"/><circle cx="154" cy="283.3" r="1.05"/><circle cx="156" cy="283" r="1.05"/><circle cx="147.5" cy="283.1" r="1.05"/><circle cx="150.7" cy="282.4" r="1.05"/><circle cx="150.3" cy="284.1" r="1.05"/><circle cx="156.7" cy="285" r="1.05"/><circle cx="154.5" cy="281.7" r="1.05"/><circle cx="155.1" cy="285.6" r="1.05"/><circle cx="150.9" cy="281.9" r="1.05"/><circle cx="148.4" cy="286" r="1.05"/><circle cx="155.4" cy="284.1" r="1.05"/><circle cx="151.6" cy="286.2" r="1.05"/><circle cx="148.4" cy="283.3" r="1.05"/><circle cx="155.3" cy="281.8" r="1.05"/><circle cx="152" cy="281.1" r="1.05"/><circle cx="148.9" cy="284" r="1.05"/><circle cx="152.4" cy="283" r="1.05"/><circle cx="148.1" cy="282.5" r="1.05"/><circle cx="153.6" cy="284.9" r="1.05"/><circle cx="149.4" cy="281.3" r="1.05"/><circle cx="148.7" cy="285.5" r="1.05"/><circle cx="150.6" cy="281.6" r="1.05"/><circle cx="147.5" cy="284.6" r="1.05"/><circle cx="150.5" cy="281.1" r="1.05"/><circle cx="147.6" cy="283" r="1.05"/><circle cx="152.4" cy="285.2" r="1.05"/><circle cx="152.6" cy="282.5" r="1.05"/><circle cx="147" cy="285.2" r="1.05"/><circle cx="154.4" cy="286.2" r="1.05"/><circle cx="151.7" cy="286.6" r="1.05"/><circle cx="148" cy="290.8" r="1.05"/><circle cx="151.1" cy="290.8" r="1.05"/><circle cx="152.4" cy="289" r="1.05"/><circle cx="144" cy="285.3" r="1.05"/><circle cx="139.3" cy="283.5" r="1.05"/><circle cx="140.6" cy="283.5" r="1.05"/><circle cx="139.6" cy="287.5" r="1.05"/><circle cx="135.5" cy="285.7" r="1.05"/><circle cx="127.1" cy="287" r="1.05"/><circle cx="123.1" cy="289.7" r="1.05"/><circle cx="124.2" cy="289.9" r="1.05"/><circle cx="129.5" cy="290.7" r="1.05"/><circle cx="130.6" cy="290.8" r="1.05"/><circle cx="118.3" cy="293.1" r="1.05"/><circle cx="107" cy="294.2" r="1.05"/><circle cx="114.3" cy="296.6" r="1.05"/><circle cx="127.9" cy="297.1" r="1.05"/><circle cx="92.2" cy="301" r="1.05"/><circle cx="105" cy="301.8" r="1.05"/><circle cx="107.1" cy="294.4" r="1.05"/></g>
<line x1="26.9" y1="337.9" x2="29.5" y2="337.9" stroke="#444" stroke-width="0.7"/><text x="24.2" y="340.6" class="tk" text-anchor="end">0.0</text><line x1="26.9" y1="310.5" x2="29.5" y2="310.5" stroke="#444" stroke-width="0.7"/><text x="24.2" y="313.2" class="tk" text-anchor="end">0.2</text><line x1="26.9" y1="283" x2="29.5" y2="283" stroke="#444" stroke-width="0.7"/><text x="24.2" y="285.7" class="tk" text-anchor="end">0.4</text><line x1="26.9" y1="255.6" x2="29.5" y2="255.6" stroke="#444" stroke-width="0.7"/><text x="24.2" y="258.3" class="tk" text-anchor="end">0.6</text><line x1="26.9" y1="228.1" x2="29.5" y2="228.1" stroke="#444" stroke-width="0.7"/><text x="24.2" y="230.8" class="tk" text-anchor="end">0.8</text><line x1="26.9" y1="200.7" x2="29.5" y2="200.7" stroke="#444" stroke-width="0.7"/><text x="24.2" y="203.4" class="tk" text-anchor="end">1.0</text><line x1="35.8" y1="344.8" x2="35.8" y2="347.4" stroke="#444" stroke-width="0.7"/><text x="35.8" y="355.1" class="tk" text-anchor="middle">0.0</text><line x1="60.2" y1="344.8" x2="60.2" y2="347.4" stroke="#444" stroke-width="0.7"/><text x="60.2" y="355.1" class="tk" text-anchor="middle">0.2</text><line x1="84.7" y1="344.8" x2="84.7" y2="347.4" stroke="#444" stroke-width="0.7"/><text x="84.7" y="355.1" class="tk" text-anchor="middle">0.4</text><line x1="109.1" y1="344.8" x2="109.1" y2="347.4" stroke="#444" stroke-width="0.7"/><text x="109.1" y="355.1" class="tk" text-anchor="middle">0.6</text><line x1="133.6" y1="344.8" x2="133.6" y2="347.4" stroke="#444" stroke-width="0.7"/><text x="133.6" y="355.1" class="tk" text-anchor="middle">0.8</text><line x1="158" y1="344.8" x2="158" y2="347.4" stroke="#444" stroke-width="0.7"/><text x="158" y="355.1" class="tk" text-anchor="middle">1.0</text><rect x="29.5" y="193.5" width="135.2" height="151.3" fill="none" stroke="#4a4a4a" stroke-width="0.85"/><text x="9.6" y="270.2" class="al" text-anchor="middle" transform="rotate(-90 9.6 270.2)">PCA1</text><text x="99.9" y="366.3" class="al" text-anchor="middle">PCA2</text>
<rect x="75.5" y="196.4" width="41.5" height="49.2" rx="1.5" fill="#fff" fill-opacity="0.8" stroke="#d8d8d8" stroke-width="0.6"/><circle cx="82.7" cy="201" r="1.2" fill="#0c9592"/><text x="92.6" y="202.5" class="lg">Gamma</text><circle cx="82.7" cy="209.1" r="1.2" fill="#43ea8c"/><text x="92.6" y="210.6" class="lg">Alpha</text><circle cx="82.7" cy="217.1" r="1.2" fill="#d4920c"/><text x="92.6" y="218.6" class="lg">Delta</text><circle cx="82.7" cy="225" r="1.2" fill="#1585c6"/><text x="92.6" y="226.5" class="lg">Omicron</text><circle cx="82.7" cy="233.2" r="1.2" fill="#0b900e"/><text x="92.6" y="234.7" class="lg">Epsilon</text><circle cx="82.7" cy="241.1" r="1.2" fill="#cf2527"/><text x="92.6" y="242.6" class="lg">Iota</text>
<ellipse cx="53.5" cy="388" rx="5.2" ry="3.2" fill="#0c9592" transform="rotate(0.0 53.5 388)"/><ellipse cx="121.5" cy="509.5" rx="4.8" ry="2.7" fill="#43ea8c" transform="rotate(0.0 121.5 509.5)"/><g fill="#0c9592"><circle cx="56.1" cy="384.4" r="1.05"/><circle cx="54.4" cy="385" r="1.05"/><circle cx="50.7" cy="387.5" r="1.05"/><circle cx="58" cy="390.5" r="1.05"/><circle cx="59.9" cy="389.3" r="1.05"/><circle cx="55.8" cy="391.4" r="1.05"/><circle cx="48.3" cy="389.1" r="1.05"/><circle cx="53.7" cy="385.7" r="1.05"/><circle cx="56.3" cy="384.7" r="1.05"/><circle cx="48.9" cy="386.4" r="1.05"/><circle cx="48.4" cy="390.8" r="1.05"/><circle cx="50.9" cy="389.4" r="1.05"/><circle cx="47.2" cy="386.5" r="1.05"/><circle cx="58.3" cy="386.5" r="1.05"/><circle cx="48.8" cy="390.3" r="1.05"/><circle cx="47.6" cy="386.6" r="1.05"/><circle cx="56.4" cy="384.9" r="1.05"/><circle cx="59.1" cy="387.4" r="1.05"/><circle cx="59.1" cy="387.5" r="1.05"/><circle cx="54.6" cy="391.3" r="1.05"/><circle cx="54" cy="385.2" r="1.05"/><circle cx="55.6" cy="390.2" r="1.05"/><circle cx="54.1" cy="386.1" r="1.05"/><circle cx="60" cy="388.3" r="1.05"/><circle cx="59.9" cy="387.3" r="1.05"/><circle cx="55.4" cy="384.5" r="1.05"/><circle cx="48.1" cy="386.9" r="1.05"/><circle cx="53.4" cy="385.5" r="1.05"/><circle cx="55.1" cy="391.4" r="1.05"/><circle cx="48" cy="385.4" r="1.05"/><circle cx="49.6" cy="389.4" r="1.05"/><circle cx="54.1" cy="388.4" r="1.05"/><circle cx="57" cy="390.5" r="1.05"/><circle cx="55.8" cy="387.7" r="1.05"/><circle cx="56.6" cy="391" r="1.05"/><circle cx="53" cy="388.9" r="1.05"/><circle cx="55.6" cy="386.9" r="1.05"/><circle cx="47.9" cy="389.5" r="1.05"/><circle cx="54.8" cy="383.9" r="1.05"/><circle cx="51.2" cy="387.1" r="1.05"/><circle cx="58.4" cy="389.7" r="1.05"/><circle cx="50.1" cy="387.5" r="1.05"/><circle cx="55.6" cy="390.2" r="1.05"/><circle cx="52.5" cy="390.5" r="1.05"/><circle cx="49.9" cy="391" r="1.05"/><circle cx="47.2" cy="388.9" r="1.05"/><circle cx="49.7" cy="388" r="1.05"/><circle cx="58.5" cy="386.4" r="1.05"/><circle cx="55.4" cy="386.3" r="1.05"/><circle cx="59" cy="387.4" r="1.05"/><circle cx="51" cy="389.5" r="1.05"/><circle cx="54.5" cy="388.5" r="1.05"/><circle cx="54.8" cy="390.3" r="1.05"/><circle cx="49.2" cy="387.5" r="1.05"/><circle cx="56.1" cy="388.5" r="1.05"/><circle cx="54.9" cy="388.1" r="1.05"/><circle cx="51.9" cy="391.3" r="1.05"/><circle cx="57.3" cy="391.3" r="1.05"/><circle cx="59" cy="387.7" r="1.05"/><circle cx="56.3" cy="388.5" r="1.05"/><circle cx="46.7" cy="387.7" r="1.05"/><circle cx="59.5" cy="387.6" r="1.05"/><circle cx="55.2" cy="387.1" r="1.05"/><circle cx="48.7" cy="387.9" r="1.05"/><circle cx="54.6" cy="391.2" r="1.05"/><circle cx="47.1" cy="386.4" r="1.05"/><circle cx="57" cy="389" r="1.05"/><circle cx="55.1" cy="389.8" r="1.05"/><circle cx="51.7" cy="390.4" r="1.05"/><circle cx="57.4" cy="387.3" r="1.05"/><circle cx="50.7" cy="388.2" r="1.05"/><circle cx="54.1" cy="390" r="1.05"/><circle cx="50" cy="387" r="1.05"/><circle cx="52.6" cy="391.1" r="1.05"/><circle cx="60" cy="388.4" r="1.05"/><circle cx="57.8" cy="388.9" r="1.05"/><circle cx="56.4" cy="387.9" r="1.05"/><circle cx="58.2" cy="388.8" r="1.05"/><circle cx="50.5" cy="386.1" r="1.05"/><circle cx="54.6" cy="391.5" r="1.05"/><circle cx="63" cy="389.3" r="1.05"/><circle cx="61.9" cy="387.7" r="1.05"/><circle cx="62.3" cy="390.7" r="1.05"/><circle cx="62.8" cy="388.4" r="1.05"/><circle cx="70.6" cy="394" r="1.05"/><circle cx="69.7" cy="394.3" r="1.05"/><circle cx="61.1" cy="393" r="1.05"/><circle cx="60.6" cy="390.3" r="1.05"/><circle cx="63.1" cy="391.5" r="1.05"/><circle cx="66.7" cy="386" r="1.05"/><circle cx="60.2" cy="390.9" r="1.05"/><circle cx="64.5" cy="385.9" r="1.05"/><circle cx="68" cy="396" r="1.05"/><circle cx="66.6" cy="385.7" r="1.05"/><circle cx="63.4" cy="394.3" r="1.05"/><circle cx="69.9" cy="388.2" r="1.05"/><circle cx="65.2" cy="393.9" r="1.05"/><circle cx="70.6" cy="389.5" r="1.05"/><circle cx="68.9" cy="391.9" r="1.05"/><circle cx="63.6" cy="390.2" r="1.05"/><circle cx="61.2" cy="392" r="1.05"/><circle cx="68.6" cy="392.4" r="1.05"/><circle cx="66.9" cy="390.2" r="1.05"/><circle cx="70.2" cy="394.2" r="1.05"/><circle cx="64.2" cy="387.6" r="1.05"/><circle cx="67.7" cy="389.1" r="1.05"/><circle cx="71.4" cy="391.2" r="1.05"/><circle cx="63.7" cy="388.6" r="1.05"/><circle cx="64.5" cy="390.2" r="1.05"/><circle cx="64.3" cy="394.8" r="1.05"/><circle cx="67.9" cy="388.4" r="1.05"/><circle cx="67.7" cy="391.6" r="1.05"/><circle cx="64.4" cy="395.1" r="1.05"/><circle cx="64.6" cy="386.6" r="1.05"/><circle cx="69.5" cy="387.8" r="1.05"/><circle cx="63.8" cy="387.3" r="1.05"/><circle cx="63.4" cy="386.9" r="1.05"/><circle cx="68.5" cy="390.7" r="1.05"/><circle cx="64.7" cy="389.5" r="1.05"/><circle cx="67.6" cy="396.1" r="1.05"/><circle cx="62.3" cy="393.3" r="1.05"/><circle cx="67" cy="394.8" r="1.05"/><circle cx="70.5" cy="391.6" r="1.05"/><circle cx="70.8" cy="389.7" r="1.05"/><circle cx="63.7" cy="387.5" r="1.05"/><circle cx="75.6" cy="386.2" r="1.05"/><circle cx="77.5" cy="386.9" r="1.05"/><circle cx="79.4" cy="387.5" r="1.05"/><circle cx="85" cy="387.5" r="1.05"/><circle cx="78" cy="395.5" r="1.05"/><circle cx="79.4" cy="396.8" r="1.05"/><circle cx="76.3" cy="398.6" r="1.05"/><circle cx="78.8" cy="401" r="1.05"/><circle cx="79.4" cy="403" r="1.05"/><circle cx="86.2" cy="397.4" r="1.05"/><circle cx="85" cy="408.5" r="1.05"/><circle cx="39.1" cy="387.5" r="1.05"/><circle cx="42.2" cy="385.6" r="1.05"/><circle cx="42.8" cy="389.3" r="1.05"/><circle cx="47.2" cy="390.6" r="1.05"/><circle cx="48.4" cy="392.4" r="1.05"/><circle cx="47.8" cy="380.7" r="1.05"/><circle cx="48.4" cy="378.8" r="1.05"/><circle cx="55.8" cy="381.3" r="1.05"/><circle cx="58.9" cy="384.4" r="1.05"/><circle cx="72.5" cy="392" r="1.05"/><circle cx="73.5" cy="394.5" r="1.05"/><circle cx="70.5" cy="397" r="1.05"/><circle cx="74" cy="389.5" r="1.05"/><circle cx="96.2" cy="386.4" r="1.05"/><circle cx="100.7" cy="404" r="1.05"/><circle cx="84.5" cy="408.5" r="1.05"/><circle cx="71" cy="418.5" r="1.05"/><circle cx="78.6" cy="403.7" r="1.05"/></g><g fill="#cf2527"><circle cx="92.6" cy="460.8" r="1.05"/><circle cx="92.6" cy="457.6" r="1.05"/><circle cx="86.2" cy="453.5" r="1.05"/><circle cx="95.7" cy="450.2" r="1.05"/><circle cx="103.1" cy="459.8" r="1.05"/><circle cx="89.5" cy="457.9" r="1.05"/><circle cx="87.9" cy="453.3" r="1.05"/><circle cx="98.6" cy="455.8" r="1.05"/><circle cx="95.8" cy="457.7" r="1.05"/><circle cx="95.5" cy="454.1" r="1.05"/><circle cx="102.4" cy="458" r="1.05"/><circle cx="105.1" cy="457.9" r="1.05"/><circle cx="94.2" cy="458.2" r="1.05"/><circle cx="87.6" cy="451.6" r="1.05"/><circle cx="95.7" cy="457.9" r="1.05"/><circle cx="90.2" cy="459.8" r="1.05"/><circle cx="99.2" cy="454.7" r="1.05"/><circle cx="101.2" cy="456.1" r="1.05"/><circle cx="92.6" cy="460.7" r="1.05"/><circle cx="92.7" cy="450.3" r="1.05"/><circle cx="91.7" cy="457.9" r="1.05"/><circle cx="97.7" cy="455.2" r="1.05"/><circle cx="97.1" cy="455.6" r="1.05"/><circle cx="99.3" cy="451.5" r="1.05"/><circle cx="93.7" cy="450.6" r="1.05"/><circle cx="99.2" cy="451.4" r="1.05"/><circle cx="95.4" cy="456.8" r="1.05"/><circle cx="93.5" cy="456.7" r="1.05"/><circle cx="104.6" cy="452.9" r="1.05"/><circle cx="95" cy="459.8" r="1.05"/><circle cx="88.9" cy="456.4" r="1.05"/><circle cx="100.7" cy="454.6" r="1.05"/><circle cx="91.4" cy="452.6" r="1.05"/><circle cx="100.1" cy="454.8" r="1.05"/><circle cx="95.3" cy="454.5" r="1.05"/><circle cx="86.2" cy="453.7" r="1.05"/><circle cx="96.3" cy="454.9" r="1.05"/><circle cx="103.6" cy="455" r="1.05"/><circle cx="87.2" cy="452.3" r="1.05"/><circle cx="93.2" cy="454.3" r="1.05"/><circle cx="88.4" cy="458" r="1.05"/><circle cx="94" cy="456.7" r="1.05"/><circle cx="94.8" cy="456.4" r="1.05"/><circle cx="98.5" cy="456.4" r="1.05"/><circle cx="91.5" cy="455.3" r="1.05"/><circle cx="100.3" cy="460.6" r="1.05"/><circle cx="89.2" cy="451.6" r="1.05"/><circle cx="100.7" cy="459.7" r="1.05"/><circle cx="95.9" cy="459.8" r="1.05"/><circle cx="89.4" cy="457.1" r="1.05"/><circle cx="87.1" cy="452.7" r="1.05"/><circle cx="92.7" cy="453.1" r="1.05"/><circle cx="97.3" cy="453.6" r="1.05"/><circle cx="97.7" cy="450.8" r="1.05"/><circle cx="95.9" cy="461.2" r="1.05"/><circle cx="97.3" cy="455.9" r="1.05"/><circle cx="95.6" cy="459.8" r="1.05"/><circle cx="93.2" cy="453.2" r="1.05"/><circle cx="87" cy="452.2" r="1.05"/><circle cx="105.2" cy="455.4" r="1.05"/><circle cx="94.4" cy="459.4" r="1.05"/><circle cx="100.1" cy="449.5" r="1.05"/><circle cx="101.9" cy="454.4" r="1.05"/><circle cx="93.8" cy="458.3" r="1.05"/><circle cx="98.8" cy="448.9" r="1.05"/><circle cx="90.8" cy="454" r="1.05"/><circle cx="93.5" cy="452.2" r="1.05"/><circle cx="93.4" cy="454.6" r="1.05"/><circle cx="101.2" cy="457.7" r="1.05"/><circle cx="96.2" cy="457.4" r="1.05"/><circle cx="104.8" cy="454.3" r="1.05"/><circle cx="88.2" cy="460" r="1.05"/><circle cx="100.6" cy="457.6" r="1.05"/><circle cx="104.5" cy="450.9" r="1.05"/><circle cx="97.4" cy="453.4" r="1.05"/><circle cx="94.9" cy="455.1" r="1.05"/><circle cx="105.6" cy="458" r="1.05"/><circle cx="98.6" cy="455.5" r="1.05"/><circle cx="103.3" cy="458.9" r="1.05"/><circle cx="93.9" cy="453.8" r="1.05"/><circle cx="87.5" cy="459.1" r="1.05"/><circle cx="96.9" cy="456.5" r="1.05"/><circle cx="95.1" cy="454.3" r="1.05"/><circle cx="92.5" cy="454.6" r="1.05"/><circle cx="104.5" cy="456.6" r="1.05"/><circle cx="96.6" cy="452.4" r="1.05"/><circle cx="102.4" cy="461.3" r="1.05"/><circle cx="96.6" cy="458.1" r="1.05"/><circle cx="93.8" cy="457.4" r="1.05"/><circle cx="96.8" cy="462.1" r="1.05"/><circle cx="104.9" cy="458.5" r="1.05"/><circle cx="95.5" cy="455.4" r="1.05"/><circle cx="101.3" cy="459.7" r="1.05"/><circle cx="92.7" cy="454.5" r="1.05"/><circle cx="93.8" cy="461.9" r="1.05"/><circle cx="95.8" cy="450.3" r="1.05"/><circle cx="100" cy="454.3" r="1.05"/><circle cx="91.8" cy="460.9" r="1.05"/><circle cx="90.7" cy="457" r="1.05"/><circle cx="100.5" cy="449" r="1.05"/><circle cx="103.5" cy="451.7" r="1.05"/><circle cx="88.4" cy="457.3" r="1.05"/><circle cx="97.1" cy="458.1" r="1.05"/><circle cx="98.9" cy="460.6" r="1.05"/><circle cx="105.1" cy="453.7" r="1.05"/><circle cx="90.7" cy="460.6" r="1.05"/><circle cx="84" cy="459.8" r="1.05"/><circle cx="84.5" cy="453" r="1.05"/><circle cx="90.9" cy="455.3" r="1.05"/><circle cx="86.4" cy="457" r="1.05"/><circle cx="80.3" cy="454.6" r="1.05"/><circle cx="104.2" cy="448.6" r="1.05"/><circle cx="83.9" cy="449.8" r="1.05"/><circle cx="97.5" cy="459.3" r="1.05"/><circle cx="95.2" cy="453.4" r="1.05"/><circle cx="88.2" cy="449.3" r="1.05"/><circle cx="99.1" cy="445.8" r="1.05"/><circle cx="77.7" cy="451" r="1.05"/><circle cx="97.6" cy="456.6" r="1.05"/><circle cx="77.3" cy="452" r="1.05"/><circle cx="102.2" cy="456.2" r="1.05"/><circle cx="97" cy="450.7" r="1.05"/><circle cx="88.5" cy="444.5" r="1.05"/><circle cx="85" cy="458.1" r="1.05"/><circle cx="101.4" cy="449.8" r="1.05"/><circle cx="81.2" cy="454.5" r="1.05"/><circle cx="105.2" cy="454.3" r="1.05"/><circle cx="106.1" cy="455.6" r="1.05"/><circle cx="105.3" cy="450.8" r="1.05"/><circle cx="101.3" cy="447.7" r="1.05"/><circle cx="88" cy="459.8" r="1.05"/><circle cx="89.6" cy="449.1" r="1.05"/><circle cx="93.3" cy="447.1" r="1.05"/><circle cx="84.3" cy="452.1" r="1.05"/><circle cx="89.2" cy="461.7" r="1.05"/><circle cx="92.5" cy="450" r="1.05"/><circle cx="93.9" cy="443" r="1.05"/><circle cx="88.4" cy="444.5" r="1.05"/><circle cx="90.9" cy="460.8" r="1.05"/><circle cx="81.6" cy="459.1" r="1.05"/><circle cx="89.6" cy="447.1" r="1.05"/><circle cx="101.8" cy="446.6" r="1.05"/><circle cx="94.1" cy="456.9" r="1.05"/><circle cx="105.1" cy="453.2" r="1.05"/><circle cx="98.8" cy="455.2" r="1.05"/><circle cx="91.3" cy="447" r="1.05"/><circle cx="91.1" cy="455" r="1.05"/><circle cx="102.8" cy="454.9" r="1.05"/><circle cx="101.5" cy="460" r="1.05"/><circle cx="100.3" cy="453.4" r="1.05"/><circle cx="97.7" cy="461.2" r="1.05"/><circle cx="92" cy="449.2" r="1.05"/><circle cx="96.1" cy="453.5" r="1.05"/><circle cx="91.2" cy="443.9" r="1.05"/><circle cx="85" cy="447.3" r="1.05"/><circle cx="77.4" cy="442.9" r="1.05"/><circle cx="98" cy="443.4" r="1.05"/><circle cx="56.1" cy="453.8" r="1.05"/><circle cx="60.9" cy="453.8" r="1.05"/><circle cx="121.7" cy="460.1" r="1.05"/><circle cx="122.6" cy="461" r="1.05"/><circle cx="130" cy="461.7" r="1.05"/><circle cx="147.8" cy="467.8" r="1.05"/><circle cx="111.5" cy="466.5" r="1.05"/><circle cx="115.4" cy="469.8" r="1.05"/><circle cx="100" cy="471" r="1.05"/><circle cx="108" cy="467.5" r="1.05"/><circle cx="113" cy="473" r="1.05"/><circle cx="121" cy="468.5" r="1.05"/><circle cx="118" cy="472.5" r="1.05"/></g><g fill="#0b900e"><circle cx="73" cy="477.4" r="1.05"/><circle cx="89.8" cy="479.6" r="1.05"/><circle cx="83.1" cy="472.1" r="1.05"/><circle cx="81.9" cy="478.5" r="1.05"/><circle cx="93.5" cy="475.8" r="1.05"/><circle cx="81.4" cy="471.6" r="1.05"/><circle cx="70.5" cy="477.9" r="1.05"/><circle cx="78.9" cy="473.5" r="1.05"/><circle cx="80.6" cy="475.6" r="1.05"/><circle cx="72.7" cy="479.7" r="1.05"/><circle cx="73.3" cy="477" r="1.05"/><circle cx="70.4" cy="474.4" r="1.05"/><circle cx="84.4" cy="480.7" r="1.05"/><circle cx="77.2" cy="477.2" r="1.05"/><circle cx="89.9" cy="477.7" r="1.05"/><circle cx="85" cy="480.1" r="1.05"/><circle cx="75.5" cy="477.8" r="1.05"/><circle cx="83.3" cy="475.8" r="1.05"/><circle cx="75.2" cy="475.3" r="1.05"/><circle cx="85.3" cy="479" r="1.05"/><circle cx="84.2" cy="475.1" r="1.05"/><circle cx="79.4" cy="474.4" r="1.05"/><circle cx="73.3" cy="476" r="1.05"/><circle cx="91.2" cy="478.7" r="1.05"/><circle cx="78.5" cy="477.8" r="1.05"/><circle cx="84.7" cy="482" r="1.05"/><circle cx="88.4" cy="475.3" r="1.05"/><circle cx="80.2" cy="481" r="1.05"/><circle cx="92.1" cy="478.2" r="1.05"/><circle cx="83" cy="476.5" r="1.05"/><circle cx="77.9" cy="479.4" r="1.05"/><circle cx="86.7" cy="476.6" r="1.05"/><circle cx="91.9" cy="476" r="1.05"/><circle cx="92.1" cy="478.4" r="1.05"/><circle cx="69.4" cy="477.7" r="1.05"/><circle cx="79.1" cy="478.8" r="1.05"/><circle cx="78.2" cy="473.3" r="1.05"/><circle cx="80.2" cy="480.1" r="1.05"/><circle cx="77.9" cy="474.6" r="1.05"/><circle cx="86.1" cy="472.3" r="1.05"/><circle cx="81.7" cy="472.2" r="1.05"/><circle cx="82.7" cy="481" r="1.05"/><circle cx="83" cy="477.8" r="1.05"/><circle cx="77.8" cy="476.5" r="1.05"/><circle cx="87.5" cy="479.4" r="1.05"/><circle cx="83.1" cy="476.4" r="1.05"/><circle cx="79.3" cy="476.9" r="1.05"/><circle cx="73.3" cy="475.6" r="1.05"/><circle cx="80.2" cy="476.5" r="1.05"/><circle cx="79.1" cy="473.1" r="1.05"/><circle cx="73.1" cy="474.6" r="1.05"/><circle cx="87.3" cy="474.7" r="1.05"/><circle cx="84.7" cy="475.6" r="1.05"/><circle cx="77.9" cy="477" r="1.05"/><circle cx="73.4" cy="480.4" r="1.05"/><circle cx="88.8" cy="476" r="1.05"/><circle cx="80.6" cy="479.1" r="1.05"/><circle cx="87.2" cy="474.6" r="1.05"/><circle cx="85" cy="481.3" r="1.05"/><circle cx="74.6" cy="476.3" r="1.05"/><circle cx="89.9" cy="473.8" r="1.05"/><circle cx="93.7" cy="477" r="1.05"/><circle cx="77.9" cy="477" r="1.05"/><circle cx="87.3" cy="474.8" r="1.05"/><circle cx="77.4" cy="472.1" r="1.05"/><circle cx="85.7" cy="481.9" r="1.05"/><circle cx="79.9" cy="476.2" r="1.05"/><circle cx="80.8" cy="476.4" r="1.05"/><circle cx="90.8" cy="475.9" r="1.05"/><circle cx="73.7" cy="479.9" r="1.05"/><circle cx="84.2" cy="472.2" r="1.05"/><circle cx="81.7" cy="477.6" r="1.05"/><circle cx="88.6" cy="472.3" r="1.05"/><circle cx="77.9" cy="479" r="1.05"/><circle cx="77.3" cy="477.8" r="1.05"/><circle cx="88.9" cy="475.1" r="1.05"/><circle cx="79.3" cy="472.6" r="1.05"/><circle cx="83.2" cy="477" r="1.05"/><circle cx="86.1" cy="479.3" r="1.05"/><circle cx="72.8" cy="472.3" r="1.05"/><circle cx="89.7" cy="473.8" r="1.05"/><circle cx="77.1" cy="478.3" r="1.05"/><circle cx="79.6" cy="473.9" r="1.05"/><circle cx="82.5" cy="471.9" r="1.05"/><circle cx="89.3" cy="479.9" r="1.05"/><circle cx="86.2" cy="477.9" r="1.05"/><circle cx="90.6" cy="475.8" r="1.05"/><circle cx="88.8" cy="472.2" r="1.05"/><circle cx="80.5" cy="481.4" r="1.05"/><circle cx="80.2" cy="477.1" r="1.05"/><circle cx="83.8" cy="477.3" r="1.05"/><circle cx="75.3" cy="473.4" r="1.05"/><circle cx="84.6" cy="474.5" r="1.05"/><circle cx="81.9" cy="474.2" r="1.05"/><circle cx="77.9" cy="480.5" r="1.05"/><circle cx="71.8" cy="480.1" r="1.05"/><circle cx="79.6" cy="478.4" r="1.05"/><circle cx="89.7" cy="472.9" r="1.05"/><circle cx="84.5" cy="478.8" r="1.05"/><circle cx="79.6" cy="476.4" r="1.05"/><circle cx="74.3" cy="480" r="1.05"/><circle cx="81.9" cy="475" r="1.05"/><circle cx="79.9" cy="478.7" r="1.05"/><circle cx="80.3" cy="475.2" r="1.05"/><circle cx="84.3" cy="476.4" r="1.05"/><circle cx="71.9" cy="475.7" r="1.05"/><circle cx="89.9" cy="475.2" r="1.05"/><circle cx="86.4" cy="473.6" r="1.05"/><circle cx="82.7" cy="479.6" r="1.05"/><circle cx="75.2" cy="474.2" r="1.05"/><circle cx="83.1" cy="472.8" r="1.05"/><circle cx="75.7" cy="478.9" r="1.05"/><circle cx="81" cy="476.5" r="1.05"/><circle cx="77.5" cy="480" r="1.05"/><circle cx="79.9" cy="473.4" r="1.05"/><circle cx="81.3" cy="472.9" r="1.05"/><circle cx="78.3" cy="478.1" r="1.05"/><circle cx="85" cy="471.3" r="1.05"/><circle cx="80.9" cy="474.5" r="1.05"/><circle cx="79.4" cy="473" r="1.05"/><circle cx="67.3" cy="473.4" r="1.05"/><circle cx="67.4" cy="470.8" r="1.05"/><circle cx="68.9" cy="471" r="1.05"/><circle cx="70.3" cy="473.7" r="1.05"/><circle cx="65.1" cy="473.1" r="1.05"/><circle cx="68.8" cy="475.2" r="1.05"/><circle cx="64.4" cy="472.5" r="1.05"/><circle cx="68.5" cy="473.7" r="1.05"/><circle cx="65.8" cy="470.8" r="1.05"/><circle cx="66.9" cy="470.9" r="1.05"/><circle cx="66.8" cy="477.1" r="1.05"/><circle cx="67.2" cy="474.5" r="1.05"/><circle cx="65.2" cy="475.5" r="1.05"/><circle cx="68" cy="477.3" r="1.05"/><circle cx="60.9" cy="459.4" r="1.05"/><circle cx="120.5" cy="463.3" r="1.05"/><circle cx="115.2" cy="493.7" r="1.05"/><circle cx="63.5" cy="471" r="1.05"/><circle cx="62.5" cy="476.8" r="1.05"/><circle cx="70" cy="487" r="1.05"/><circle cx="75" cy="468.5" r="1.05"/><circle cx="66" cy="482" r="1.05"/><circle cx="89.7" cy="496.4" r="1.05"/><circle cx="93.5" cy="483.5" r="1.05"/><circle cx="99" cy="486.5" r="1.05"/></g><g fill="#d4920c"><circle cx="107.8" cy="475.9" r="1.05"/><circle cx="106.2" cy="473.2" r="1.05"/><circle cx="106.5" cy="477.7" r="1.05"/><circle cx="106.4" cy="478.9" r="1.05"/><circle cx="111.9" cy="477.9" r="1.05"/><circle cx="112.3" cy="477.2" r="1.05"/><circle cx="115.5" cy="473.8" r="1.05"/><circle cx="113.4" cy="473.2" r="1.05"/><circle cx="110.1" cy="477" r="1.05"/><circle cx="107.9" cy="473.1" r="1.05"/><circle cx="105.3" cy="472.2" r="1.05"/><circle cx="111.5" cy="473.1" r="1.05"/><circle cx="105.8" cy="476.7" r="1.05"/><circle cx="98.6" cy="473.1" r="1.05"/><circle cx="100" cy="473.3" r="1.05"/><circle cx="105.9" cy="474.4" r="1.05"/><circle cx="101.9" cy="472.3" r="1.05"/><circle cx="104.1" cy="473" r="1.05"/><circle cx="107" cy="477.2" r="1.05"/><circle cx="110.1" cy="474.8" r="1.05"/><circle cx="106.1" cy="478.2" r="1.05"/><circle cx="113.8" cy="472" r="1.05"/><circle cx="100" cy="474" r="1.05"/><circle cx="106.4" cy="474.7" r="1.05"/><circle cx="104.6" cy="470.2" r="1.05"/><circle cx="102.7" cy="470.1" r="1.05"/><circle cx="109.1" cy="469.3" r="1.05"/><circle cx="116.6" cy="476.2" r="1.05"/><circle cx="101.9" cy="472.3" r="1.05"/><circle cx="104.6" cy="472.9" r="1.05"/><circle cx="104.7" cy="479.7" r="1.05"/><circle cx="100" cy="471.1" r="1.05"/><circle cx="109.2" cy="478.5" r="1.05"/><circle cx="106.7" cy="474.1" r="1.05"/><circle cx="104.1" cy="472.3" r="1.05"/><circle cx="104.9" cy="475.3" r="1.05"/><circle cx="101.5" cy="472" r="1.05"/><circle cx="114.1" cy="471.2" r="1.05"/><circle cx="116.8" cy="473.8" r="1.05"/><circle cx="106.3" cy="472.2" r="1.05"/><circle cx="105.9" cy="474.2" r="1.05"/><circle cx="103.7" cy="473.4" r="1.05"/><circle cx="99.9" cy="473.4" r="1.05"/><circle cx="115.5" cy="476.5" r="1.05"/><circle cx="113.1" cy="475.4" r="1.05"/><circle cx="107.7" cy="475.1" r="1.05"/><circle cx="103.8" cy="474.8" r="1.05"/><circle cx="114.8" cy="477" r="1.05"/><circle cx="107.8" cy="480.2" r="1.05"/><circle cx="103.9" cy="472.7" r="1.05"/><circle cx="115.4" cy="476.5" r="1.05"/><circle cx="113.7" cy="477.7" r="1.05"/><circle cx="102.1" cy="473.9" r="1.05"/><circle cx="112" cy="476.1" r="1.05"/><circle cx="115.3" cy="475" r="1.05"/><circle cx="106.9" cy="473.1" r="1.05"/><circle cx="104.7" cy="474.4" r="1.05"/><circle cx="106.8" cy="472.7" r="1.05"/><circle cx="109.3" cy="476.7" r="1.05"/><circle cx="115.6" cy="473.6" r="1.05"/><circle cx="100.9" cy="477.4" r="1.05"/><circle cx="105.6" cy="475.9" r="1.05"/><circle cx="108.2" cy="474.1" r="1.05"/><circle cx="110" cy="468.9" r="1.05"/><circle cx="114.9" cy="477.2" r="1.05"/><circle cx="107.7" cy="473.9" r="1.05"/><circle cx="104" cy="475.3" r="1.05"/><circle cx="103.9" cy="476.5" r="1.05"/><circle cx="107.2" cy="474.6" r="1.05"/><circle cx="107" cy="477" r="1.05"/><circle cx="103.1" cy="470.7" r="1.05"/><circle cx="107.5" cy="470.1" r="1.05"/><circle cx="112.5" cy="472" r="1.05"/><circle cx="107.1" cy="475.1" r="1.05"/><circle cx="106.6" cy="470.5" r="1.05"/><circle cx="110.6" cy="477.7" r="1.05"/><circle cx="113.8" cy="473.1" r="1.05"/><circle cx="104.5" cy="479.3" r="1.05"/><circle cx="107.1" cy="474.7" r="1.05"/><circle cx="115.6" cy="477.3" r="1.05"/><circle cx="114.2" cy="477.3" r="1.05"/><circle cx="112.6" cy="475.1" r="1.05"/><circle cx="106.6" cy="477.3" r="1.05"/><circle cx="111.7" cy="476.2" r="1.05"/><circle cx="107.9" cy="470.7" r="1.05"/><circle cx="113" cy="478.3" r="1.05"/><circle cx="111.3" cy="472" r="1.05"/><circle cx="107.1" cy="474.8" r="1.05"/><circle cx="111.8" cy="475.8" r="1.05"/><circle cx="114.5" cy="478.3" r="1.05"/><circle cx="104.9" cy="472.4" r="1.05"/><circle cx="105.2" cy="473.6" r="1.05"/><circle cx="112.6" cy="472.7" r="1.05"/><circle cx="106.6" cy="472.8" r="1.05"/><circle cx="100.1" cy="475.3" r="1.05"/><circle cx="106.4" cy="475.1" r="1.05"/><circle cx="99.4" cy="475.5" r="1.05"/><circle cx="98.4" cy="475.9" r="1.05"/><circle cx="99.4" cy="472.5" r="1.05"/><circle cx="114.2" cy="475.4" r="1.05"/><circle cx="102.9" cy="474.3" r="1.05"/><circle cx="109" cy="473.8" r="1.05"/><circle cx="103.4" cy="474.7" r="1.05"/><circle cx="115.2" cy="473.2" r="1.05"/><circle cx="108.2" cy="475.9" r="1.05"/><circle cx="110.3" cy="474.8" r="1.05"/><circle cx="115.3" cy="472.1" r="1.05"/><circle cx="109" cy="471.5" r="1.05"/><circle cx="101.1" cy="475" r="1.05"/><circle cx="107.6" cy="474.4" r="1.05"/><circle cx="110.8" cy="480.9" r="1.05"/><circle cx="115.2" cy="481.4" r="1.05"/><circle cx="120.2" cy="477.3" r="1.05"/><circle cx="107.5" cy="478.6" r="1.05"/><circle cx="95.3" cy="478.1" r="1.05"/><circle cx="116.3" cy="474.2" r="1.05"/><circle cx="117.4" cy="470.2" r="1.05"/><circle cx="115" cy="474.5" r="1.05"/><circle cx="103.8" cy="475.2" r="1.05"/><circle cx="99.4" cy="478.4" r="1.05"/><circle cx="115.7" cy="480.5" r="1.05"/><circle cx="105" cy="478" r="1.05"/><circle cx="107.8" cy="475.9" r="1.05"/><circle cx="106.4" cy="468.8" r="1.05"/><circle cx="96.5" cy="474.2" r="1.05"/><circle cx="115" cy="473.8" r="1.05"/><circle cx="93.7" cy="476.1" r="1.05"/><circle cx="118.5" cy="471.6" r="1.05"/><circle cx="110.7" cy="472.5" r="1.05"/><circle cx="118.8" cy="472.4" r="1.05"/><circle cx="99.5" cy="481.7" r="1.05"/><circle cx="118.4" cy="472.9" r="1.05"/><circle cx="105" cy="467.2" r="1.05"/><circle cx="115.6" cy="469.8" r="1.05"/><circle cx="112.1" cy="476.8" r="1.05"/><circle cx="113.4" cy="479" r="1.05"/><circle cx="116.2" cy="477.5" r="1.05"/><circle cx="119.2" cy="471.1" r="1.05"/><circle cx="118.1" cy="476.6" r="1.05"/><circle cx="114.7" cy="481.2" r="1.05"/><circle cx="110.7" cy="475.5" r="1.05"/><circle cx="105.5" cy="475.6" r="1.05"/><circle cx="102.4" cy="471.7" r="1.05"/><circle cx="103.3" cy="466.9" r="1.05"/><circle cx="95.9" cy="476.1" r="1.05"/><circle cx="114.4" cy="474.9" r="1.05"/><circle cx="115.5" cy="470.3" r="1.05"/><circle cx="114.2" cy="475.3" r="1.05"/><circle cx="105.4" cy="473.2" r="1.05"/><circle cx="115" cy="468.7" r="1.05"/><circle cx="106.8" cy="467.4" r="1.05"/><circle cx="95" cy="470.6" r="1.05"/><circle cx="96.6" cy="476.1" r="1.05"/><circle cx="103" cy="469.5" r="1.05"/><circle cx="103.1" cy="479.1" r="1.05"/><circle cx="125.7" cy="490.5" r="1.05"/><circle cx="136.9" cy="491.3" r="1.05"/><circle cx="122.5" cy="487.3" r="1.05"/><circle cx="127" cy="485.5" r="1.05"/><circle cx="120" cy="489.5" r="1.05"/><circle cx="128.5" cy="482.5" r="1.05"/><circle cx="118.5" cy="483" r="1.05"/><circle cx="124" cy="481" r="1.05"/><circle cx="91" cy="468.5" r="1.05"/><circle cx="69.8" cy="467.2" r="1.05"/><circle cx="76.2" cy="469" r="1.05"/><circle cx="74.5" cy="474" r="1.05"/></g><g fill="#43ea8c"><circle cx="116.9" cy="510.6" r="1.05"/><circle cx="121.7" cy="505.5" r="1.05"/><circle cx="123.7" cy="505.6" r="1.05"/><circle cx="118.3" cy="511.6" r="1.05"/><circle cx="123.3" cy="507.9" r="1.05"/><circle cx="119.8" cy="506.4" r="1.05"/><circle cx="118.2" cy="506.2" r="1.05"/><circle cx="119.6" cy="507.6" r="1.05"/><circle cx="129.2" cy="510.1" r="1.05"/><circle cx="126" cy="507.6" r="1.05"/><circle cx="120.2" cy="508.3" r="1.05"/><circle cx="115.6" cy="510.4" r="1.05"/><circle cx="120.3" cy="507.5" r="1.05"/><circle cx="128.1" cy="511.9" r="1.05"/><circle cx="123.5" cy="508" r="1.05"/><circle cx="124.7" cy="505.9" r="1.05"/><circle cx="124.5" cy="513.2" r="1.05"/><circle cx="118.1" cy="511.3" r="1.05"/><circle cx="124.8" cy="512.4" r="1.05"/><circle cx="117.2" cy="507.4" r="1.05"/><circle cx="127.3" cy="511.9" r="1.05"/><circle cx="119.8" cy="511.6" r="1.05"/><circle cx="119.3" cy="508" r="1.05"/><circle cx="126.9" cy="507.6" r="1.05"/><circle cx="122.6" cy="507" r="1.05"/><circle cx="117.9" cy="510.5" r="1.05"/><circle cx="121.5" cy="512.4" r="1.05"/><circle cx="122.8" cy="506.4" r="1.05"/><circle cx="122.8" cy="508.2" r="1.05"/><circle cx="121.1" cy="510.3" r="1.05"/><circle cx="123.2" cy="508.9" r="1.05"/><circle cx="115.2" cy="508.5" r="1.05"/><circle cx="123.8" cy="513.8" r="1.05"/><circle cx="125.4" cy="509.2" r="1.05"/><circle cx="125.6" cy="512.3" r="1.05"/><circle cx="115.3" cy="509.2" r="1.05"/><circle cx="115.7" cy="506.5" r="1.05"/><circle cx="122" cy="507" r="1.05"/><circle cx="121.4" cy="506.5" r="1.05"/><circle cx="127" cy="509" r="1.05"/><circle cx="129.1" cy="509.8" r="1.05"/><circle cx="120.3" cy="513.5" r="1.05"/><circle cx="116.2" cy="507" r="1.05"/><circle cx="121" cy="505.2" r="1.05"/><circle cx="124.7" cy="506.4" r="1.05"/><circle cx="118.9" cy="512.3" r="1.05"/><circle cx="120.7" cy="512.1" r="1.05"/><circle cx="116.5" cy="510.2" r="1.05"/><circle cx="120.4" cy="511.9" r="1.05"/><circle cx="120.2" cy="511.3" r="1.05"/><circle cx="119.4" cy="508.8" r="1.05"/><circle cx="121.5" cy="511.4" r="1.05"/><circle cx="120.4" cy="507.2" r="1.05"/><circle cx="127.4" cy="511.9" r="1.05"/><circle cx="114.9" cy="511" r="1.05"/><circle cx="119.5" cy="511.9" r="1.05"/><circle cx="119.5" cy="509.1" r="1.05"/><circle cx="124.4" cy="509.3" r="1.05"/><circle cx="127.1" cy="507.6" r="1.05"/><circle cx="121.8" cy="507.4" r="1.05"/><circle cx="126.1" cy="507.4" r="1.05"/><circle cx="118.5" cy="510.5" r="1.05"/><circle cx="125" cy="513.2" r="1.05"/><circle cx="126.6" cy="508.9" r="1.05"/><circle cx="120.4" cy="505.8" r="1.05"/><circle cx="116" cy="509.6" r="1.05"/><circle cx="117.1" cy="508.6" r="1.05"/><circle cx="121.4" cy="506.6" r="1.05"/><circle cx="118.1" cy="509.4" r="1.05"/><circle cx="123.7" cy="509.3" r="1.05"/><circle cx="120.2" cy="505.9" r="1.05"/><circle cx="117.1" cy="513.2" r="1.05"/><circle cx="125.6" cy="510" r="1.05"/><circle cx="118.1" cy="512.6" r="1.05"/><circle cx="115.8" cy="507.5" r="1.05"/><circle cx="122.2" cy="509" r="1.05"/><circle cx="116.8" cy="508.4" r="1.05"/><circle cx="119.3" cy="506.5" r="1.05"/><circle cx="121.1" cy="509.8" r="1.05"/><circle cx="119.5" cy="512.3" r="1.05"/><circle cx="118.9" cy="511.9" r="1.05"/><circle cx="118.8" cy="507.4" r="1.05"/><circle cx="124.3" cy="507.3" r="1.05"/><circle cx="116.7" cy="510.7" r="1.05"/><circle cx="126.6" cy="507.5" r="1.05"/><circle cx="122" cy="509.4" r="1.05"/><circle cx="124.9" cy="509" r="1.05"/><circle cx="122.8" cy="508.9" r="1.05"/><circle cx="125.4" cy="506.7" r="1.05"/><circle cx="119.5" cy="506.9" r="1.05"/><circle cx="115.4" cy="509.2" r="1.05"/><circle cx="125" cy="511.5" r="1.05"/><circle cx="117.9" cy="508.4" r="1.05"/><circle cx="121.4" cy="509.8" r="1.05"/><circle cx="121.8" cy="511.6" r="1.05"/><circle cx="126.7" cy="504.9" r="1.05"/><circle cx="118.8" cy="505.4" r="1.05"/><circle cx="115.1" cy="501.8" r="1.05"/><circle cx="129.1" cy="507.3" r="1.05"/><circle cx="109.8" cy="503.5" r="1.05"/><circle cx="126.4" cy="511.7" r="1.05"/><circle cx="117" cy="502.1" r="1.05"/><circle cx="116.9" cy="509" r="1.05"/><circle cx="125.2" cy="511.7" r="1.05"/><circle cx="114.6" cy="513.4" r="1.05"/><circle cx="126.8" cy="511.6" r="1.05"/><circle cx="112.6" cy="508" r="1.05"/><circle cx="118.8" cy="511.4" r="1.05"/><circle cx="115.1" cy="509.8" r="1.05"/><circle cx="121.3" cy="513.8" r="1.05"/><circle cx="110.7" cy="509.9" r="1.05"/><circle cx="117" cy="503.9" r="1.05"/><circle cx="125" cy="506.1" r="1.05"/><circle cx="119.9" cy="508.8" r="1.05"/><circle cx="118.8" cy="509.1" r="1.05"/><circle cx="112.7" cy="504" r="1.05"/><circle cx="130.6" cy="508.4" r="1.05"/><circle cx="117.8" cy="502.7" r="1.05"/><circle cx="127.2" cy="505.9" r="1.05"/><circle cx="123.7" cy="512.6" r="1.05"/><circle cx="121.8" cy="507.1" r="1.05"/><circle cx="113.3" cy="507.4" r="1.05"/><circle cx="122.1" cy="506.4" r="1.05"/><circle cx="120.9" cy="504.7" r="1.05"/><circle cx="112.7" cy="503.3" r="1.05"/><circle cx="119.2" cy="506" r="1.05"/><circle cx="114.8" cy="507.7" r="1.05"/><circle cx="122.4" cy="509.4" r="1.05"/><circle cx="125.9" cy="512.5" r="1.05"/><circle cx="113.4" cy="506.3" r="1.05"/><circle cx="116.2" cy="507.6" r="1.05"/><circle cx="121" cy="512.5" r="1.05"/><circle cx="115.8" cy="502.7" r="1.05"/><circle cx="130.8" cy="506.9" r="1.05"/><circle cx="123.1" cy="503.7" r="1.05"/><circle cx="119.3" cy="504.3" r="1.05"/><circle cx="122.9" cy="505.1" r="1.05"/><circle cx="120.4" cy="507.5" r="1.05"/><circle cx="121.4" cy="503.1" r="1.05"/><circle cx="122.5" cy="503.2" r="1.05"/><circle cx="124.1" cy="502.8" r="1.05"/><circle cx="111.5" cy="502.6" r="1.05"/><circle cx="127.5" cy="511.7" r="1.05"/><circle cx="109" cy="506.8" r="1.05"/><circle cx="115.3" cy="504" r="1.05"/><circle cx="107.3" cy="506.4" r="1.05"/><circle cx="107.5" cy="508" r="1.05"/><circle cx="128.1" cy="507.8" r="1.05"/><circle cx="116.2" cy="503.7" r="1.05"/><circle cx="128.3" cy="510.3" r="1.05"/><circle cx="119.1" cy="503.5" r="1.05"/><circle cx="128" cy="510.9" r="1.05"/><circle cx="120.8" cy="501.6" r="1.05"/><circle cx="121.6" cy="504.5" r="1.05"/><circle cx="113.2" cy="504.4" r="1.05"/><circle cx="113.1" cy="510.1" r="1.05"/><circle cx="113.4" cy="501.7" r="1.05"/><circle cx="111.8" cy="508.2" r="1.05"/><circle cx="112.4" cy="503.8" r="1.05"/><circle cx="110.9" cy="510.4" r="1.05"/><circle cx="130.6" cy="499.4" r="1.05"/><circle cx="131.1" cy="502.5" r="1.05"/><circle cx="139" cy="502.5" r="1.05"/><circle cx="142.2" cy="510" r="1.05"/><circle cx="103.2" cy="505.2" r="1.05"/><circle cx="119" cy="517.3" r="1.05"/><circle cx="151.4" cy="509.4" r="1.05"/><circle cx="157.5" cy="510" r="1.05"/><circle cx="158.5" cy="511.5" r="1.05"/><circle cx="79" cy="505.4" r="1.05"/><circle cx="86.2" cy="511.8" r="1.05"/><circle cx="89.7" cy="510.8" r="1.05"/><circle cx="95.5" cy="502.2" r="1.05"/><circle cx="135.5" cy="508.5" r="1.05"/><circle cx="137" cy="511.5" r="1.05"/></g>
<ellipse cx="62" cy="390.1" rx="23.7" ry="14.2" fill="none" stroke="#222" stroke-width="0.75" transform="rotate(17 62 390.1)"/>
<ellipse cx="93" cy="453.2" rx="19.7" ry="12.8" fill="none" stroke="#222" stroke-width="0.75" transform="rotate(0 93 453.2)"/>
<ellipse cx="81.3" cy="475.2" rx="18.8" ry="11.2" fill="none" stroke="#222" stroke-width="0.75" transform="rotate(4 81.3 475.2)"/>
<ellipse cx="107.6" cy="474.8" rx="19.2" ry="11.6" fill="none" stroke="#222" stroke-width="0.75" transform="rotate(0 107.6 474.8)"/>
<ellipse cx="122.5" cy="506.8" rx="19.6" ry="11.8" fill="none" stroke="#222" stroke-width="0.75" transform="rotate(0 122.5 506.8)"/>
<path d="M36,390.5V450.8H73.7" fill="none" stroke="#555" stroke-width="0.85"/>
<path d="M52,453.8H45.7V475.7H61" fill="none" stroke="#444" stroke-width="0.85"/>
<path d="M82,489.2V491.5H109.1V489.2" fill="none" stroke="#444" stroke-width="0.85"/>
<path d="M115.7,454.2H137.4V474.3H132.8" fill="none" stroke="#444" stroke-width="0.85"/>
<path d="M132.8,476.2H146.7V506.7" fill="none" stroke="#444" stroke-width="0.85"/>
<text x="38.3" y="428.2" class="pv"><tspan font-style="italic">p</tspan> &lt; 0.0001</text>
<text x="115.6" y="450.6" class="pv"><tspan font-style="italic">p</tspan> &lt; 0.0001</text>
<text x="71.3" y="499.2" class="pv"><tspan font-style="italic">p</tspan> &lt; 0.0001</text>
<text class="pv" transform="translate(41.3 489.6) rotate(-90)"><tspan font-style="italic">p</tspan> &lt; 0.0001</text>
<text class="pv" transform="translate(157.3 504.4) rotate(-90)"><tspan font-style="italic">p</tspan> &lt; 0.0001</text>
<line x1="26.9" y1="517.9" x2="29.5" y2="517.9" stroke="#444" stroke-width="0.7"/><text x="24.2" y="520.6" class="tk" text-anchor="end">0.0</text><line x1="26.9" y1="490.2" x2="29.5" y2="490.2" stroke="#444" stroke-width="0.7"/><text x="24.2" y="492.9" class="tk" text-anchor="end">0.2</text><line x1="26.9" y1="462.5" x2="29.5" y2="462.5" stroke="#444" stroke-width="0.7"/><text x="24.2" y="465.2" class="tk" text-anchor="end">0.4</text><line x1="26.9" y1="434.8" x2="29.5" y2="434.8" stroke="#444" stroke-width="0.7"/><text x="24.2" y="437.5" class="tk" text-anchor="end">0.6</text><line x1="26.9" y1="407.1" x2="29.5" y2="407.1" stroke="#444" stroke-width="0.7"/><text x="24.2" y="409.8" class="tk" text-anchor="end">0.8</text><line x1="26.9" y1="379.4" x2="29.5" y2="379.4" stroke="#444" stroke-width="0.7"/><text x="24.2" y="382.1" class="tk" text-anchor="end">1.0</text><line x1="39.1" y1="525" x2="39.1" y2="527.6" stroke="#444" stroke-width="0.7"/><text x="39.1" y="535.5" class="tk" text-anchor="middle">0.00</text><line x1="72.1" y1="525" x2="72.1" y2="527.6" stroke="#444" stroke-width="0.7"/><text x="72.1" y="535.5" class="tk" text-anchor="middle">0.05</text><line x1="105.2" y1="525" x2="105.2" y2="527.6" stroke="#444" stroke-width="0.7"/><text x="105.2" y="535.5" class="tk" text-anchor="middle">0.10</text><line x1="138.3" y1="525" x2="138.3" y2="527.6" stroke="#444" stroke-width="0.7"/><text x="138.3" y="535.5" class="tk" text-anchor="middle">0.15</text><rect x="29.5" y="371.9" width="135.2" height="153.1" fill="none" stroke="#4a4a4a" stroke-width="0.85"/><text x="9.6" y="449.3" class="al" text-anchor="middle" transform="rotate(-90 9.6 449.3)">PCA1</text><text x="100.5" y="545.6" class="al" text-anchor="middle">PCA2</text>
<rect x="120.4" y="374.5" width="40.9" height="42.9" rx="1.5" fill="#fff" fill-opacity="0.8" stroke="#d8d8d8" stroke-width="0.6"/><circle cx="128.2" cy="379.2" r="1.2" fill="#0c9592"/><text x="138.2" y="380.7" class="lg">Gamma</text><circle cx="128.2" cy="387.4" r="1.2" fill="#43ea8c"/><text x="138.2" y="388.9" class="lg">Alpha</text><circle cx="128.2" cy="395.6" r="1.2" fill="#d4920c"/><text x="138.2" y="397.1" class="lg">Delta</text><circle cx="128.2" cy="403.8" r="1.2" fill="#0b900e"/><text x="138.2" y="405.3" class="lg">Epsilon</text><circle cx="128.2" cy="412" r="1.2" fill="#cf2527"/><text x="138.2" y="413.5" class="lg">Iota</text>
<text x="4" y="10.9" class="pl">A</text>
<text x="4.3" y="193.8" class="pl">B</text>
<text x="3.9" y="372.4" class="pl">C</text>
<text x="181.3" y="10.6" class="pl" style="font-size:9.4px">D</text>
<rect x="222.7" y="12.2" width="112.1" height="494.6" fill="#08bbc9"/>
<rect x="224.7" y="12.2" width="2" height="494.6" fill="#08bbc9"/>
<rect x="229.7" y="12.2" width="1" height="494.6" fill="#07b9ca"/>
<rect x="231.7" y="12.2" width="2" height="494.6" fill="#08bac9"/>
<rect x="234.7" y="12.2" width="2" height="494.6" fill="#08bbc9"/>
<rect x="236.7" y="12.2" width="2" height="494.6" fill="#07b9ca"/>
<rect x="242.7" y="12.2" width="1" height="494.6" fill="#07bac9"/>
<rect x="245.7" y="12.2" width="1" height="494.6" fill="#06b9ca"/>
<rect x="246.7" y="12.2" width="1" height="494.6" fill="#08bbc9"/>
<rect x="249.7" y="12.2" width="1" height="494.6" fill="#08bbc9"/>
<rect x="250.7" y="12.2" width="2" height="494.6" fill="#0abec8"/>
<rect x="251.7" y="12.2" width="2" height="494.6" fill="#09bdc8"/>
<rect x="253.7" y="12.2" width="2" height="494.6" fill="#0abec8"/>
<rect x="255.7" y="12.2" width="1" height="494.6" fill="#08bcc9"/>
<rect x="258.7" y="12.2" width="2" height="494.6" fill="#08bbc9"/>
<rect x="264.7" y="12.2" width="1" height="494.6" fill="#09bcc8"/>
<rect x="267.7" y="12.2" width="1" height="494.6" fill="#07bac9"/>
<rect x="274.7" y="12.2" width="2" height="494.6" fill="#08bbc9"/>
<rect x="290.8" y="12.2" width="1" height="494.6" fill="#0abec8"/>
<rect x="292.8" y="12.2" width="2" height="494.6" fill="#08bbc9"/>
<rect x="297.8" y="12.2" width="1" height="494.6" fill="#05b7ca"/>
<rect x="299.8" y="12.2" width="2" height="494.6" fill="#07bac9"/>
<rect x="302.8" y="12.2" width="2" height="494.6" fill="#07bac9"/>
<rect x="305.8" y="12.2" width="2" height="494.6" fill="#07bac9"/>
<rect x="306.8" y="12.2" width="1" height="494.6" fill="#0abdc8"/>
<rect x="307.8" y="12.2" width="1" height="494.6" fill="#0cc0c7"/>
<rect x="309.8" y="12.2" width="1" height="494.6" fill="#07bac9"/>
<rect x="311.8" y="12.2" width="2" height="494.6" fill="#08bbc9"/>
<rect x="314.8" y="12.2" width="1" height="494.6" fill="#09bcc8"/>
<rect x="316.8" y="12.2" width="2" height="494.6" fill="#0abec8"/>
<rect x="317.8" y="12.2" width="1" height="494.6" fill="#08bbc9"/>
<rect x="318.8" y="12.2" width="2" height="494.6" fill="#0abec8"/>
<rect x="321.8" y="12.2" width="2" height="494.6" fill="#07bac9"/>
<rect x="331.8" y="12.2" width="2" height="494.6" fill="#09bcc9"/>
<rect x="257.8" y="121" width="4.2" height="35.8" fill="#22c1c1"/>
<rect x="247.4" y="156.8" width="11.1" height="68.9" fill="#19bfc4"/>
<rect x="250.2" y="156.8" width="4.8" height="68.9" fill="#2ec9bb"/>
<rect x="293.8" y="121" width="8.8" height="35.8" fill="#0fabcb"/>
<rect x="295.5" y="156.8" width="10" height="68.9" fill="#0fabcb"/>
<rect x="283" y="121" width="2" height="104.7" fill="#10b0cb"/>
<rect x="229" y="121" width="2" height="104.7" fill="#0fb3c9"/>
<rect x="264" y="156.8" width="2" height="68.9" fill="#0bb4ca"/>
<rect x="239.5" y="121" width="2.5" height="35.8" fill="#14bcc6"/>
<rect x="276.5" y="236" width="4.1" height="38.6" fill="#1796cc"/>
<rect x="307.6" y="236" width="2.2" height="38.6" fill="#2bc4c0"/>
<rect x="262" y="236" width="2" height="38.6" fill="#10b2ca"/>
<rect x="230.8" y="305" width="0.8" height="29" fill="#129fca"/>
<rect x="226.6" y="487.5" width="1" height="19.3" fill="#3cc8bc"/>
<rect x="268.6" y="487.5" width="1" height="19.3" fill="#1f86c0"/>
<rect x="280.6" y="487.5" width="11" height="19.3" fill="#0cb2c8"/>
<rect x="222.7" y="322" width="24.3" height="71" fill="#13bbc9"/>
<rect x="247" y="322" width="87.8" height="71" fill="#07b3c8" fill-opacity="0.6"/>
<rect x="300" y="393" width="20" height="94" fill="#0cb6ca" fill-opacity="0.7"/>
<rect x="233.5" y="393" width="1.5" height="94" fill="#12b1cc"/>
<rect x="283.3" y="393" width="1.5" height="94" fill="#22c2c0"/>
<rect x="311" y="393" width="23.8" height="94" fill="#06b2c9" fill-opacity="0.8"/>
<rect x="224" y="13.6" width="1.2" height="1.4" fill="#1d2f8a"/>
<rect x="232.3" y="16.4" width="1.2" height="1.4" fill="#203c95"/>
<rect x="243.9" y="20.3" width="1.2" height="1.4" fill="#1e55a3"/>
<rect x="239.4" y="23.9" width="1.2" height="1.4" fill="#1d2f8a"/>
<rect x="233.6" y="27.3" width="1.2" height="1.4" fill="#203c95"/>
<rect x="225.9" y="30.6" width="1.2" height="1.4" fill="#1e55a3"/>
<rect x="234.2" y="31.8" width="1.2" height="1.4" fill="#1d2f8a"/>
<rect x="263.8" y="35" width="1.2" height="1.4" fill="#203c95"/>
<rect x="223.3" y="38.3" width="1.2" height="1.4" fill="#1e55a3"/>
<rect x="243.2" y="40.2" width="1.2" height="1.4" fill="#1d2f8a"/>
<rect x="264.4" y="42.1" width="1.2" height="1.4" fill="#203c95"/>
<rect x="235.5" y="46.6" width="1.2" height="1.4" fill="#1e55a3"/>
<rect x="236.8" y="53" width="1.2" height="1.4" fill="#1d2f8a"/>
<rect x="229.1" y="58.2" width="1.2" height="1.4" fill="#203c95"/>
<rect x="237.4" y="63.3" width="1.2" height="1.4" fill="#1e55a3"/>
<rect x="270.2" y="12.3" width="1.2" height="1.4" fill="#1d2f8a"/>
<rect x="261.8" y="22.2" width="1.2" height="1.4" fill="#203c95"/>
<rect x="227.2" y="61.3" width="1.2" height="1.4" fill="#1e55a3"/>
<rect x="289.8" y="25.4" width="1.2" height="1.4" fill="#1d2f8a"/>
<rect x="323.8" y="19.1" width="1.2" height="1.4" fill="#203c95"/>
<rect x="310.1" y="45.3" width="1.2" height="1.4" fill="#1e55a3"/>
<rect x="290.5" y="50.5" width="1.2" height="1.4" fill="#1d2f8a"/>
<rect x="289.8" y="51.8" width="1.2" height="1.4" fill="#203c95"/>
<rect x="312" y="55.1" width="1.2" height="1.4" fill="#1e55a3"/>
<rect x="288.5" y="57.1" width="1.2" height="1.4" fill="#1d2f8a"/>
<rect x="322.5" y="64.9" width="1.2" height="1.4" fill="#203c95"/>
<rect x="240.7" y="78.1" width="1.2" height="1.4" fill="#1e55a3"/>
<rect x="241.9" y="76.9" width="1.2" height="1.4" fill="#1d2f8a"/>
<rect x="228.5" y="80.1" width="1.2" height="1.4" fill="#203c95"/>
<rect x="227.2" y="81.3" width="1.2" height="1.4" fill="#1e55a3"/>
<rect x="265" y="74.3" width="1.2" height="1.4" fill="#1d2f8a"/>
<rect x="240" y="92.9" width="1.2" height="1.4" fill="#203c95"/>
<rect x="265.7" y="87.8" width="1.2" height="1.4" fill="#1e55a3"/>
<rect x="236.8" y="99.3" width="1.2" height="1.4" fill="#1d2f8a"/>
<rect x="233.6" y="101.2" width="1.2" height="1.4" fill="#203c95"/>
<rect x="224" y="102.5" width="1.2" height="1.4" fill="#1e55a3"/>
<rect x="234.2" y="106.4" width="1.2" height="1.4" fill="#1d2f8a"/>
<rect x="274" y="104.5" width="1.2" height="1.4" fill="#203c95"/>
<rect x="268.3" y="117.9" width="1.2" height="1.4" fill="#1e55a3"/>
<rect x="286.6" y="66.6" width="1.2" height="1.4" fill="#1d2f8a"/>
<rect x="314" y="83.6" width="1.2" height="1.4" fill="#203c95"/>
<rect x="324.5" y="90.1" width="1.2" height="1.4" fill="#1e55a3"/>
<rect x="321.8" y="109.7" width="1.2" height="1.4" fill="#1d2f8a"/>
<rect x="322.5" y="111.7" width="1.2" height="1.4" fill="#203c95"/>
<rect x="324.5" y="116.3" width="1.2" height="1.4" fill="#1e55a3"/>
<rect x="272.7" y="19" width="1.2" height="1.4" fill="#b9e3b6"/>
<rect x="242.6" y="25.4" width="1.2" height="1.4" fill="#b9e3b6"/>
<rect x="245.1" y="28.6" width="1.2" height="1.4" fill="#f4fbe0"/>
<rect x="238.7" y="35" width="1.2" height="1.4" fill="#b9e3b6"/>
<rect x="244.5" y="37" width="1.2" height="1.4" fill="#b9e3b6"/>
<rect x="263.1" y="33.8" width="1.2" height="1.4" fill="#f4fbe0"/>
<rect x="267" y="38.3" width="1.2" height="1.4" fill="#b9e3b6"/>
<rect x="224.6" y="46.6" width="1.2" height="1.4" fill="#b9e3b6"/>
<rect x="222.2" y="48.5" width="1.2" height="1.4" fill="#f4fbe0"/>
<rect x="240.7" y="60.1" width="1.2" height="1.4" fill="#b9e3b6"/>
<rect x="228.5" y="56.9" width="1.2" height="1.4" fill="#b9e3b6"/>
<rect x="287.9" y="15.5" width="1.2" height="1.4" fill="#e2f4a6"/>
<rect x="287.9" y="16.9" width="1.2" height="1.4" fill="#e2f4a6"/>
<rect x="312.7" y="13.9" width="1.2" height="1.4" fill="#b9e3b6"/>
<rect x="315.3" y="13.9" width="1.2" height="1.4" fill="#b9e3b6"/>
<rect x="312" y="21.8" width="1.2" height="1.4" fill="#b9e3b6"/>
<rect x="313.4" y="20.5" width="1.2" height="1.4" fill="#b9e3b6"/>
<rect x="319.9" y="23.7" width="1.2" height="1.4" fill="#b9e3b6"/>
<rect x="304.9" y="27" width="1.2" height="1.4" fill="#b9e3b6"/>
<rect x="317.9" y="30.3" width="1.2" height="1.4" fill="#b9e3b6"/>
<rect x="320.5" y="32.2" width="1.2" height="1.4" fill="#b9e3b6"/>
<rect x="314.7" y="40.1" width="1.2" height="1.4" fill="#b9e3b6"/>
<rect x="306.2" y="43.9" width="1.2" height="1.4" fill="#e2f4a6"/>
<rect x="306.2" y="45.3" width="1.2" height="1.4" fill="#e2f4a6"/>
<rect x="333.4" y="42" width="1.2" height="1.4" fill="#b9e3b6"/>
<rect x="320.5" y="53.8" width="1.2" height="1.4" fill="#b9e3b6"/>
<rect x="319.2" y="55.1" width="1.2" height="1.4" fill="#b9e3b6"/>
<rect x="316.6" y="60.3" width="1.2" height="1.4" fill="#b9e3b6"/>
<rect x="321.8" y="61.6" width="1.2" height="1.4" fill="#b9e3b6"/>
<rect x="226.5" y="67.9" width="1.2" height="1.4" fill="#b9e3b6"/>
<rect x="226.5" y="74.3" width="1.2" height="1.4" fill="#b9e3b6"/>
<rect x="235.5" y="82.6" width="1.2" height="1.4" fill="#b9e3b6"/>
<rect x="267" y="86.5" width="1.2" height="1.4" fill="#b9e3b6"/>
<rect x="271.5" y="76.2" width="1.2" height="1.4" fill="#b9e3b6"/>
<rect x="274" y="91" width="1.2" height="1.4" fill="#b9e3b6"/>
<rect x="267.6" y="94.8" width="1.2" height="1.4" fill="#f4fbe0"/>
<rect x="238.1" y="104.5" width="1.2" height="1.4" fill="#b9e3b6"/>
<rect x="273.4" y="111.5" width="1.2" height="1.4" fill="#b9e3b6"/>
<rect x="234.9" y="114.7" width="1.2" height="1.4" fill="#b9e3b6"/>
<rect x="231" y="117.9" width="1.2" height="1.4" fill="#b9e3b6"/>
<rect x="266.3" y="67.2" width="1.2" height="1.4" fill="#b9e3b6"/>
<rect x="309.4" y="69.9" width="1.2" height="1.4" fill="#b9e3b6"/>
<rect x="314.7" y="71.8" width="1.2" height="1.4" fill="#f4fbe0"/>
<rect x="306.8" y="78.4" width="1.2" height="1.4" fill="#b9e3b6"/>
<rect x="291.8" y="80.3" width="1.2" height="1.4" fill="#b9e3b6"/>
<rect x="308.1" y="83.6" width="1.2" height="1.4" fill="#b9e3b6"/>
<rect x="323.8" y="88.2" width="1.2" height="1.4" fill="#b9e3b6"/>
<rect x="316" y="96.7" width="1.2" height="1.4" fill="#b9e3b6"/>
<rect x="317.3" y="99.9" width="1.2" height="1.4" fill="#b9e3b6"/>
<rect x="312.7" y="103.2" width="1.2" height="1.4" fill="#b9e3b6"/>
<rect x="305.5" y="107.8" width="1.2" height="1.4" fill="#b9e3b6"/>
<rect x="333.4" y="106.5" width="1.2" height="1.4" fill="#b9e3b6"/>
<rect x="247.7" y="25.4" width="9" height="1" fill="#2bc6c3"/>
<rect x="247.7" y="28.8" width="8.3" height="1" fill="#2bc6c3"/>
<rect x="247.7" y="37.2" width="10.3" height="1" fill="#2bc6c3"/>
<rect x="249" y="50" width="12.8" height="1" fill="#2bc6c3"/>
<rect x="295" y="25.6" width="10.5" height="1" fill="#13a6cb"/>
<rect x="295" y="27.8" width="10.5" height="1" fill="#13a6cb"/>
<rect x="296.3" y="37" width="7.8" height="1" fill="#13a6cb"/>
<rect x="293.7" y="50.1" width="10.4" height="1" fill="#13a6cb"/>
<rect x="295" y="52" width="10.5" height="1" fill="#13a6cb"/>
<rect x="278" y="27.2" width="2.6" height="1" fill="#13a6cb"/>
<rect x="278" y="44.2" width="3.3" height="1" fill="#13a6cb"/>
<rect x="327.7" y="38.3" width="6.5" height="1" fill="#13a6cb"/>
<rect x="327.7" y="111" width="7.1" height="1" fill="#13a6cb"/>
<rect x="327.7" y="113" width="7.1" height="1" fill="#13a6cb"/>
<rect x="278" y="81.7" width="2.6" height="3.9" fill="#16a8cb"/>
<rect x="231" y="283" width="1.2" height="1.4" fill="#253494"/>
<rect x="242" y="288" width="1.2" height="1.4" fill="#225ea8"/>
<rect x="293" y="283" width="1.2" height="1.4" fill="#c7e9b4"/>
<rect x="240" y="160" width="1.2" height="1.4" fill="#a8dcb6"/>
<rect x="264.5" y="160" width="1.2" height="1.4" fill="#225ea8"/>
<rect x="271" y="226.5" width="1.2" height="1.4" fill="#253494"/>
<rect x="300" y="229" width="1.2" height="1.4" fill="#e6f5b0"/>
<rect x="275" y="394" width="1.2" height="1.4" fill="#7fcdbb"/>
<rect x="228" y="250" width="1.2" height="1.4" fill="#225ea8"/>
<rect x="318" y="232" width="1.2" height="1.4" fill="#253494"/>
<rect x="214.8" y="12.2" width="4.2" height="1.6" fill="#008000"/>
<rect x="214.8" y="13.8" width="4.2" height="2.1" fill="#20b2aa"/>
<rect x="214.8" y="15.9" width="4.2" height="0.9" fill="#6abf8c"/>
<rect x="214.8" y="16.8" width="4.2" height="2" fill="#20b2aa"/>
<rect x="214.8" y="18.8" width="4.2" height="0.9" fill="#6abf8c"/>
<rect x="214.8" y="19.7" width="4.2" height="5.9" fill="#20b2aa"/>
<rect x="214.8" y="25.6" width="4.2" height="1" fill="#c52626"/>
<rect x="214.8" y="26.6" width="4.2" height="2" fill="#0000ff"/>
<rect x="214.8" y="28.6" width="4.2" height="0.9" fill="#ff0000"/>
<rect x="214.8" y="29.5" width="4.2" height="7.3" fill="#20b2aa"/>
<rect x="214.8" y="36.8" width="4.2" height="1.9" fill="#c52626"/>
<rect x="214.8" y="38.7" width="4.2" height="5" fill="#20b2aa"/>
<rect x="214.8" y="43.7" width="4.2" height="3.2" fill="#0000ff"/>
<rect x="214.8" y="46.9" width="4.2" height="3" fill="#6abf8c"/>
<rect x="214.8" y="49.9" width="4.2" height="3.3" fill="#ff0000"/>
<rect x="214.8" y="53.2" width="4.2" height="3.6" fill="#20b2aa"/>
<rect x="214.8" y="56.8" width="4.2" height="1.7" fill="#008000"/>
<rect x="214.8" y="58.5" width="4.2" height="1.5" fill="#ff0000"/>
<rect x="214.8" y="60" width="4.2" height="5" fill="#20b2aa"/>
<rect x="214.8" y="65" width="4.2" height="2.7" fill="#6abf8c"/>
<rect x="214.8" y="67.7" width="4.2" height="1.8" fill="#008000"/>
<rect x="214.8" y="69.5" width="4.2" height="2.3" fill="#0000ff"/>
<rect x="214.8" y="71.8" width="4.2" height="2.7" fill="#6abf8c"/>
<rect x="214.8" y="74.5" width="4.2" height="2.3" fill="#008000"/>
<rect x="214.8" y="76.8" width="4.2" height="2.6" fill="#20b2aa"/>
<rect x="214.8" y="79.4" width="4.2" height="2" fill="#ff0000"/>
<rect x="214.8" y="81.4" width="4.2" height="5" fill="#0000ff"/>
<rect x="214.8" y="86.4" width="4.2" height="3.6" fill="#20b2aa"/>
<rect x="214.8" y="90" width="4.2" height="2.3" fill="#6abf8c"/>
<rect x="214.8" y="92.3" width="4.2" height="2.7" fill="#20b2aa"/>
<rect x="214.8" y="95" width="4.2" height="1.8" fill="#6abf8c"/>
<rect x="214.8" y="96.8" width="4.2" height="4.1" fill="#20b2aa"/>
<rect x="214.8" y="100.9" width="4.2" height="1.5" fill="#6abf8c"/>
<rect x="214.8" y="102.4" width="4.2" height="7.6" fill="#20b2aa"/>
<rect x="214.8" y="110" width="4.2" height="3.6" fill="#6abf8c"/>
<rect x="214.8" y="113.6" width="4.2" height="1" fill="#20b2aa"/>
<rect x="214.8" y="114.6" width="4.2" height="3.1" fill="#6abf8c"/>
<rect x="214.8" y="117.7" width="4.2" height="3.4" fill="#008000"/>
<rect x="214.8" y="121.1" width="4.2" height="103.4" fill="#c52626"/>
<rect x="214.8" y="224.5" width="4.2" height="1.9" fill="#ff0000"/>
<rect x="214.8" y="226.4" width="4.2" height="2.2" fill="#20b2aa"/>
<rect x="214.8" y="228.6" width="4.2" height="4.1" fill="#6abf8c"/>
<rect x="214.8" y="232.7" width="4.2" height="3.7" fill="#20b2aa"/>
<rect x="214.8" y="236.4" width="4.2" height="38.1" fill="#0000ff"/>
<rect x="214.8" y="274.5" width="4.2" height="4.1" fill="#20b2aa"/>
<rect x="214.8" y="278.6" width="4.2" height="1" fill="#6abf8c"/>
<rect x="214.8" y="279.6" width="4.2" height="1.4" fill="#20b2aa"/>
<rect x="214.8" y="281" width="4.2" height="4.9" fill="#ff0000"/>
<rect x="214.8" y="285.9" width="4.2" height="3.1" fill="#20b2aa"/>
<rect x="214.8" y="289" width="4.2" height="1" fill="#6abf8c"/>
<rect x="214.8" y="290" width="4.2" height="2.7" fill="#20b2aa"/>
<rect x="214.8" y="292.7" width="4.2" height="29.4" fill="#ff0000"/>
<rect x="214.8" y="322.1" width="4.2" height="71.1" fill="#20b2aa"/>
<rect x="214.8" y="393.2" width="4.2" height="93.6" fill="#6abf8c"/>
<rect x="214.8" y="486.8" width="4.2" height="20" fill="#008000"/>
<polygon points="210.6,13 183.2,13 186,40 189.5,70 193.6,117 210.6,117" fill="#d8d8d8"/>
<line x1="186" y1="14" x2="210.6" y2="14" stroke="#fff" stroke-width="0.45" stroke-opacity="0.75"/>
<line x1="186" y1="16.2" x2="210.6" y2="16.2" stroke="#fff" stroke-width="0.45" stroke-opacity="0.75"/>
<line x1="186" y1="18.3" x2="210.6" y2="18.3" stroke="#fff" stroke-width="0.45" stroke-opacity="0.75"/>
<line x1="186" y1="20.7" x2="210.6" y2="20.7" stroke="#fff" stroke-width="0.45" stroke-opacity="0.75"/>
<line x1="186" y1="23.9" x2="210.6" y2="23.9" stroke="#fff" stroke-width="0.45" stroke-opacity="0.75"/>
<line x1="186" y1="26.3" x2="210.6" y2="26.3" stroke="#fff" stroke-width="0.45" stroke-opacity="0.75"/>
<line x1="186" y1="29.5" x2="210.6" y2="29.5" stroke="#fff" stroke-width="0.45" stroke-opacity="0.75"/>
<line x1="186" y1="32.9" x2="210.6" y2="32.9" stroke="#fff" stroke-width="0.45" stroke-opacity="0.75"/>
<line x1="186" y1="35.9" x2="210.6" y2="35.9" stroke="#fff" stroke-width="0.45" stroke-opacity="0.75"/>
<line x1="186" y1="39.2" x2="210.6" y2="39.2" stroke="#fff" stroke-width="0.45" stroke-opacity="0.75"/>
<line x1="186" y1="41.6" x2="210.6" y2="41.6" stroke="#fff" stroke-width="0.45" stroke-opacity="0.75"/>
<line x1="186" y1="43.9" x2="210.6" y2="43.9" stroke="#fff" stroke-width="0.45" stroke-opacity="0.75"/>
<line x1="186" y1="46.2" x2="210.6" y2="46.2" stroke="#fff" stroke-width="0.45" stroke-opacity="0.75"/>
<line x1="186" y1="48.2" x2="210.6" y2="48.2" stroke="#fff" stroke-width="0.45" stroke-opacity="0.75"/>
<line x1="186" y1="51.5" x2="210.6" y2="51.5" stroke="#fff" stroke-width="0.45" stroke-opacity="0.75"/>
<line x1="186" y1="53.8" x2="210.6" y2="53.8" stroke="#fff" stroke-width="0.45" stroke-opacity="0.75"/>
<line x1="186" y1="56.7" x2="210.6" y2="56.7" stroke="#fff" stroke-width="0.45" stroke-opacity="0.75"/>
<line x1="186" y1="59.1" x2="210.6" y2="59.1" stroke="#fff" stroke-width="0.45" stroke-opacity="0.75"/>
<line x1="186" y1="61.9" x2="210.6" y2="61.9" stroke="#fff" stroke-width="0.45" stroke-opacity="0.75"/>
<line x1="186" y1="64.5" x2="210.6" y2="64.5" stroke="#fff" stroke-width="0.45" stroke-opacity="0.75"/>
<line x1="186" y1="67.5" x2="210.6" y2="67.5" stroke="#fff" stroke-width="0.45" stroke-opacity="0.75"/>
<line x1="186" y1="69.8" x2="210.6" y2="69.8" stroke="#fff" stroke-width="0.45" stroke-opacity="0.75"/>
<line x1="186" y1="72.2" x2="210.6" y2="72.2" stroke="#fff" stroke-width="0.45" stroke-opacity="0.75"/>
<line x1="186" y1="74.4" x2="210.6" y2="74.4" stroke="#fff" stroke-width="0.45" stroke-opacity="0.75"/>
<line x1="186" y1="76.8" x2="210.6" y2="76.8" stroke="#fff" stroke-width="0.45" stroke-opacity="0.75"/>
<line x1="186" y1="80" x2="210.6" y2="80" stroke="#fff" stroke-width="0.45" stroke-opacity="0.75"/>
<line x1="186" y1="83.3" x2="210.6" y2="83.3" stroke="#fff" stroke-width="0.45" stroke-opacity="0.75"/>
<line x1="186" y1="85.3" x2="210.6" y2="85.3" stroke="#fff" stroke-width="0.45" stroke-opacity="0.75"/>
<line x1="186" y1="88.5" x2="210.6" y2="88.5" stroke="#fff" stroke-width="0.45" stroke-opacity="0.75"/>
<line x1="186" y1="91.6" x2="210.6" y2="91.6" stroke="#fff" stroke-width="0.45" stroke-opacity="0.75"/>
<line x1="186" y1="93.7" x2="210.6" y2="93.7" stroke="#fff" stroke-width="0.45" stroke-opacity="0.75"/>
<line x1="186" y1="95.9" x2="210.6" y2="95.9" stroke="#fff" stroke-width="0.45" stroke-opacity="0.75"/>
<line x1="186" y1="99.1" x2="210.6" y2="99.1" stroke="#fff" stroke-width="0.45" stroke-opacity="0.75"/>
<line x1="186" y1="101.4" x2="210.6" y2="101.4" stroke="#fff" stroke-width="0.45" stroke-opacity="0.75"/>
<line x1="186" y1="104.6" x2="210.6" y2="104.6" stroke="#fff" stroke-width="0.45" stroke-opacity="0.75"/>
<line x1="186" y1="107.4" x2="210.6" y2="107.4" stroke="#fff" stroke-width="0.45" stroke-opacity="0.75"/>
<line x1="186" y1="110.8" x2="210.6" y2="110.8" stroke="#fff" stroke-width="0.45" stroke-opacity="0.75"/>
<line x1="186" y1="113.5" x2="210.6" y2="113.5" stroke="#fff" stroke-width="0.45" stroke-opacity="0.75"/>
<line x1="186" y1="115.7" x2="210.6" y2="115.7" stroke="#fff" stroke-width="0.45" stroke-opacity="0.75"/>
<rect x="191.5" y="72.5" width="7" height="2" fill="#f4f4f4"/>
<rect x="192.5" y="82" width="7.5" height="3" fill="#f4f4f4"/>
<rect x="192.5" y="90.5" width="9.5" height="3" fill="#f4f4f4"/>
<rect x="193" y="99" width="6" height="2.5" fill="#f4f4f4"/>
<rect x="193" y="105.5" width="8" height="3" fill="#f4f4f4"/>
<rect x="186" y="16.5" width="4" height="2" fill="#f4f4f4"/>
<rect x="188.5" y="43.5" width="2.5" height="2" fill="#f4f4f4"/>
<line x1="183.2" y1="13" x2="186" y2="40" stroke="#6a6a6a" stroke-width="0.7"/><line x1="186" y1="40" x2="189.5" y2="70" stroke="#6a6a6a" stroke-width="0.7"/><line x1="189.5" y1="70" x2="193.6" y2="117" stroke="#6a6a6a" stroke-width="0.7"/><line x1="193.6" y1="117" x2="193.6" y2="150" stroke="#777" stroke-width="0.8"/><line x1="193.8" y1="150" x2="194.8" y2="230" stroke="#8a8a8a" stroke-width="0.6"/><line x1="194.8" y1="165" x2="194.8" y2="186" stroke="#777" stroke-width="0.8"/><line x1="195" y1="230" x2="197" y2="238" stroke="#666" stroke-width="0.8"/><line x1="197.5" y1="238" x2="197.7" y2="290" stroke="#707070" stroke-width="0.8"/><line x1="198.3" y1="285" x2="198.6" y2="345" stroke="#606060" stroke-width="0.9"/><line x1="198.9" y1="345" x2="199.3" y2="423" stroke="#7a7a7a" stroke-width="0.8"/><line x1="199.4" y1="423" x2="199.4" y2="490" stroke="#a0a0a0" stroke-width="0.6"/>
<path d="M193.6,106.2L211,106.2M193.6,108L211,108M193.6,110.3L211,110.3M193.6,112.7L211,112.7M193.6,114.5L211,114.5M193.6,116.8L211,116.8M193.6,120L211,120M197.7,122L197.7,129M197.7,122L211,122M197.7,128.6L205,128.6M205.4,126L205.4,138M207,124L211,124M207,127.5L211,127.5M209,128.6L209,144M209,144L211,144M205.4,138L211,138M195.4,125L195.4,158M195.4,158.2L211,158.2M195.4,159.6L211,159.6M195.4,161L211,161M195.4,162.4L211,162.4M197.1,160L197.1,170M197.1,163L211,163M200.7,165L200.7,172M202.5,165L202.5,197.6M202.5,197.6L205,197.6M204.8,170L204.8,223M208.4,190L208.4,204M204.8,190L211,190M208.4,204L211,204M196,180L196,230M204.8,223L211,223M196,225.3L211,225.3M196,226.8L211,226.8M196,228.3L211,228.3M196,229.8L211,229.8M196,231.3L211,231.3M196,232.8L211,232.8M196,234.3L211,234.3M196,235.8L211,235.8M196,237.3L211,237.3M196,238.8L211,238.8M196,240.3L211,240.3M197.7,241.5L211,241.5M199.1,243.8L211,243.8M200.6,246.1L211,246.1M202,248.4L211,248.4M203.5,250.7L211,250.7M204.9,253L211,253M206.4,255.3L211,255.3M207.8,257.6L211,257.6M208,250L208,260M208,260L211,260M197.7,276.4L211,276.4M197.7,277.6L211,277.6M197.7,278.8L211,278.8M197.7,280L211,280M198.3,287.4L211,287.4M205,283L205,290M205,283L211,283M209,285L209,290M201.3,292L201.3,350M201.3,292L211,292M204.2,296L204.2,300M204.2,296L211,296M204.2,300L208.4,300M208.4,299L208.4,307M208.4,307L211,307M201.3,322.8L211,322.8M201.3,324L211,324M201.3,325.2L211,325.2M201.3,326.4L211,326.4M201.5,327L211,327M202.2,329L211,329M203,331L211,331M203.8,333L211,333M204.5,335L211,335M205.2,337L211,337M206,339L211,339M206.8,341L211,341M207.5,343L211,343M201.3,326L208.5,345M207.2,345L210.1,385M207.4,348L211,348M207.7,352.5L211,352.5M208,357L211,357M208.4,361.5L211,361.5M208.7,366L211,366M209,370.5L211,370.5M209.3,375L211,375M209.6,379.5L211,379.5M209.9,384L211,384M201.3,345L201.3,392M202,392.9L211,392.9M202,393.9L211,393.9M202,394.9L211,394.9M202,395.9L211,395.9M202,397L211,397M202.9,399L211,399M203.8,401L211,401M204.7,403L211,403M205.6,405L211,405M206.5,407L211,407M207.4,409L211,409M208.3,411L211,411M202,396L209,412M209,405L209,443M210.7,410L210.7,487M199.4,488L211,488M200.5,489.5L200.5,497M200.5,492L211,492M201.8,497L211,497M201.8,497L201.8,502M201.8,502L211,502M208.5,500L208.5,505.5M208.5,505.5L211,505.5" stroke="#a8a8a8" stroke-width="0.5" fill="none"/>
<g class="rl"><line x1="334.8" y1="13.1" x2="337.4" y2="13.1" stroke="#222" stroke-width="0.6"/><text x="339.4" y="15.7">EPI_ISL_1560415_Iota</text><line x1="334.8" y1="23" x2="337.4" y2="23" stroke="#222" stroke-width="0.6"/><text x="339.4" y="25.6">EPI_ISL_5911864_Delta</text><line x1="334.8" y1="32.9" x2="337.4" y2="32.9" stroke="#222" stroke-width="0.6"/><text x="339.4" y="35.5">EPI_ISL_6137415_Delta</text><line x1="334.8" y1="42.8" x2="337.4" y2="42.8" stroke="#222" stroke-width="0.6"/><text x="339.4" y="45.4">EPI_ISL_9986625_Delta</text><line x1="334.8" y1="52.7" x2="337.4" y2="52.7" stroke="#222" stroke-width="0.6"/><text x="339.4" y="55.3">EPI_ISL_9073613_Omicron</text><line x1="334.8" y1="62.6" x2="337.4" y2="62.6" stroke="#222" stroke-width="0.6"/><text x="339.4" y="65.2">EPI_ISL_6530210_Delta</text><line x1="334.8" y1="72.5" x2="337.4" y2="72.5" stroke="#222" stroke-width="0.6"/><text x="339.4" y="75.1">EPI_ISL_1186810_Alpha</text><line x1="334.8" y1="82.4" x2="337.4" y2="82.4" stroke="#222" stroke-width="0.6"/><text x="339.4" y="85">EPI_ISL_1595527_Gamma</text><line x1="334.8" y1="92.3" x2="337.4" y2="92.3" stroke="#222" stroke-width="0.6"/><text x="339.4" y="94.9">EPI_ISL_1972023_Alpha</text><line x1="334.8" y1="102.2" x2="337.4" y2="102.2" stroke="#222" stroke-width="0.6"/><text x="339.4" y="104.8">EPI_ISL_1836540_Alpha</text><line x1="334.8" y1="112.1" x2="337.4" y2="112.1" stroke="#222" stroke-width="0.6"/><text x="339.4" y="114.7">EPI_ISL_1412860_Alpha</text><line x1="334.8" y1="122" x2="337.4" y2="122" stroke="#222" stroke-width="0.6"/><text x="339.4" y="124.6">EPI_ISL_11073224_Omicron</text><line x1="334.8" y1="131.9" x2="337.4" y2="131.9" stroke="#222" stroke-width="0.6"/><text x="339.4" y="134.5">EPI_ISL_10399615_Omicron</text><line x1="334.8" y1="141.8" x2="337.4" y2="141.8" stroke="#222" stroke-width="0.6"/><text x="339.4" y="144.4">EPI_ISL_10412677_Omicron</text><line x1="334.8" y1="151.7" x2="337.4" y2="151.7" stroke="#222" stroke-width="0.6"/><text x="339.4" y="154.3">EPI_ISL_11421974_Omicron</text><line x1="334.8" y1="161.6" x2="337.4" y2="161.6" stroke="#222" stroke-width="0.6"/><text x="339.4" y="164.2">EPI_ISL_11174583_Omicron</text><line x1="334.8" y1="171.5" x2="337.4" y2="171.5" stroke="#222" stroke-width="0.6"/><text x="339.4" y="174.1">EPI_ISL_11262526_Omicron</text><line x1="334.8" y1="181.4" x2="337.4" y2="181.4" stroke="#222" stroke-width="0.6"/><text x="339.4" y="184">EPI_ISL_8838025_Omicron</text><line x1="334.8" y1="191.3" x2="337.4" y2="191.3" stroke="#222" stroke-width="0.6"/><text x="339.4" y="193.9">EPI_ISL_10049581_Omicron</text><line x1="334.8" y1="201.2" x2="337.4" y2="201.2" stroke="#222" stroke-width="0.6"/><text x="339.4" y="203.8">EPI_ISL_8948467_Omicron</text><line x1="334.8" y1="211.1" x2="337.4" y2="211.1" stroke="#222" stroke-width="0.6"/><text x="339.4" y="213.7">EPI_ISL_9510776_Omicron</text><line x1="334.8" y1="221" x2="337.4" y2="221" stroke="#222" stroke-width="0.6"/><text x="339.4" y="223.6">EPI_ISL_9713246_Omicron</text><line x1="334.8" y1="230.9" x2="337.4" y2="230.9" stroke="#222" stroke-width="0.6"/><text x="339.4" y="233.5">EPI_ISL_2749545_Alpha</text><line x1="334.8" y1="240.8" x2="337.4" y2="240.8" stroke="#222" stroke-width="0.6"/><text x="339.4" y="243.4">EPI_ISL_5650527_Gamma</text><line x1="334.8" y1="250.7" x2="337.4" y2="250.7" stroke="#222" stroke-width="0.6"/><text x="339.4" y="253.3">EPI_ISL_6945661_Gamma</text><line x1="334.8" y1="260.6" x2="337.4" y2="260.6" stroke="#222" stroke-width="0.6"/><text x="339.4" y="263.2">EPI_ISL_1836649_Gamma</text><line x1="334.8" y1="270.5" x2="337.4" y2="270.5" stroke="#222" stroke-width="0.6"/><text x="339.4" y="273.1">EPI_ISL_1896988_Gamma</text><line x1="334.8" y1="280.4" x2="337.4" y2="280.4" stroke="#222" stroke-width="0.6"/><text x="339.4" y="283">EPI_ISL_5637409_Delta</text><line x1="334.8" y1="290.3" x2="337.4" y2="290.3" stroke="#222" stroke-width="0.6"/><text x="339.4" y="292.9">EPI_ISL_4845458_Delta</text><line x1="334.8" y1="300.2" x2="337.4" y2="300.2" stroke="#222" stroke-width="0.6"/><text x="339.4" y="302.8">EPI_ISL_6267148_Epsilon</text><line x1="334.8" y1="310.1" x2="337.4" y2="310.1" stroke="#222" stroke-width="0.6"/><text x="339.4" y="312.7">EPI_ISL_1907014_Epsilon</text><line x1="334.8" y1="320" x2="337.4" y2="320" stroke="#222" stroke-width="0.6"/><text x="339.4" y="322.6">EPI_ISL_1030685_Epsilon</text><line x1="334.8" y1="329.9" x2="337.4" y2="329.9" stroke="#222" stroke-width="0.6"/><text x="339.4" y="332.5">EPI_ISL_7326656_Delta</text><line x1="334.8" y1="339.8" x2="337.4" y2="339.8" stroke="#222" stroke-width="0.6"/><text x="339.4" y="342.4">EPI_ISL_3562958_Delta</text><line x1="334.8" y1="349.7" x2="337.4" y2="349.7" stroke="#222" stroke-width="0.6"/><text x="339.4" y="352.3">EPI_ISL_8056508_Delta</text><line x1="334.8" y1="359.6" x2="337.4" y2="359.6" stroke="#222" stroke-width="0.6"/><text x="339.4" y="362.2">EPI_ISL_3643011_Delta</text><line x1="334.8" y1="369.5" x2="337.4" y2="369.5" stroke="#222" stroke-width="0.6"/><text x="339.4" y="372.1">EPI_ISL_4968072_Delta</text><line x1="334.8" y1="379.4" x2="337.4" y2="379.4" stroke="#222" stroke-width="0.6"/><text x="339.4" y="382">EPI_ISL_8883233_Delta</text><line x1="334.8" y1="389.3" x2="337.4" y2="389.3" stroke="#222" stroke-width="0.6"/><text x="339.4" y="391.9">EPI_ISL_7236035_Delta</text><line x1="334.8" y1="399.2" x2="337.4" y2="399.2" stroke="#222" stroke-width="0.6"/><text x="339.4" y="401.8">EPI_ISL_2833259_Alpha</text><line x1="334.8" y1="409.1" x2="337.4" y2="409.1" stroke="#222" stroke-width="0.6"/><text x="339.4" y="411.7">EPI_ISL_2230791_Alpha</text><line x1="334.8" y1="419" x2="337.4" y2="419" stroke="#222" stroke-width="0.6"/><text x="339.4" y="421.6">EPI_ISL_2739063_Alpha</text><line x1="334.8" y1="428.9" x2="337.4" y2="428.9" stroke="#222" stroke-width="0.6"/><text x="339.4" y="431.5">EPI_ISL_704826_Alpha</text><line x1="334.8" y1="438.8" x2="337.4" y2="438.8" stroke="#222" stroke-width="0.6"/><text x="339.4" y="441.4">EPI_ISL_1632626_Alpha</text><line x1="334.8" y1="448.7" x2="337.4" y2="448.7" stroke="#222" stroke-width="0.6"/><text x="339.4" y="451.3">EPI_ISL_2543916_Alpha</text><line x1="334.8" y1="458.6" x2="337.4" y2="458.6" stroke="#222" stroke-width="0.6"/><text x="339.4" y="461.2">EPI_ISL_3029853_Alpha</text><line x1="334.8" y1="468.5" x2="337.4" y2="468.5" stroke="#222" stroke-width="0.6"/><text x="339.4" y="471.1">EPI_ISL_1707981_Alpha</text><line x1="334.8" y1="478.4" x2="337.4" y2="478.4" stroke="#222" stroke-width="0.6"/><text x="339.4" y="481">EPI_ISL_2206319_Alpha</text><line x1="334.8" y1="488.3" x2="337.4" y2="488.3" stroke="#222" stroke-width="0.6"/><text x="339.4" y="490.9">EPI_ISL_3025098_Iota</text><line x1="334.8" y1="498.2" x2="337.4" y2="498.2" stroke="#222" stroke-width="0.6"/><text x="339.4" y="500.8">EPI_ISL_3354789_Iota</text></g>
<text class="rl" transform="translate(431.4 260.2) rotate(-90)" text-anchor="middle">seq_id</text>
<g class="rl"><line x1="216.9" y1="506.8" x2="216.9" y2="509.4" stroke="#333" stroke-width="0.5"/><text transform="translate(219.1 512.3) rotate(-90)" text-anchor="end">lineage</text><line x1="222.6" y1="506.8" x2="222.6" y2="509.4" stroke="#333" stroke-width="0.5"/><line x1="227.7" y1="506.8" x2="227.7" y2="509.4" stroke="#333" stroke-width="0.5"/><line x1="232.8" y1="506.8" x2="232.8" y2="509.4" stroke="#333" stroke-width="0.5"/><line x1="237.9" y1="506.8" x2="237.9" y2="509.4" stroke="#333" stroke-width="0.5"/><line x1="243.1" y1="506.8" x2="243.1" y2="509.4" stroke="#333" stroke-width="0.5"/><line x1="248.2" y1="506.8" x2="248.2" y2="509.4" stroke="#333" stroke-width="0.5"/><line x1="253.3" y1="506.8" x2="253.3" y2="509.4" stroke="#333" stroke-width="0.5"/><line x1="258.4" y1="506.8" x2="258.4" y2="509.4" stroke="#333" stroke-width="0.5"/><line x1="263.5" y1="506.8" x2="263.5" y2="509.4" stroke="#333" stroke-width="0.5"/><line x1="268.6" y1="506.8" x2="268.6" y2="509.4" stroke="#333" stroke-width="0.5"/><line x1="273.7" y1="506.8" x2="273.7" y2="509.4" stroke="#333" stroke-width="0.5"/><line x1="278.9" y1="506.8" x2="278.9" y2="509.4" stroke="#333" stroke-width="0.5"/><line x1="284" y1="506.8" x2="284" y2="509.4" stroke="#333" stroke-width="0.5"/><line x1="289.1" y1="506.8" x2="289.1" y2="509.4" stroke="#333" stroke-width="0.5"/><line x1="294.2" y1="506.8" x2="294.2" y2="509.4" stroke="#333" stroke-width="0.5"/><line x1="299.3" y1="506.8" x2="299.3" y2="509.4" stroke="#333" stroke-width="0.5"/><line x1="304.4" y1="506.8" x2="304.4" y2="509.4" stroke="#333" stroke-width="0.5"/><line x1="309.5" y1="506.8" x2="309.5" y2="509.4" stroke="#333" stroke-width="0.5"/><line x1="314.7" y1="506.8" x2="314.7" y2="509.4" stroke="#333" stroke-width="0.5"/><line x1="319.8" y1="506.8" x2="319.8" y2="509.4" stroke="#333" stroke-width="0.5"/><line x1="324.9" y1="506.8" x2="324.9" y2="509.4" stroke="#333" stroke-width="0.5"/><line x1="330" y1="506.8" x2="330" y2="509.4" stroke="#333" stroke-width="0.5"/><text transform="translate(224.8 512.3) rotate(-90)" text-anchor="end">19480</text><text transform="translate(228.8 512.3) rotate(-90)" text-anchor="end">21227</text><text transform="translate(232.8 512.3) rotate(-90)" text-anchor="end">15247</text><text transform="translate(236.8 512.3) rotate(-90)" text-anchor="end">25357</text><text transform="translate(240.8 512.3) rotate(-90)" text-anchor="end">15614</text><text transform="translate(244.8 512.3) rotate(-90)" text-anchor="end">13838</text><text transform="translate(248.8 512.3) rotate(-90)" text-anchor="end">28948</text><text transform="translate(252.8 512.3) rotate(-90)" text-anchor="end">20523</text><text transform="translate(256.8 512.3) rotate(-90)" text-anchor="end">24224</text><text transform="translate(260.8 512.3) rotate(-90)" text-anchor="end">17620</text><text transform="translate(264.8 512.3) rotate(-90)" text-anchor="end">19460</text><text transform="translate(268.8 512.3) rotate(-90)" text-anchor="end">23150</text><text transform="translate(272.8 512.3) rotate(-90)" text-anchor="end">14263</text><text transform="translate(276.8 512.3) rotate(-90)" text-anchor="end">19327</text><text transform="translate(280.8 512.3) rotate(-90)" text-anchor="end">22560</text><text transform="translate(284.8 512.3) rotate(-90)" text-anchor="end">29013</text><text transform="translate(288.8 512.3) rotate(-90)" text-anchor="end">25570</text><text transform="translate(292.8 512.3) rotate(-90)" text-anchor="end">21245</text><text transform="translate(296.8 512.3) rotate(-90)" text-anchor="end">18453</text><text transform="translate(300.8 512.3) rotate(-90)" text-anchor="end">26220</text><text transform="translate(304.8 512.3) rotate(-90)" text-anchor="end">24630</text><text transform="translate(308.8 512.3) rotate(-90)" text-anchor="end">11752</text><text transform="translate(312.8 512.3) rotate(-90)" text-anchor="end">23055</text><text transform="translate(316.8 512.3) rotate(-90)" text-anchor="end">16470</text><text transform="translate(320.8 512.3) rotate(-90)" text-anchor="end">27351</text><text transform="translate(324.8 512.3) rotate(-90)" text-anchor="end">2794</text><text transform="translate(328.8 512.3) rotate(-90)" text-anchor="end">1250</text><text transform="translate(332.8 512.3) rotate(-90)" text-anchor="end">9855</text></g>
</svg>
</body></html>
